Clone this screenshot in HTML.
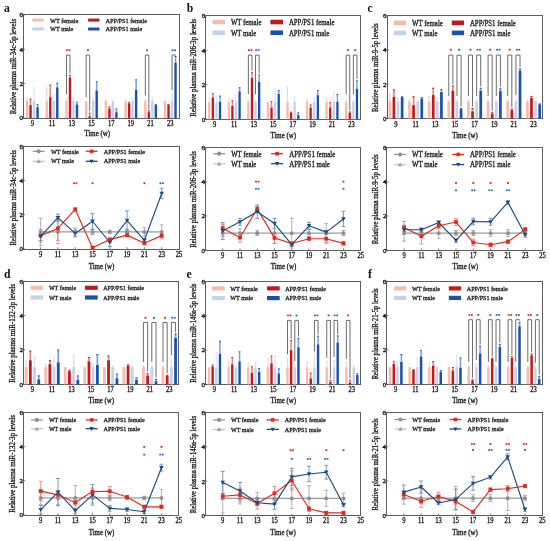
<!DOCTYPE html>
<html><head><meta charset="utf-8"><style>
html,body{margin:0;padding:0;background:#fff;}
body{width:550px;height:541px;overflow:hidden;font-family:"Liberation Serif", serif;}
svg{display:block;will-change:transform;}
</style></head><body>
<svg width="550" height="541" viewBox="0 0 550 541" font-family="'Liberation Serif', serif">
<rect width="550" height="541" fill="#fff"/>
<rect x="23.5" y="14.5" width="156" height="104" fill="none" stroke="#5e5e5e" stroke-width="1"/>
<rect x="32.3" y="18.6" width="11.4" height="3" fill="#f7bcae"/>
<rect x="32.3" y="27.5" width="11.4" height="3" fill="#c4d3ea"/>
<rect x="88.1" y="18.6" width="11.4" height="3" fill="#bf1b1f"/>
<rect x="88.1" y="27.5" width="11.4" height="3" fill="#1b51ae"/>
<text x="0" y="0" font-size="7" text-anchor="start" font-weight="normal" fill="#1c1c1c" stroke="#1c1c1c" stroke-width="0.32" transform="translate(50 22.7) scale(0.8976 1)">WT female</text>
<text x="0" y="0" font-size="7" text-anchor="start" font-weight="normal" fill="#1c1c1c" stroke="#1c1c1c" stroke-width="0.32" transform="translate(50 31) scale(0.8976 1)">WT male</text>
<text x="0" y="0" font-size="7" text-anchor="start" font-weight="normal" fill="#1c1c1c" stroke="#1c1c1c" stroke-width="0.32" transform="translate(105.5 22.7) scale(0.8882 1)">APP/PS1 female</text>
<text x="0" y="0" font-size="7" text-anchor="start" font-weight="normal" fill="#1c1c1c" stroke="#1c1c1c" stroke-width="0.32" transform="translate(105.5 31) scale(0.8882 1)">APP/PS1 male</text>
<line x1="27.05" y1="97.38" x2="27.05" y2="100.82" stroke="#f9d3c8" stroke-width="1.08"/>
<line x1="26.14" y1="97.78" x2="27.96" y2="97.78" stroke="#f9d3c8" stroke-width="0.9"/>
<rect x="25.85" y="100.82" width="2.4" height="17.18" fill="#f7bcae"/>
<line x1="30.55" y1="98.75" x2="30.55" y2="105.11" stroke="#e0857c" stroke-width="1.49"/>
<line x1="29.64" y1="99.15" x2="31.46" y2="99.15" stroke="#bf1b1f" stroke-width="0.9"/>
<rect x="29.35" y="105.11" width="2.4" height="12.89" fill="#bf1b1f"/>
<line x1="34.05" y1="87.41" x2="34.05" y2="100.82" stroke="#d8e2f2" stroke-width="1.08"/>
<line x1="33.14" y1="87.81" x2="34.96" y2="87.81" stroke="#d8e2f2" stroke-width="0.9"/>
<rect x="32.85" y="100.82" width="2.4" height="17.18" fill="#c4d3ea"/>
<line x1="37.55" y1="104.25" x2="37.55" y2="107.17" stroke="#7a9fd6" stroke-width="1.49"/>
<line x1="36.64" y1="104.65" x2="38.46" y2="104.65" stroke="#1b51ae" stroke-width="0.9"/>
<rect x="36.35" y="107.17" width="2.4" height="10.83" fill="#1b51ae"/>
<text x="0" y="0" font-size="7.3" text-anchor="middle" font-weight="normal" fill="#1c1c1c" stroke="#1c1c1c" stroke-width="0.32" transform="translate(32.3 125.5) scale(0.9000 1)">9</text>
<line x1="46.77" y1="87.76" x2="46.77" y2="100.82" stroke="#f9d3c8" stroke-width="1.08"/>
<line x1="45.85" y1="88.16" x2="47.68" y2="88.16" stroke="#f9d3c8" stroke-width="0.9"/>
<rect x="45.57" y="100.82" width="2.4" height="17.18" fill="#f7bcae"/>
<line x1="50.27" y1="84.66" x2="50.27" y2="97.21" stroke="#e0857c" stroke-width="1.49"/>
<line x1="49.35" y1="85.06" x2="51.18" y2="85.06" stroke="#bf1b1f" stroke-width="0.9"/>
<rect x="49.07" y="97.21" width="2.4" height="20.79" fill="#bf1b1f"/>
<line x1="53.77" y1="94.63" x2="53.77" y2="100.82" stroke="#d8e2f2" stroke-width="1.08"/>
<line x1="52.85" y1="95.03" x2="54.68" y2="95.03" stroke="#d8e2f2" stroke-width="0.9"/>
<rect x="52.57" y="100.82" width="2.4" height="17.18" fill="#c4d3ea"/>
<line x1="57.27" y1="82.77" x2="57.27" y2="87.41" stroke="#7a9fd6" stroke-width="1.49"/>
<line x1="56.35" y1="83.17" x2="58.18" y2="83.17" stroke="#1b51ae" stroke-width="0.9"/>
<rect x="56.07" y="87.41" width="2.4" height="30.59" fill="#1b51ae"/>
<text x="0" y="0" font-size="7.3" text-anchor="middle" font-weight="normal" fill="#1c1c1c" stroke="#1c1c1c" stroke-width="0.32" transform="translate(52.02 125.5) scale(0.9000 1)">11</text>
<line x1="66.48" y1="97.9" x2="66.48" y2="100.82" stroke="#f9d3c8" stroke-width="1.08"/>
<line x1="65.57" y1="98.3" x2="67.39" y2="98.3" stroke="#f9d3c8" stroke-width="0.9"/>
<rect x="65.28" y="100.82" width="2.4" height="17.18" fill="#f7bcae"/>
<line x1="69.98" y1="75.04" x2="69.98" y2="77.45" stroke="#e0857c" stroke-width="1.49"/>
<line x1="69.07" y1="75.44" x2="70.89" y2="75.44" stroke="#bf1b1f" stroke-width="0.9"/>
<rect x="68.78" y="77.45" width="2.4" height="40.55" fill="#bf1b1f"/>
<line x1="73.48" y1="97.38" x2="73.48" y2="100.82" stroke="#d8e2f2" stroke-width="1.08"/>
<line x1="72.57" y1="97.78" x2="74.39" y2="97.78" stroke="#d8e2f2" stroke-width="0.9"/>
<rect x="72.28" y="100.82" width="2.4" height="17.18" fill="#c4d3ea"/>
<line x1="76.98" y1="101.85" x2="76.98" y2="104.43" stroke="#7a9fd6" stroke-width="1.49"/>
<line x1="76.07" y1="102.25" x2="77.89" y2="102.25" stroke="#1b51ae" stroke-width="0.9"/>
<rect x="75.78" y="104.43" width="2.4" height="13.57" fill="#1b51ae"/>
<text x="0" y="0" font-size="7.3" text-anchor="middle" font-weight="normal" fill="#1c1c1c" stroke="#1c1c1c" stroke-width="0.32" transform="translate(71.73 125.5) scale(0.9000 1)">13</text>
<rect x="84.99" y="100.82" width="2.4" height="17.18" fill="#f7bcae"/>
<line x1="89.69" y1="112.84" x2="89.69" y2="116.28" stroke="#e0857c" stroke-width="1.49"/>
<line x1="88.78" y1="113.25" x2="90.61" y2="113.25" stroke="#bf1b1f" stroke-width="0.9"/>
<rect x="88.49" y="116.28" width="2.4" height="1.72" fill="#bf1b1f"/>
<line x1="93.19" y1="97.9" x2="93.19" y2="100.82" stroke="#d8e2f2" stroke-width="1.08"/>
<line x1="92.28" y1="98.3" x2="94.11" y2="98.3" stroke="#d8e2f2" stroke-width="0.9"/>
<rect x="91.99" y="100.82" width="2.4" height="17.18" fill="#c4d3ea"/>
<line x1="96.69" y1="81.4" x2="96.69" y2="90.68" stroke="#7a9fd6" stroke-width="1.49"/>
<line x1="95.78" y1="81.8" x2="97.61" y2="81.8" stroke="#1b51ae" stroke-width="0.9"/>
<rect x="95.49" y="90.68" width="2.4" height="27.32" fill="#1b51ae"/>
<text x="0" y="0" font-size="7.3" text-anchor="middle" font-weight="normal" fill="#1c1c1c" stroke="#1c1c1c" stroke-width="0.32" transform="translate(91.44 125.5) scale(0.9000 1)">15</text>
<line x1="105.91" y1="100.3" x2="105.91" y2="100.82" stroke="#f9d3c8" stroke-width="1.08"/>
<line x1="104.99" y1="100.7" x2="106.82" y2="100.7" stroke="#f9d3c8" stroke-width="0.9"/>
<rect x="104.71" y="100.82" width="2.4" height="17.18" fill="#f7bcae"/>
<line x1="109.41" y1="106.49" x2="109.41" y2="108.55" stroke="#e0857c" stroke-width="1.49"/>
<line x1="108.49" y1="106.89" x2="110.32" y2="106.89" stroke="#bf1b1f" stroke-width="0.9"/>
<rect x="108.21" y="108.55" width="2.4" height="9.45" fill="#bf1b1f"/>
<rect x="111.71" y="100.82" width="2.4" height="17.18" fill="#c4d3ea"/>
<line x1="116.41" y1="108.55" x2="116.41" y2="112.16" stroke="#7a9fd6" stroke-width="1.49"/>
<line x1="115.49" y1="108.95" x2="117.32" y2="108.95" stroke="#1b51ae" stroke-width="0.9"/>
<rect x="115.21" y="112.16" width="2.4" height="5.84" fill="#1b51ae"/>
<text x="0" y="0" font-size="7.3" text-anchor="middle" font-weight="normal" fill="#1c1c1c" stroke="#1c1c1c" stroke-width="0.32" transform="translate(111.16 125.5) scale(0.9000 1)">17</text>
<rect x="124.42" y="100.82" width="2.4" height="17.18" fill="#f7bcae"/>
<line x1="129.12" y1="102.19" x2="129.12" y2="103.39" stroke="#e0857c" stroke-width="1.49"/>
<line x1="128.21" y1="102.59" x2="130.03" y2="102.59" stroke="#bf1b1f" stroke-width="0.9"/>
<rect x="127.92" y="103.39" width="2.4" height="14.61" fill="#bf1b1f"/>
<line x1="132.62" y1="97.9" x2="132.62" y2="100.82" stroke="#d8e2f2" stroke-width="1.08"/>
<line x1="131.71" y1="98.3" x2="133.53" y2="98.3" stroke="#d8e2f2" stroke-width="0.9"/>
<rect x="131.42" y="100.82" width="2.4" height="17.18" fill="#c4d3ea"/>
<line x1="136.12" y1="79.51" x2="136.12" y2="89.99" stroke="#7a9fd6" stroke-width="1.49"/>
<line x1="135.21" y1="79.91" x2="137.03" y2="79.91" stroke="#1b51ae" stroke-width="0.9"/>
<rect x="134.92" y="89.99" width="2.4" height="28.01" fill="#1b51ae"/>
<text x="0" y="0" font-size="7.3" text-anchor="middle" font-weight="normal" fill="#1c1c1c" stroke="#1c1c1c" stroke-width="0.32" transform="translate(130.87 125.5) scale(0.9000 1)">19</text>
<line x1="145.33" y1="99.1" x2="145.33" y2="100.82" stroke="#f9d3c8" stroke-width="1.08"/>
<line x1="144.42" y1="99.5" x2="146.25" y2="99.5" stroke="#f9d3c8" stroke-width="0.9"/>
<rect x="144.13" y="100.82" width="2.4" height="17.18" fill="#f7bcae"/>
<line x1="148.83" y1="110.44" x2="148.83" y2="112.16" stroke="#e0857c" stroke-width="1.49"/>
<line x1="147.92" y1="110.84" x2="149.75" y2="110.84" stroke="#bf1b1f" stroke-width="0.9"/>
<rect x="147.63" y="112.16" width="2.4" height="5.84" fill="#bf1b1f"/>
<line x1="152.33" y1="96.86" x2="152.33" y2="100.82" stroke="#d8e2f2" stroke-width="1.08"/>
<line x1="151.42" y1="97.26" x2="153.25" y2="97.26" stroke="#d8e2f2" stroke-width="0.9"/>
<rect x="151.13" y="100.82" width="2.4" height="17.18" fill="#c4d3ea"/>
<line x1="155.83" y1="104.25" x2="155.83" y2="105.11" stroke="#7a9fd6" stroke-width="1.49"/>
<line x1="154.92" y1="104.65" x2="156.75" y2="104.65" stroke="#1b51ae" stroke-width="0.9"/>
<rect x="154.63" y="105.11" width="2.4" height="12.89" fill="#1b51ae"/>
<text x="0" y="0" font-size="7.3" text-anchor="middle" font-weight="normal" fill="#1c1c1c" stroke="#1c1c1c" stroke-width="0.32" transform="translate(150.58 125.5) scale(0.9000 1)">21</text>
<rect x="163.85" y="100.82" width="2.4" height="17.18" fill="#f7bcae"/>
<rect x="167.35" y="104.25" width="2.4" height="13.75" fill="#bf1b1f"/>
<line x1="172.05" y1="93.6" x2="172.05" y2="100.82" stroke="#d8e2f2" stroke-width="1.08"/>
<line x1="171.14" y1="94" x2="172.96" y2="94" stroke="#d8e2f2" stroke-width="0.9"/>
<rect x="170.85" y="100.82" width="2.4" height="17.18" fill="#c4d3ea"/>
<line x1="175.55" y1="56.14" x2="175.55" y2="62.67" stroke="#7a9fd6" stroke-width="1.49"/>
<line x1="174.64" y1="56.54" x2="176.46" y2="56.54" stroke="#1b51ae" stroke-width="0.9"/>
<rect x="174.35" y="62.67" width="2.4" height="55.33" fill="#1b51ae"/>
<text x="0" y="0" font-size="7.3" text-anchor="middle" font-weight="normal" fill="#1c1c1c" stroke="#1c1c1c" stroke-width="0.32" transform="translate(170.3 125.5) scale(0.9000 1)">23</text>
<polyline points="66.48,94.4 66.48,55.1 69.98,55.1 69.98,73.54" fill="none" stroke="#6c6c6c" stroke-width="1.0"/>
<rect x="66.08" y="49.35" width="1.8" height="1.7" fill="#d42a2a"/>
<rect x="68.58" y="49.35" width="1.8" height="1.7" fill="#d42a2a"/>
<polyline points="86.19,97.32 86.19,55.1 89.69,55.1 89.69,111.34" fill="none" stroke="#6c6c6c" stroke-width="1.0"/>
<rect x="86.99" y="49.3" width="1.9" height="1.8" fill="#d42a2a"/>
<polyline points="145.33,95.6 145.33,55.1 148.83,55.1 148.83,108.94" fill="none" stroke="#6c6c6c" stroke-width="1.0"/>
<rect x="146.13" y="49.3" width="1.9" height="1.8" fill="#d42a2a"/>
<polyline points="172.05,90.1 172.05,55.1 175.55,55.1 175.55,54.64" fill="none" stroke="#6c6c6c" stroke-width="1.0"/>
<rect x="171.65" y="49.35" width="1.8" height="1.7" fill="#2a62c0"/>
<rect x="174.15" y="49.35" width="1.8" height="1.7" fill="#2a62c0"/>
<line x1="21.5" y1="118" x2="25.1" y2="118" stroke="#5e5e5e" stroke-width="0.8"/>
<text x="0" y="0" font-size="7" text-anchor="end" font-weight="normal" fill="#1c1c1c" stroke="#1c1c1c" stroke-width="0.32" transform="translate(22.9 120.38) scale(1.0000 1)">0</text>
<line x1="21.5" y1="83.63" x2="25.1" y2="83.63" stroke="#5e5e5e" stroke-width="0.8"/>
<text x="0" y="0" font-size="7" text-anchor="end" font-weight="normal" fill="#1c1c1c" stroke="#1c1c1c" stroke-width="0.32" transform="translate(22.9 86.01) scale(1.0000 1)">2</text>
<line x1="21.5" y1="49.27" x2="25.1" y2="49.27" stroke="#5e5e5e" stroke-width="0.8"/>
<text x="0" y="0" font-size="7" text-anchor="end" font-weight="normal" fill="#1c1c1c" stroke="#1c1c1c" stroke-width="0.32" transform="translate(22.9 51.65) scale(1.0000 1)">4</text>
<line x1="21.5" y1="14.9" x2="25.1" y2="14.9" stroke="#5e5e5e" stroke-width="0.8"/>
<text x="0" y="0" font-size="7" text-anchor="end" font-weight="normal" fill="#1c1c1c" stroke="#1c1c1c" stroke-width="0.32" transform="translate(22.9 17.28) scale(1.0000 1)">6</text>
<text x="0" y="0" font-size="8" text-anchor="middle" font-weight="normal" fill="#1c1c1c" stroke="#1c1c1c" stroke-width="0.32" transform="translate(15.5 66.65) rotate(-90) scale(0.8479 1)">Relative plasma miR-34c-5p levels</text>
<text x="0" y="0" font-size="7.5" text-anchor="middle" font-weight="normal" fill="#1c1c1c" stroke="#1c1c1c" stroke-width="0.32" transform="translate(97.25 136) scale(0.9156 1)">Time (w)</text>
<text x="0" y="0" font-size="13" text-anchor="start" font-weight="bold" fill="#111" transform="translate(4.1 11.7) scale(0.9000 1)">a</text>
<rect x="205.5" y="15.5" width="155" height="104" fill="none" stroke="#5e5e5e" stroke-width="1"/>
<rect x="212.5" y="19.7" width="12.6" height="4.6" fill="#f7bcae"/>
<rect x="212.5" y="30.4" width="12.6" height="4.6" fill="#c4d3ea"/>
<rect x="270.4" y="19.7" width="12.6" height="4.6" fill="#bf1b1f"/>
<rect x="270.4" y="30.4" width="12.6" height="4.6" fill="#1b51ae"/>
<text x="0" y="0" font-size="7.64" text-anchor="start" font-weight="normal" fill="#1c1c1c" stroke="#1c1c1c" stroke-width="0.32" transform="translate(230.9 24.7) scale(0.8920 1)">WT female</text>
<text x="0" y="0" font-size="7.64" text-anchor="start" font-weight="normal" fill="#1c1c1c" stroke="#1c1c1c" stroke-width="0.32" transform="translate(230.9 35.6) scale(0.8920 1)">WT male</text>
<text x="0" y="0" font-size="7.64" text-anchor="start" font-weight="normal" fill="#1c1c1c" stroke="#1c1c1c" stroke-width="0.32" transform="translate(288.9 24.7) scale(0.8938 1)">APP/PS1 female</text>
<text x="0" y="0" font-size="7.64" text-anchor="start" font-weight="normal" fill="#1c1c1c" stroke="#1c1c1c" stroke-width="0.32" transform="translate(288.9 35.6) scale(0.8938 1)">APP/PS1 male</text>
<line x1="209.23" y1="97.47" x2="209.23" y2="101.95" stroke="#f9d3c8" stroke-width="1.03"/>
<line x1="208.36" y1="97.87" x2="210.11" y2="97.87" stroke="#f9d3c8" stroke-width="0.9"/>
<rect x="208.08" y="101.95" width="2.3" height="17.25" fill="#f7bcae"/>
<line x1="212.83" y1="93.33" x2="212.83" y2="97.47" stroke="#e0857c" stroke-width="1.43"/>
<line x1="211.96" y1="93.73" x2="213.71" y2="93.73" stroke="#bf1b1f" stroke-width="0.9"/>
<rect x="211.68" y="97.47" width="2.3" height="21.73" fill="#bf1b1f"/>
<line x1="216.43" y1="95.74" x2="216.43" y2="101.95" stroke="#d8e2f2" stroke-width="1.03"/>
<line x1="215.56" y1="96.14" x2="217.31" y2="96.14" stroke="#d8e2f2" stroke-width="0.9"/>
<rect x="215.28" y="101.95" width="2.3" height="17.25" fill="#c4d3ea"/>
<line x1="220.03" y1="95.74" x2="220.03" y2="101.95" stroke="#7a9fd6" stroke-width="1.43"/>
<line x1="219.16" y1="96.14" x2="220.91" y2="96.14" stroke="#1b51ae" stroke-width="0.9"/>
<rect x="218.88" y="101.95" width="2.3" height="17.25" fill="#1b51ae"/>
<text x="0" y="0" font-size="7.3" text-anchor="middle" font-weight="normal" fill="#1c1c1c" stroke="#1c1c1c" stroke-width="0.32" transform="translate(214.63 126.5) scale(0.9000 1)">9</text>
<line x1="228.79" y1="98.16" x2="228.79" y2="101.95" stroke="#f9d3c8" stroke-width="1.03"/>
<line x1="227.92" y1="98.56" x2="229.67" y2="98.56" stroke="#f9d3c8" stroke-width="0.9"/>
<rect x="227.64" y="101.95" width="2.3" height="17.25" fill="#f7bcae"/>
<line x1="232.39" y1="100.22" x2="232.39" y2="105.92" stroke="#e0857c" stroke-width="1.43"/>
<line x1="231.52" y1="100.62" x2="233.27" y2="100.62" stroke="#bf1b1f" stroke-width="0.9"/>
<rect x="231.24" y="105.92" width="2.3" height="13.28" fill="#bf1b1f"/>
<line x1="235.99" y1="94.53" x2="235.99" y2="101.95" stroke="#d8e2f2" stroke-width="1.03"/>
<line x1="235.12" y1="94.93" x2="236.87" y2="94.93" stroke="#d8e2f2" stroke-width="0.9"/>
<rect x="234.84" y="101.95" width="2.3" height="17.25" fill="#c4d3ea"/>
<line x1="239.59" y1="87.29" x2="239.59" y2="91.43" stroke="#7a9fd6" stroke-width="1.43"/>
<line x1="238.72" y1="87.69" x2="240.47" y2="87.69" stroke="#1b51ae" stroke-width="0.9"/>
<rect x="238.44" y="91.43" width="2.3" height="27.77" fill="#1b51ae"/>
<text x="0" y="0" font-size="7.3" text-anchor="middle" font-weight="normal" fill="#1c1c1c" stroke="#1c1c1c" stroke-width="0.32" transform="translate(234.19 126.5) scale(0.9000 1)">11</text>
<line x1="248.36" y1="100.22" x2="248.36" y2="101.95" stroke="#f9d3c8" stroke-width="1.03"/>
<line x1="247.48" y1="100.62" x2="249.23" y2="100.62" stroke="#f9d3c8" stroke-width="0.9"/>
<rect x="247.21" y="101.95" width="2.3" height="17.25" fill="#f7bcae"/>
<line x1="251.96" y1="72.28" x2="251.96" y2="77.97" stroke="#e0857c" stroke-width="1.43"/>
<line x1="251.08" y1="72.68" x2="252.83" y2="72.68" stroke="#bf1b1f" stroke-width="0.9"/>
<rect x="250.81" y="77.97" width="2.3" height="41.23" fill="#bf1b1f"/>
<line x1="255.56" y1="100.22" x2="255.56" y2="101.95" stroke="#d8e2f2" stroke-width="1.03"/>
<line x1="254.68" y1="100.62" x2="256.43" y2="100.62" stroke="#d8e2f2" stroke-width="0.9"/>
<rect x="254.41" y="101.95" width="2.3" height="17.25" fill="#c4d3ea"/>
<line x1="259.16" y1="74.69" x2="259.16" y2="81.94" stroke="#7a9fd6" stroke-width="1.43"/>
<line x1="258.28" y1="75.09" x2="260.03" y2="75.09" stroke="#1b51ae" stroke-width="0.9"/>
<rect x="258.01" y="81.94" width="2.3" height="37.26" fill="#1b51ae"/>
<text x="0" y="0" font-size="7.3" text-anchor="middle" font-weight="normal" fill="#1c1c1c" stroke="#1c1c1c" stroke-width="0.32" transform="translate(253.76 126.5) scale(0.9000 1)">13</text>
<rect x="266.77" y="101.95" width="2.3" height="17.25" fill="#f7bcae"/>
<line x1="271.52" y1="101.09" x2="271.52" y2="107.47" stroke="#e0857c" stroke-width="1.43"/>
<line x1="270.64" y1="101.49" x2="272.39" y2="101.49" stroke="#bf1b1f" stroke-width="0.9"/>
<rect x="270.37" y="107.47" width="2.3" height="11.73" fill="#bf1b1f"/>
<line x1="275.12" y1="88.15" x2="275.12" y2="101.95" stroke="#d8e2f2" stroke-width="1.03"/>
<line x1="274.24" y1="88.55" x2="275.99" y2="88.55" stroke="#d8e2f2" stroke-width="0.9"/>
<rect x="273.97" y="101.95" width="2.3" height="17.25" fill="#c4d3ea"/>
<line x1="278.72" y1="90.22" x2="278.72" y2="93.84" stroke="#7a9fd6" stroke-width="1.43"/>
<line x1="277.84" y1="90.62" x2="279.59" y2="90.62" stroke="#1b51ae" stroke-width="0.9"/>
<rect x="277.57" y="93.84" width="2.3" height="25.36" fill="#1b51ae"/>
<text x="0" y="0" font-size="7.3" text-anchor="middle" font-weight="normal" fill="#1c1c1c" stroke="#1c1c1c" stroke-width="0.32" transform="translate(273.32 126.5) scale(0.9000 1)">15</text>
<line x1="287.48" y1="86.6" x2="287.48" y2="101.95" stroke="#f9d3c8" stroke-width="1.03"/>
<line x1="286.61" y1="87" x2="288.36" y2="87" stroke="#f9d3c8" stroke-width="0.9"/>
<rect x="286.33" y="101.95" width="2.3" height="17.25" fill="#f7bcae"/>
<line x1="291.08" y1="111.78" x2="291.08" y2="112.65" stroke="#e0857c" stroke-width="1.43"/>
<line x1="290.21" y1="112.18" x2="291.96" y2="112.18" stroke="#bf1b1f" stroke-width="0.9"/>
<rect x="289.93" y="112.65" width="2.3" height="6.55" fill="#bf1b1f"/>
<line x1="294.68" y1="95.91" x2="294.68" y2="101.95" stroke="#d8e2f2" stroke-width="1.03"/>
<line x1="293.81" y1="96.31" x2="295.56" y2="96.31" stroke="#d8e2f2" stroke-width="0.9"/>
<rect x="293.53" y="101.95" width="2.3" height="17.25" fill="#c4d3ea"/>
<line x1="298.28" y1="112.47" x2="298.28" y2="115.06" stroke="#7a9fd6" stroke-width="1.43"/>
<line x1="297.41" y1="112.87" x2="299.16" y2="112.87" stroke="#1b51ae" stroke-width="0.9"/>
<rect x="297.13" y="115.06" width="2.3" height="4.14" fill="#1b51ae"/>
<text x="0" y="0" font-size="7.3" text-anchor="middle" font-weight="normal" fill="#1c1c1c" stroke="#1c1c1c" stroke-width="0.32" transform="translate(292.88 126.5) scale(0.9000 1)">17</text>
<line x1="307.04" y1="98.84" x2="307.04" y2="101.95" stroke="#f9d3c8" stroke-width="1.03"/>
<line x1="306.17" y1="99.25" x2="307.92" y2="99.25" stroke="#f9d3c8" stroke-width="0.9"/>
<rect x="305.89" y="101.95" width="2.3" height="17.25" fill="#f7bcae"/>
<line x1="310.64" y1="104.54" x2="310.64" y2="107.47" stroke="#e0857c" stroke-width="1.43"/>
<line x1="309.77" y1="104.94" x2="311.52" y2="104.94" stroke="#bf1b1f" stroke-width="0.9"/>
<rect x="309.49" y="107.47" width="2.3" height="11.73" fill="#bf1b1f"/>
<line x1="314.24" y1="97.29" x2="314.24" y2="101.95" stroke="#d8e2f2" stroke-width="1.03"/>
<line x1="313.37" y1="97.69" x2="315.12" y2="97.69" stroke="#d8e2f2" stroke-width="0.9"/>
<rect x="313.09" y="101.95" width="2.3" height="17.25" fill="#c4d3ea"/>
<line x1="317.84" y1="90.22" x2="317.84" y2="95.22" stroke="#7a9fd6" stroke-width="1.43"/>
<line x1="316.97" y1="90.62" x2="318.72" y2="90.62" stroke="#1b51ae" stroke-width="0.9"/>
<rect x="316.69" y="95.22" width="2.3" height="23.98" fill="#1b51ae"/>
<text x="0" y="0" font-size="7.3" text-anchor="middle" font-weight="normal" fill="#1c1c1c" stroke="#1c1c1c" stroke-width="0.32" transform="translate(312.44 126.5) scale(0.9000 1)">19</text>
<line x1="326.61" y1="98.16" x2="326.61" y2="101.95" stroke="#f9d3c8" stroke-width="1.03"/>
<line x1="325.73" y1="98.56" x2="327.48" y2="98.56" stroke="#f9d3c8" stroke-width="0.9"/>
<rect x="325.46" y="101.95" width="2.3" height="17.25" fill="#f7bcae"/>
<line x1="330.21" y1="102.3" x2="330.21" y2="107.47" stroke="#e0857c" stroke-width="1.43"/>
<line x1="329.33" y1="102.7" x2="331.08" y2="102.7" stroke="#bf1b1f" stroke-width="0.9"/>
<rect x="329.06" y="107.47" width="2.3" height="11.73" fill="#bf1b1f"/>
<line x1="333.81" y1="91.6" x2="333.81" y2="101.95" stroke="#d8e2f2" stroke-width="1.03"/>
<line x1="332.93" y1="92" x2="334.68" y2="92" stroke="#d8e2f2" stroke-width="0.9"/>
<rect x="332.66" y="101.95" width="2.3" height="17.25" fill="#c4d3ea"/>
<line x1="337.41" y1="94.19" x2="337.41" y2="101.61" stroke="#7a9fd6" stroke-width="1.43"/>
<line x1="336.53" y1="94.59" x2="338.28" y2="94.59" stroke="#1b51ae" stroke-width="0.9"/>
<rect x="336.26" y="101.61" width="2.3" height="17.59" fill="#1b51ae"/>
<text x="0" y="0" font-size="7.3" text-anchor="middle" font-weight="normal" fill="#1c1c1c" stroke="#1c1c1c" stroke-width="0.32" transform="translate(332.01 126.5) scale(0.9000 1)">21</text>
<line x1="346.17" y1="100.22" x2="346.17" y2="101.95" stroke="#f9d3c8" stroke-width="1.03"/>
<line x1="345.29" y1="100.62" x2="347.04" y2="100.62" stroke="#f9d3c8" stroke-width="0.9"/>
<rect x="345.02" y="101.95" width="2.3" height="17.25" fill="#f7bcae"/>
<line x1="349.77" y1="111.44" x2="349.77" y2="112.65" stroke="#e0857c" stroke-width="1.43"/>
<line x1="348.89" y1="111.84" x2="350.64" y2="111.84" stroke="#bf1b1f" stroke-width="0.9"/>
<rect x="348.62" y="112.65" width="2.3" height="6.55" fill="#bf1b1f"/>
<line x1="353.37" y1="100.22" x2="353.37" y2="101.95" stroke="#d8e2f2" stroke-width="1.03"/>
<line x1="352.49" y1="100.62" x2="354.24" y2="100.62" stroke="#d8e2f2" stroke-width="0.9"/>
<rect x="352.22" y="101.95" width="2.3" height="17.25" fill="#c4d3ea"/>
<line x1="356.97" y1="80.39" x2="356.97" y2="88.67" stroke="#7a9fd6" stroke-width="1.43"/>
<line x1="356.09" y1="80.79" x2="357.84" y2="80.79" stroke="#1b51ae" stroke-width="0.9"/>
<rect x="355.82" y="88.67" width="2.3" height="30.53" fill="#1b51ae"/>
<text x="0" y="0" font-size="7.3" text-anchor="middle" font-weight="normal" fill="#1c1c1c" stroke="#1c1c1c" stroke-width="0.32" transform="translate(351.57 126.5) scale(0.9000 1)">23</text>
<polyline points="248.36,94.22 248.36,55.1 251.96,55.1 251.96,70.78" fill="none" stroke="#6c6c6c" stroke-width="1.0"/>
<rect x="248.01" y="49.25" width="1.8" height="1.7" fill="#d42a2a"/>
<rect x="250.51" y="49.25" width="1.8" height="1.7" fill="#d42a2a"/>
<polyline points="255.56,94.22 255.56,55.1 259.16,55.1 259.16,73.19" fill="none" stroke="#6c6c6c" stroke-width="1.0"/>
<rect x="255.21" y="49.25" width="1.8" height="1.7" fill="#2a62c0"/>
<rect x="257.71" y="49.25" width="1.8" height="1.7" fill="#2a62c0"/>
<polyline points="346.17,94.22 346.17,55.1 349.77,55.1 349.77,109.94" fill="none" stroke="#6c6c6c" stroke-width="1.0"/>
<rect x="347.02" y="49.2" width="1.9" height="1.8" fill="#d42a2a"/>
<polyline points="353.37,94.22 353.37,55.1 356.97,55.1 356.97,78.89" fill="none" stroke="#6c6c6c" stroke-width="1.0"/>
<rect x="354.22" y="49.2" width="1.9" height="1.8" fill="#2a62c0"/>
<line x1="203.9" y1="119.2" x2="207.5" y2="119.2" stroke="#5e5e5e" stroke-width="0.8"/>
<text x="0" y="0" font-size="7" text-anchor="end" font-weight="normal" fill="#1c1c1c" stroke="#1c1c1c" stroke-width="0.32" transform="translate(205.3 121.58) scale(1.0000 1)">0</text>
<line x1="203.9" y1="84.7" x2="207.5" y2="84.7" stroke="#5e5e5e" stroke-width="0.8"/>
<text x="0" y="0" font-size="7" text-anchor="end" font-weight="normal" fill="#1c1c1c" stroke="#1c1c1c" stroke-width="0.32" transform="translate(205.3 87.08) scale(1.0000 1)">2</text>
<line x1="203.9" y1="50.2" x2="207.5" y2="50.2" stroke="#5e5e5e" stroke-width="0.8"/>
<text x="0" y="0" font-size="7" text-anchor="end" font-weight="normal" fill="#1c1c1c" stroke="#1c1c1c" stroke-width="0.32" transform="translate(205.3 52.58) scale(1.0000 1)">4</text>
<line x1="203.9" y1="15.7" x2="207.5" y2="15.7" stroke="#5e5e5e" stroke-width="0.8"/>
<text x="0" y="0" font-size="7" text-anchor="end" font-weight="normal" fill="#1c1c1c" stroke="#1c1c1c" stroke-width="0.32" transform="translate(205.3 18.08) scale(1.0000 1)">6</text>
<text x="0" y="0" font-size="8" text-anchor="middle" font-weight="normal" fill="#1c1c1c" stroke="#1c1c1c" stroke-width="0.32" transform="translate(195.5 67.8) rotate(-90) scale(0.8648 1)">Relative plasma miR-206-3p levels</text>
<text x="0" y="0" font-size="7.5" text-anchor="middle" font-weight="normal" fill="#1c1c1c" stroke="#1c1c1c" stroke-width="0.32" transform="translate(283.25 137.8) scale(0.9156 1)">Time (w)</text>
<text x="0" y="0" font-size="13" text-anchor="start" font-weight="bold" fill="#111" transform="translate(186.7 11.7) scale(0.9000 1)">b</text>
<rect x="387.5" y="15.5" width="155" height="103" fill="none" stroke="#5e5e5e" stroke-width="1"/>
<rect x="393.8" y="20.5" width="12.3" height="4.6" fill="#f7bcae"/>
<rect x="393.8" y="30.6" width="12.3" height="4.6" fill="#c4d3ea"/>
<rect x="451.8" y="20.5" width="12.3" height="4.6" fill="#bf1b1f"/>
<rect x="451.8" y="30.6" width="12.3" height="4.6" fill="#1b51ae"/>
<text x="0" y="0" font-size="7.69" text-anchor="start" font-weight="normal" fill="#1c1c1c" stroke="#1c1c1c" stroke-width="0.32" transform="translate(412 25.6) scale(0.8919 1)">WT female</text>
<text x="0" y="0" font-size="7.69" text-anchor="start" font-weight="normal" fill="#1c1c1c" stroke="#1c1c1c" stroke-width="0.32" transform="translate(412 35.6) scale(0.8919 1)">WT male</text>
<text x="0" y="0" font-size="7.69" text-anchor="start" font-weight="normal" fill="#1c1c1c" stroke="#1c1c1c" stroke-width="0.32" transform="translate(469.9 25.6) scale(0.8938 1)">APP/PS1 female</text>
<text x="0" y="0" font-size="7.69" text-anchor="start" font-weight="normal" fill="#1c1c1c" stroke="#1c1c1c" stroke-width="0.32" transform="translate(469.9 35.6) scale(0.8938 1)">APP/PS1 male</text>
<line x1="389.82" y1="93.66" x2="389.82" y2="101.54" stroke="#f9d3c8" stroke-width="1.22"/>
<line x1="388.8" y1="94.06" x2="390.85" y2="94.06" stroke="#f9d3c8" stroke-width="0.9"/>
<rect x="388.47" y="101.54" width="2.7" height="16.96" fill="#f7bcae"/>
<line x1="393.92" y1="89.37" x2="393.92" y2="96.91" stroke="#e0857c" stroke-width="1.67"/>
<line x1="392.9" y1="89.77" x2="394.95" y2="89.77" stroke="#bf1b1f" stroke-width="0.9"/>
<rect x="392.57" y="96.91" width="2.7" height="21.59" fill="#bf1b1f"/>
<line x1="398.02" y1="97.94" x2="398.02" y2="101.37" stroke="#d8e2f2" stroke-width="1.22"/>
<line x1="397" y1="98.34" x2="399.05" y2="98.34" stroke="#d8e2f2" stroke-width="0.9"/>
<rect x="396.67" y="101.37" width="2.7" height="17.13" fill="#c4d3ea"/>
<line x1="402.12" y1="96.4" x2="402.12" y2="97.25" stroke="#7a9fd6" stroke-width="1.67"/>
<line x1="401.1" y1="96.8" x2="403.15" y2="96.8" stroke="#1b51ae" stroke-width="0.9"/>
<rect x="400.77" y="97.25" width="2.7" height="21.25" fill="#1b51ae"/>
<text x="0" y="0" font-size="7.3" text-anchor="middle" font-weight="normal" fill="#1c1c1c" stroke="#1c1c1c" stroke-width="0.32" transform="translate(395.97 126.9) scale(0.9000 1)">9</text>
<line x1="409.47" y1="99.31" x2="409.47" y2="101.37" stroke="#f9d3c8" stroke-width="1.22"/>
<line x1="408.45" y1="99.71" x2="410.5" y2="99.71" stroke="#f9d3c8" stroke-width="0.9"/>
<rect x="408.12" y="101.37" width="2.7" height="17.13" fill="#f7bcae"/>
<line x1="413.57" y1="96.4" x2="413.57" y2="105.14" stroke="#e0857c" stroke-width="1.67"/>
<line x1="412.55" y1="96.8" x2="414.6" y2="96.8" stroke="#bf1b1f" stroke-width="0.9"/>
<rect x="412.22" y="105.14" width="2.7" height="13.36" fill="#bf1b1f"/>
<line x1="417.67" y1="100" x2="417.67" y2="101.37" stroke="#d8e2f2" stroke-width="1.22"/>
<line x1="416.65" y1="100.4" x2="418.7" y2="100.4" stroke="#d8e2f2" stroke-width="0.9"/>
<rect x="416.32" y="101.37" width="2.7" height="17.13" fill="#c4d3ea"/>
<line x1="421.77" y1="97.25" x2="421.77" y2="98.63" stroke="#7a9fd6" stroke-width="1.67"/>
<line x1="420.75" y1="97.65" x2="422.8" y2="97.65" stroke="#1b51ae" stroke-width="0.9"/>
<rect x="420.42" y="98.63" width="2.7" height="19.87" fill="#1b51ae"/>
<text x="0" y="0" font-size="7.3" text-anchor="middle" font-weight="normal" fill="#1c1c1c" stroke="#1c1c1c" stroke-width="0.32" transform="translate(415.62 126.9) scale(0.9000 1)">11</text>
<line x1="429.12" y1="96.4" x2="429.12" y2="101.37" stroke="#f9d3c8" stroke-width="1.22"/>
<line x1="428.1" y1="96.8" x2="430.15" y2="96.8" stroke="#f9d3c8" stroke-width="0.9"/>
<rect x="427.77" y="101.37" width="2.7" height="17.13" fill="#f7bcae"/>
<line x1="433.22" y1="87.83" x2="433.22" y2="95.03" stroke="#e0857c" stroke-width="1.67"/>
<line x1="432.2" y1="88.23" x2="434.25" y2="88.23" stroke="#bf1b1f" stroke-width="0.9"/>
<rect x="431.87" y="95.03" width="2.7" height="23.47" fill="#bf1b1f"/>
<line x1="437.32" y1="97.25" x2="437.32" y2="101.37" stroke="#d8e2f2" stroke-width="1.22"/>
<line x1="436.3" y1="97.65" x2="438.35" y2="97.65" stroke="#d8e2f2" stroke-width="0.9"/>
<rect x="435.97" y="101.37" width="2.7" height="17.13" fill="#c4d3ea"/>
<line x1="441.42" y1="89.37" x2="441.42" y2="92.11" stroke="#7a9fd6" stroke-width="1.67"/>
<line x1="440.4" y1="89.77" x2="442.45" y2="89.77" stroke="#1b51ae" stroke-width="0.9"/>
<rect x="440.07" y="92.11" width="2.7" height="26.39" fill="#1b51ae"/>
<text x="0" y="0" font-size="7.3" text-anchor="middle" font-weight="normal" fill="#1c1c1c" stroke="#1c1c1c" stroke-width="0.32" transform="translate(435.27 126.9) scale(0.9000 1)">13</text>
<line x1="448.77" y1="99.65" x2="448.77" y2="101.37" stroke="#f9d3c8" stroke-width="1.22"/>
<line x1="447.75" y1="100.05" x2="449.8" y2="100.05" stroke="#f9d3c8" stroke-width="0.9"/>
<rect x="447.42" y="101.37" width="2.7" height="17.13" fill="#f7bcae"/>
<line x1="452.87" y1="85.6" x2="452.87" y2="90.74" stroke="#e0857c" stroke-width="1.67"/>
<line x1="451.85" y1="86" x2="453.9" y2="86" stroke="#bf1b1f" stroke-width="0.9"/>
<rect x="451.52" y="90.74" width="2.7" height="27.76" fill="#bf1b1f"/>
<line x1="456.97" y1="99.65" x2="456.97" y2="101.37" stroke="#d8e2f2" stroke-width="1.22"/>
<line x1="455.95" y1="100.05" x2="458" y2="100.05" stroke="#d8e2f2" stroke-width="0.9"/>
<rect x="455.62" y="101.37" width="2.7" height="17.13" fill="#c4d3ea"/>
<line x1="461.07" y1="108.05" x2="461.07" y2="109.08" stroke="#7a9fd6" stroke-width="1.67"/>
<line x1="460.05" y1="108.45" x2="462.1" y2="108.45" stroke="#1b51ae" stroke-width="0.9"/>
<rect x="459.72" y="109.08" width="2.7" height="9.42" fill="#1b51ae"/>
<text x="0" y="0" font-size="7.3" text-anchor="middle" font-weight="normal" fill="#1c1c1c" stroke="#1c1c1c" stroke-width="0.32" transform="translate(454.92 126.9) scale(0.9000 1)">15</text>
<line x1="468.43" y1="99.65" x2="468.43" y2="101.37" stroke="#f9d3c8" stroke-width="1.22"/>
<line x1="467.4" y1="100.05" x2="469.45" y2="100.05" stroke="#f9d3c8" stroke-width="0.9"/>
<rect x="467.08" y="101.37" width="2.7" height="17.13" fill="#f7bcae"/>
<line x1="472.53" y1="108.05" x2="472.53" y2="111.3" stroke="#e0857c" stroke-width="1.67"/>
<line x1="471.5" y1="108.45" x2="473.55" y2="108.45" stroke="#bf1b1f" stroke-width="0.9"/>
<rect x="471.18" y="111.3" width="2.7" height="7.2" fill="#bf1b1f"/>
<line x1="476.63" y1="99.65" x2="476.63" y2="101.37" stroke="#d8e2f2" stroke-width="1.22"/>
<line x1="475.6" y1="100.05" x2="477.65" y2="100.05" stroke="#d8e2f2" stroke-width="0.9"/>
<rect x="475.28" y="101.37" width="2.7" height="17.13" fill="#c4d3ea"/>
<line x1="480.73" y1="87.83" x2="480.73" y2="90.74" stroke="#7a9fd6" stroke-width="1.67"/>
<line x1="479.7" y1="88.23" x2="481.75" y2="88.23" stroke="#1b51ae" stroke-width="0.9"/>
<rect x="479.38" y="90.74" width="2.7" height="27.76" fill="#1b51ae"/>
<text x="0" y="0" font-size="7.3" text-anchor="middle" font-weight="normal" fill="#1c1c1c" stroke="#1c1c1c" stroke-width="0.32" transform="translate(474.58 126.9) scale(0.9000 1)">17</text>
<line x1="488.08" y1="99.65" x2="488.08" y2="101.37" stroke="#f9d3c8" stroke-width="1.22"/>
<line x1="487.05" y1="100.05" x2="489.1" y2="100.05" stroke="#f9d3c8" stroke-width="0.9"/>
<rect x="486.73" y="101.37" width="2.7" height="17.13" fill="#f7bcae"/>
<line x1="492.18" y1="112.33" x2="492.18" y2="113.7" stroke="#e0857c" stroke-width="1.67"/>
<line x1="491.15" y1="112.73" x2="493.2" y2="112.73" stroke="#bf1b1f" stroke-width="0.9"/>
<rect x="490.83" y="113.7" width="2.7" height="4.8" fill="#bf1b1f"/>
<line x1="496.28" y1="99.65" x2="496.28" y2="101.37" stroke="#d8e2f2" stroke-width="1.22"/>
<line x1="495.25" y1="100.05" x2="497.3" y2="100.05" stroke="#d8e2f2" stroke-width="0.9"/>
<rect x="494.93" y="101.37" width="2.7" height="17.13" fill="#c4d3ea"/>
<line x1="500.38" y1="88.35" x2="500.38" y2="91.09" stroke="#7a9fd6" stroke-width="1.67"/>
<line x1="499.35" y1="88.75" x2="501.4" y2="88.75" stroke="#1b51ae" stroke-width="0.9"/>
<rect x="499.03" y="91.09" width="2.7" height="27.41" fill="#1b51ae"/>
<text x="0" y="0" font-size="7.3" text-anchor="middle" font-weight="normal" fill="#1c1c1c" stroke="#1c1c1c" stroke-width="0.32" transform="translate(494.23 126.9) scale(0.9000 1)">19</text>
<line x1="507.73" y1="99.65" x2="507.73" y2="101.37" stroke="#f9d3c8" stroke-width="1.22"/>
<line x1="506.7" y1="100.05" x2="508.75" y2="100.05" stroke="#f9d3c8" stroke-width="0.9"/>
<rect x="506.38" y="101.37" width="2.7" height="17.13" fill="#f7bcae"/>
<line x1="511.83" y1="108.73" x2="511.83" y2="110.1" stroke="#e0857c" stroke-width="1.67"/>
<line x1="510.8" y1="109.13" x2="512.85" y2="109.13" stroke="#bf1b1f" stroke-width="0.9"/>
<rect x="510.48" y="110.1" width="2.7" height="8.4" fill="#bf1b1f"/>
<line x1="515.93" y1="98.8" x2="515.93" y2="101.37" stroke="#d8e2f2" stroke-width="1.22"/>
<line x1="514.9" y1="99.2" x2="516.95" y2="99.2" stroke="#d8e2f2" stroke-width="0.9"/>
<rect x="514.58" y="101.37" width="2.7" height="17.13" fill="#c4d3ea"/>
<line x1="520.03" y1="68.47" x2="520.03" y2="70.53" stroke="#7a9fd6" stroke-width="1.67"/>
<line x1="519" y1="68.87" x2="521.05" y2="68.87" stroke="#1b51ae" stroke-width="0.9"/>
<rect x="518.68" y="70.53" width="2.7" height="47.97" fill="#1b51ae"/>
<text x="0" y="0" font-size="7.3" text-anchor="middle" font-weight="normal" fill="#1c1c1c" stroke="#1c1c1c" stroke-width="0.32" transform="translate(513.88 126.9) scale(0.9000 1)">21</text>
<line x1="527.38" y1="99.65" x2="527.38" y2="101.37" stroke="#f9d3c8" stroke-width="1.22"/>
<line x1="526.35" y1="100.05" x2="528.4" y2="100.05" stroke="#f9d3c8" stroke-width="0.9"/>
<rect x="526.03" y="101.37" width="2.7" height="17.13" fill="#f7bcae"/>
<line x1="531.48" y1="96.06" x2="531.48" y2="97.94" stroke="#e0857c" stroke-width="1.67"/>
<line x1="530.45" y1="96.46" x2="532.5" y2="96.46" stroke="#bf1b1f" stroke-width="0.9"/>
<rect x="530.13" y="97.94" width="2.7" height="20.56" fill="#bf1b1f"/>
<line x1="535.58" y1="100" x2="535.58" y2="101.37" stroke="#d8e2f2" stroke-width="1.22"/>
<line x1="534.55" y1="100.4" x2="536.6" y2="100.4" stroke="#d8e2f2" stroke-width="0.9"/>
<rect x="534.23" y="101.37" width="2.7" height="17.13" fill="#c4d3ea"/>
<line x1="539.68" y1="103.59" x2="539.68" y2="104.45" stroke="#7a9fd6" stroke-width="1.67"/>
<line x1="538.65" y1="103.99" x2="540.7" y2="103.99" stroke="#1b51ae" stroke-width="0.9"/>
<rect x="538.33" y="104.45" width="2.7" height="14.05" fill="#1b51ae"/>
<text x="0" y="0" font-size="7.3" text-anchor="middle" font-weight="normal" fill="#1c1c1c" stroke="#1c1c1c" stroke-width="0.32" transform="translate(533.53 126.9) scale(0.9000 1)">23</text>
<polyline points="448.77,96.15 448.77,55.1 452.87,55.1 452.87,84.1" fill="none" stroke="#6c6c6c" stroke-width="1.0"/>
<rect x="449.87" y="48.8" width="1.9" height="1.8" fill="#d42a2a"/>
<polyline points="456.97,96.15 456.97,55.1 461.07,55.1 461.07,106.55" fill="none" stroke="#6c6c6c" stroke-width="1.0"/>
<rect x="458.07" y="48.8" width="1.9" height="1.8" fill="#2a62c0"/>
<polyline points="468.43,96.15 468.43,55.1 472.53,55.1 472.53,106.55" fill="none" stroke="#6c6c6c" stroke-width="1.0"/>
<rect x="469.53" y="48.8" width="1.9" height="1.8" fill="#d42a2a"/>
<polyline points="476.63,96.15 476.63,55.1 480.73,55.1 480.73,86.33" fill="none" stroke="#6c6c6c" stroke-width="1.0"/>
<rect x="476.53" y="48.85" width="1.8" height="1.7" fill="#2a62c0"/>
<rect x="479.03" y="48.85" width="1.8" height="1.7" fill="#2a62c0"/>
<polyline points="488.08,96.15 488.08,55.1 492.18,55.1 492.18,110.83" fill="none" stroke="#6c6c6c" stroke-width="1.0"/>
<rect x="489.18" y="48.8" width="1.9" height="1.8" fill="#d42a2a"/>
<polyline points="496.28,96.15 496.28,55.1 500.38,55.1 500.38,86.85" fill="none" stroke="#6c6c6c" stroke-width="1.0"/>
<rect x="496.18" y="48.85" width="1.8" height="1.7" fill="#2a62c0"/>
<rect x="498.68" y="48.85" width="1.8" height="1.7" fill="#2a62c0"/>
<polyline points="507.73,96.15 507.73,55.1 511.83,55.1 511.83,107.23" fill="none" stroke="#6c6c6c" stroke-width="1.0"/>
<rect x="508.83" y="48.8" width="1.9" height="1.8" fill="#d42a2a"/>
<polyline points="515.93,95.3 515.93,55.1 520.03,55.1 520.03,66.97" fill="none" stroke="#6c6c6c" stroke-width="1.0"/>
<rect x="515.83" y="48.85" width="1.8" height="1.7" fill="#2a62c0"/>
<rect x="518.33" y="48.85" width="1.8" height="1.7" fill="#2a62c0"/>
<line x1="385.2" y1="118.5" x2="388.8" y2="118.5" stroke="#5e5e5e" stroke-width="0.8"/>
<text x="0" y="0" font-size="7" text-anchor="end" font-weight="normal" fill="#1c1c1c" stroke="#1c1c1c" stroke-width="0.32" transform="translate(386.6 120.88) scale(1.0000 1)">0</text>
<line x1="385.2" y1="84.23" x2="388.8" y2="84.23" stroke="#5e5e5e" stroke-width="0.8"/>
<text x="0" y="0" font-size="7" text-anchor="end" font-weight="normal" fill="#1c1c1c" stroke="#1c1c1c" stroke-width="0.32" transform="translate(386.6 86.61) scale(1.0000 1)">2</text>
<line x1="385.2" y1="49.97" x2="388.8" y2="49.97" stroke="#5e5e5e" stroke-width="0.8"/>
<text x="0" y="0" font-size="7" text-anchor="end" font-weight="normal" fill="#1c1c1c" stroke="#1c1c1c" stroke-width="0.32" transform="translate(386.6 52.35) scale(1.0000 1)">4</text>
<line x1="385.2" y1="15.7" x2="388.8" y2="15.7" stroke="#5e5e5e" stroke-width="0.8"/>
<text x="0" y="0" font-size="7" text-anchor="end" font-weight="normal" fill="#1c1c1c" stroke="#1c1c1c" stroke-width="0.32" transform="translate(386.6 18.08) scale(1.0000 1)">6</text>
<text x="0" y="0" font-size="8" text-anchor="middle" font-weight="normal" fill="#1c1c1c" stroke="#1c1c1c" stroke-width="0.32" transform="translate(378 67.75) rotate(-90) scale(0.8460 1)">Relative plasma miR-9-5p levels</text>
<text x="0" y="0" font-size="7.5" text-anchor="middle" font-weight="normal" fill="#1c1c1c" stroke="#1c1c1c" stroke-width="0.32" transform="translate(465 137.6) scale(0.9156 1)">Time (w)</text>
<text x="0" y="0" font-size="13" text-anchor="start" font-weight="bold" fill="#111" transform="translate(367.5 11.7) scale(0.9000 1)">c</text>
<rect x="23.5" y="281.5" width="155" height="103" fill="none" stroke="#5e5e5e" stroke-width="1"/>
<rect x="30.5" y="285.7" width="12.7" height="4.2" fill="#f7bcae"/>
<rect x="30.5" y="295.4" width="12.7" height="4.2" fill="#c4d3ea"/>
<rect x="85" y="285.7" width="12.7" height="4.2" fill="#bf1b1f"/>
<rect x="85" y="295.4" width="12.7" height="4.2" fill="#1b51ae"/>
<text x="0" y="0" font-size="6.81" text-anchor="start" font-weight="normal" fill="#1c1c1c" stroke="#1c1c1c" stroke-width="0.32" transform="translate(48.9 290.2) scale(0.8891 1)">WT female</text>
<text x="0" y="0" font-size="6.81" text-anchor="start" font-weight="normal" fill="#1c1c1c" stroke="#1c1c1c" stroke-width="0.32" transform="translate(48.9 299.8) scale(0.8891 1)">WT male</text>
<text x="0" y="0" font-size="6.81" text-anchor="start" font-weight="normal" fill="#1c1c1c" stroke="#1c1c1c" stroke-width="0.32" transform="translate(103.2 290.2) scale(0.8967 1)">APP/PS1 female</text>
<text x="0" y="0" font-size="6.81" text-anchor="start" font-weight="normal" fill="#1c1c1c" stroke="#1c1c1c" stroke-width="0.32" transform="translate(103.2 299.8) scale(0.8967 1)">APP/PS1 male</text>
<line x1="26.13" y1="360.61" x2="26.13" y2="367.13" stroke="#f9d3c8" stroke-width="1.26"/>
<line x1="25.06" y1="361.01" x2="27.19" y2="361.01" stroke="#f9d3c8" stroke-width="0.9"/>
<rect x="24.73" y="367.13" width="2.8" height="17.17" fill="#f7bcae"/>
<line x1="30.33" y1="350.65" x2="30.33" y2="360.27" stroke="#e0857c" stroke-width="1.74"/>
<line x1="29.26" y1="351.05" x2="31.39" y2="351.05" stroke="#bf1b1f" stroke-width="0.9"/>
<rect x="28.93" y="360.27" width="2.8" height="24.03" fill="#bf1b1f"/>
<line x1="34.53" y1="356.32" x2="34.53" y2="367.13" stroke="#d8e2f2" stroke-width="1.26"/>
<line x1="33.46" y1="356.72" x2="35.59" y2="356.72" stroke="#d8e2f2" stroke-width="0.9"/>
<rect x="33.13" y="367.13" width="2.8" height="17.17" fill="#c4d3ea"/>
<line x1="38.73" y1="375.55" x2="38.73" y2="379.32" stroke="#7a9fd6" stroke-width="1.74"/>
<line x1="37.66" y1="375.94" x2="39.79" y2="375.94" stroke="#1b51ae" stroke-width="0.9"/>
<rect x="37.33" y="379.32" width="2.8" height="4.98" fill="#1b51ae"/>
<text x="0" y="0" font-size="7.3" text-anchor="middle" font-weight="normal" fill="#1c1c1c" stroke="#1c1c1c" stroke-width="0.32" transform="translate(32.43 391.9) scale(0.9000 1)">9</text>
<line x1="45.68" y1="363.7" x2="45.68" y2="367.13" stroke="#f9d3c8" stroke-width="1.26"/>
<line x1="44.61" y1="364.1" x2="46.74" y2="364.1" stroke="#f9d3c8" stroke-width="0.9"/>
<rect x="44.28" y="367.13" width="2.8" height="17.17" fill="#f7bcae"/>
<line x1="49.88" y1="360.27" x2="49.88" y2="364.22" stroke="#e0857c" stroke-width="1.74"/>
<line x1="48.81" y1="360.67" x2="50.94" y2="360.67" stroke="#bf1b1f" stroke-width="0.9"/>
<rect x="48.48" y="364.22" width="2.8" height="20.08" fill="#bf1b1f"/>
<line x1="54.08" y1="356.32" x2="54.08" y2="367.13" stroke="#d8e2f2" stroke-width="1.26"/>
<line x1="53.01" y1="356.72" x2="55.14" y2="356.72" stroke="#d8e2f2" stroke-width="0.9"/>
<rect x="52.68" y="367.13" width="2.8" height="17.17" fill="#c4d3ea"/>
<line x1="58.28" y1="349.62" x2="58.28" y2="362.33" stroke="#7a9fd6" stroke-width="1.74"/>
<line x1="57.21" y1="350.02" x2="59.34" y2="350.02" stroke="#1b51ae" stroke-width="0.9"/>
<rect x="56.88" y="362.33" width="2.8" height="21.97" fill="#1b51ae"/>
<text x="0" y="0" font-size="7.3" text-anchor="middle" font-weight="normal" fill="#1c1c1c" stroke="#1c1c1c" stroke-width="0.32" transform="translate(51.98 391.9) scale(0.9000 1)">11</text>
<rect x="63.83" y="367.13" width="2.8" height="17.17" fill="#f7bcae"/>
<line x1="69.43" y1="369.88" x2="69.43" y2="371.25" stroke="#e0857c" stroke-width="1.74"/>
<line x1="68.36" y1="370.28" x2="70.49" y2="370.28" stroke="#bf1b1f" stroke-width="0.9"/>
<rect x="68.03" y="371.25" width="2.8" height="13.05" fill="#bf1b1f"/>
<line x1="73.63" y1="354.6" x2="73.63" y2="367.13" stroke="#d8e2f2" stroke-width="1.26"/>
<line x1="72.56" y1="355" x2="74.69" y2="355" stroke="#d8e2f2" stroke-width="0.9"/>
<rect x="72.23" y="367.13" width="2.8" height="17.17" fill="#c4d3ea"/>
<line x1="77.83" y1="375.55" x2="77.83" y2="380.01" stroke="#7a9fd6" stroke-width="1.74"/>
<line x1="76.76" y1="375.94" x2="78.89" y2="375.94" stroke="#1b51ae" stroke-width="0.9"/>
<rect x="76.43" y="380.01" width="2.8" height="4.29" fill="#1b51ae"/>
<text x="0" y="0" font-size="7.3" text-anchor="middle" font-weight="normal" fill="#1c1c1c" stroke="#1c1c1c" stroke-width="0.32" transform="translate(71.53 391.9) scale(0.9000 1)">13</text>
<rect x="83.38" y="367.13" width="2.8" height="17.17" fill="#f7bcae"/>
<line x1="88.98" y1="357" x2="88.98" y2="361.3" stroke="#e0857c" stroke-width="1.74"/>
<line x1="87.91" y1="357.4" x2="90.04" y2="357.4" stroke="#bf1b1f" stroke-width="0.9"/>
<rect x="87.58" y="361.3" width="2.8" height="23" fill="#bf1b1f"/>
<line x1="93.18" y1="362.67" x2="93.18" y2="367.13" stroke="#d8e2f2" stroke-width="1.26"/>
<line x1="92.11" y1="363.07" x2="94.24" y2="363.07" stroke="#d8e2f2" stroke-width="0.9"/>
<rect x="91.78" y="367.13" width="2.8" height="17.17" fill="#c4d3ea"/>
<line x1="97.38" y1="354.26" x2="97.38" y2="365.07" stroke="#7a9fd6" stroke-width="1.74"/>
<line x1="96.31" y1="354.66" x2="98.44" y2="354.66" stroke="#1b51ae" stroke-width="0.9"/>
<rect x="95.98" y="365.07" width="2.8" height="19.23" fill="#1b51ae"/>
<text x="0" y="0" font-size="7.3" text-anchor="middle" font-weight="normal" fill="#1c1c1c" stroke="#1c1c1c" stroke-width="0.32" transform="translate(91.08 391.9) scale(0.9000 1)">15</text>
<rect x="102.92" y="367.13" width="2.8" height="17.17" fill="#f7bcae"/>
<line x1="108.52" y1="355.63" x2="108.52" y2="360.27" stroke="#e0857c" stroke-width="1.74"/>
<line x1="107.46" y1="356.03" x2="109.59" y2="356.03" stroke="#bf1b1f" stroke-width="0.9"/>
<rect x="107.12" y="360.27" width="2.8" height="24.03" fill="#bf1b1f"/>
<line x1="112.72" y1="365.59" x2="112.72" y2="367.13" stroke="#d8e2f2" stroke-width="1.26"/>
<line x1="111.66" y1="365.99" x2="113.79" y2="365.99" stroke="#d8e2f2" stroke-width="0.9"/>
<rect x="111.32" y="367.13" width="2.8" height="17.17" fill="#c4d3ea"/>
<line x1="116.92" y1="373.66" x2="116.92" y2="378.29" stroke="#7a9fd6" stroke-width="1.74"/>
<line x1="115.86" y1="374.06" x2="117.99" y2="374.06" stroke="#1b51ae" stroke-width="0.9"/>
<rect x="115.52" y="378.29" width="2.8" height="6.01" fill="#1b51ae"/>
<text x="0" y="0" font-size="7.3" text-anchor="middle" font-weight="normal" fill="#1c1c1c" stroke="#1c1c1c" stroke-width="0.32" transform="translate(110.62 391.9) scale(0.9000 1)">17</text>
<rect x="122.47" y="367.13" width="2.8" height="17.17" fill="#f7bcae"/>
<line x1="128.07" y1="364.56" x2="128.07" y2="365.93" stroke="#e0857c" stroke-width="1.74"/>
<line x1="127.01" y1="364.96" x2="129.14" y2="364.96" stroke="#bf1b1f" stroke-width="0.9"/>
<rect x="126.67" y="365.93" width="2.8" height="18.37" fill="#bf1b1f"/>
<line x1="132.27" y1="366.28" x2="132.27" y2="367.13" stroke="#d8e2f2" stroke-width="1.26"/>
<line x1="131.21" y1="366.68" x2="133.34" y2="366.68" stroke="#d8e2f2" stroke-width="0.9"/>
<rect x="130.87" y="367.13" width="2.8" height="17.17" fill="#c4d3ea"/>
<line x1="136.47" y1="377.43" x2="136.47" y2="379.84" stroke="#7a9fd6" stroke-width="1.74"/>
<line x1="135.41" y1="377.83" x2="137.54" y2="377.83" stroke="#1b51ae" stroke-width="0.9"/>
<rect x="135.07" y="379.84" width="2.8" height="4.46" fill="#1b51ae"/>
<text x="0" y="0" font-size="7.3" text-anchor="middle" font-weight="normal" fill="#1c1c1c" stroke="#1c1c1c" stroke-width="0.32" transform="translate(130.17 391.9) scale(0.9000 1)">19</text>
<line x1="143.42" y1="365.42" x2="143.42" y2="367.13" stroke="#f9d3c8" stroke-width="1.26"/>
<line x1="142.36" y1="365.82" x2="144.49" y2="365.82" stroke="#f9d3c8" stroke-width="0.9"/>
<rect x="142.02" y="367.13" width="2.8" height="17.17" fill="#f7bcae"/>
<line x1="147.62" y1="373.31" x2="147.62" y2="375.55" stroke="#e0857c" stroke-width="1.74"/>
<line x1="146.56" y1="373.71" x2="148.69" y2="373.71" stroke="#bf1b1f" stroke-width="0.9"/>
<rect x="146.22" y="375.55" width="2.8" height="8.75" fill="#bf1b1f"/>
<line x1="151.82" y1="365.42" x2="151.82" y2="367.13" stroke="#d8e2f2" stroke-width="1.26"/>
<line x1="150.76" y1="365.82" x2="152.89" y2="365.82" stroke="#d8e2f2" stroke-width="0.9"/>
<rect x="150.42" y="367.13" width="2.8" height="17.17" fill="#c4d3ea"/>
<line x1="156.02" y1="378.98" x2="156.02" y2="381.21" stroke="#7a9fd6" stroke-width="1.74"/>
<line x1="154.96" y1="379.38" x2="157.09" y2="379.38" stroke="#1b51ae" stroke-width="0.9"/>
<rect x="154.62" y="381.21" width="2.8" height="3.09" fill="#1b51ae"/>
<text x="0" y="0" font-size="7.3" text-anchor="middle" font-weight="normal" fill="#1c1c1c" stroke="#1c1c1c" stroke-width="0.32" transform="translate(149.72 391.9) scale(0.9000 1)">21</text>
<line x1="162.97" y1="365.42" x2="162.97" y2="367.13" stroke="#f9d3c8" stroke-width="1.26"/>
<line x1="161.91" y1="365.82" x2="164.04" y2="365.82" stroke="#f9d3c8" stroke-width="0.9"/>
<rect x="161.57" y="367.13" width="2.8" height="17.17" fill="#f7bcae"/>
<line x1="167.17" y1="374.86" x2="167.17" y2="375.55" stroke="#e0857c" stroke-width="1.74"/>
<line x1="166.11" y1="375.26" x2="168.24" y2="375.26" stroke="#bf1b1f" stroke-width="0.9"/>
<rect x="165.77" y="375.55" width="2.8" height="8.75" fill="#bf1b1f"/>
<line x1="171.37" y1="358.55" x2="171.37" y2="367.13" stroke="#d8e2f2" stroke-width="1.26"/>
<line x1="170.31" y1="358.95" x2="172.44" y2="358.95" stroke="#d8e2f2" stroke-width="0.9"/>
<rect x="169.97" y="367.13" width="2.8" height="17.17" fill="#c4d3ea"/>
<line x1="175.57" y1="333.66" x2="175.57" y2="337.95" stroke="#7a9fd6" stroke-width="1.74"/>
<line x1="174.51" y1="334.06" x2="176.64" y2="334.06" stroke="#1b51ae" stroke-width="0.9"/>
<rect x="174.17" y="337.95" width="2.8" height="46.35" fill="#1b51ae"/>
<text x="0" y="0" font-size="7.3" text-anchor="middle" font-weight="normal" fill="#1c1c1c" stroke="#1c1c1c" stroke-width="0.32" transform="translate(169.27 391.9) scale(0.9000 1)">23</text>
<polyline points="143.42,361.92 143.42,322.5 147.62,322.5 147.62,371.81" fill="none" stroke="#6c6c6c" stroke-width="1.0"/>
<rect x="144.57" y="316.9" width="1.9" height="1.8" fill="#d42a2a"/>
<polyline points="151.82,361.92 151.82,322.5 156.02,322.5 156.02,377.48" fill="none" stroke="#6c6c6c" stroke-width="1.0"/>
<rect x="152.97" y="316.9" width="1.9" height="1.8" fill="#2a62c0"/>
<polyline points="162.97,361.92 162.97,322.5 167.17,322.5 167.17,373.36" fill="none" stroke="#6c6c6c" stroke-width="1.0"/>
<rect x="164.12" y="316.9" width="1.9" height="1.8" fill="#d42a2a"/>
<polyline points="171.37,355.05 171.37,322.5 175.57,322.5 175.57,332.16" fill="none" stroke="#6c6c6c" stroke-width="1.0"/>
<rect x="171.32" y="316.95" width="1.8" height="1.7" fill="#2a62c0"/>
<rect x="173.82" y="316.95" width="1.8" height="1.7" fill="#2a62c0"/>
<line x1="21.7" y1="384.3" x2="25.3" y2="384.3" stroke="#5e5e5e" stroke-width="0.8"/>
<text x="0" y="0" font-size="7" text-anchor="end" font-weight="normal" fill="#1c1c1c" stroke="#1c1c1c" stroke-width="0.32" transform="translate(23.1 386.68) scale(1.0000 1)">0</text>
<line x1="21.7" y1="349.97" x2="25.3" y2="349.97" stroke="#5e5e5e" stroke-width="0.8"/>
<text x="0" y="0" font-size="7" text-anchor="end" font-weight="normal" fill="#1c1c1c" stroke="#1c1c1c" stroke-width="0.32" transform="translate(23.1 352.35) scale(1.0000 1)">2</text>
<line x1="21.7" y1="315.63" x2="25.3" y2="315.63" stroke="#5e5e5e" stroke-width="0.8"/>
<text x="0" y="0" font-size="7" text-anchor="end" font-weight="normal" fill="#1c1c1c" stroke="#1c1c1c" stroke-width="0.32" transform="translate(23.1 318.01) scale(1.0000 1)">4</text>
<line x1="21.7" y1="281.3" x2="25.3" y2="281.3" stroke="#5e5e5e" stroke-width="0.8"/>
<text x="0" y="0" font-size="7" text-anchor="end" font-weight="normal" fill="#1c1c1c" stroke="#1c1c1c" stroke-width="0.32" transform="translate(23.1 283.68) scale(1.0000 1)">6</text>
<text x="0" y="0" font-size="8" text-anchor="middle" font-weight="normal" fill="#1c1c1c" stroke="#1c1c1c" stroke-width="0.32" transform="translate(15.1 333.35) rotate(-90) scale(0.8746 1)">Relative plasma miR-132-3p levels</text>
<text x="0" y="0" font-size="7.5" text-anchor="middle" font-weight="normal" fill="#1c1c1c" stroke="#1c1c1c" stroke-width="0.32" transform="translate(101.3 403.3) scale(0.9156 1)">Time (w)</text>
<text x="0" y="0" font-size="13" text-anchor="start" font-weight="bold" fill="#111" transform="translate(4.1 277.8) scale(0.9000 1)">d</text>
<rect x="205.5" y="281.5" width="155" height="103" fill="none" stroke="#5e5e5e" stroke-width="1"/>
<rect x="212.1" y="286.3" width="12.7" height="4.2" fill="#f7bcae"/>
<rect x="212.1" y="296" width="12.7" height="4.2" fill="#c4d3ea"/>
<rect x="267" y="286.3" width="12.7" height="4.2" fill="#bf1b1f"/>
<rect x="267" y="296" width="12.7" height="4.2" fill="#1b51ae"/>
<text x="0" y="0" font-size="6.86" text-anchor="start" font-weight="normal" fill="#1c1c1c" stroke="#1c1c1c" stroke-width="0.32" transform="translate(230.2 290.7) scale(0.8956 1)">WT female</text>
<text x="0" y="0" font-size="6.86" text-anchor="start" font-weight="normal" fill="#1c1c1c" stroke="#1c1c1c" stroke-width="0.32" transform="translate(230.2 300.2) scale(0.8956 1)">WT male</text>
<text x="0" y="0" font-size="6.86" text-anchor="start" font-weight="normal" fill="#1c1c1c" stroke="#1c1c1c" stroke-width="0.32" transform="translate(285.2 290.7) scale(0.8902 1)">APP/PS1 female</text>
<text x="0" y="0" font-size="6.86" text-anchor="start" font-weight="normal" fill="#1c1c1c" stroke="#1c1c1c" stroke-width="0.32" transform="translate(285.2 300.2) scale(0.8902 1)">APP/PS1 male</text>
<rect x="207.79" y="367.25" width="2.4" height="17.15" fill="#f7bcae"/>
<line x1="212.64" y1="364.68" x2="212.64" y2="366.39" stroke="#e0857c" stroke-width="1.49"/>
<line x1="211.72" y1="365.08" x2="213.55" y2="365.08" stroke="#bf1b1f" stroke-width="0.9"/>
<rect x="211.44" y="366.39" width="2.4" height="18.01" fill="#bf1b1f"/>
<line x1="216.29" y1="352.16" x2="216.29" y2="367.25" stroke="#d8e2f2" stroke-width="1.08"/>
<line x1="215.37" y1="352.56" x2="217.2" y2="352.56" stroke="#d8e2f2" stroke-width="0.9"/>
<rect x="215.09" y="367.25" width="2.4" height="17.15" fill="#c4d3ea"/>
<line x1="219.94" y1="340.84" x2="219.94" y2="353.7" stroke="#7a9fd6" stroke-width="1.49"/>
<line x1="219.02" y1="341.24" x2="220.85" y2="341.24" stroke="#1b51ae" stroke-width="0.9"/>
<rect x="218.74" y="353.7" width="2.4" height="30.7" fill="#1b51ae"/>
<text x="0" y="0" font-size="7.3" text-anchor="middle" font-weight="normal" fill="#1c1c1c" stroke="#1c1c1c" stroke-width="0.32" transform="translate(214.46 391.9) scale(0.9000 1)">9</text>
<line x1="228.61" y1="360.73" x2="228.61" y2="367.25" stroke="#f9d3c8" stroke-width="1.08"/>
<line x1="227.7" y1="361.13" x2="229.52" y2="361.13" stroke="#f9d3c8" stroke-width="0.9"/>
<rect x="227.41" y="367.25" width="2.4" height="17.15" fill="#f7bcae"/>
<line x1="232.26" y1="357.13" x2="232.26" y2="364.33" stroke="#e0857c" stroke-width="1.49"/>
<line x1="231.35" y1="357.53" x2="233.17" y2="357.53" stroke="#bf1b1f" stroke-width="0.9"/>
<rect x="231.06" y="364.33" width="2.4" height="20.07" fill="#bf1b1f"/>
<line x1="235.91" y1="365.71" x2="235.91" y2="367.25" stroke="#d8e2f2" stroke-width="1.08"/>
<line x1="235" y1="366.11" x2="236.82" y2="366.11" stroke="#d8e2f2" stroke-width="0.9"/>
<rect x="234.71" y="367.25" width="2.4" height="17.15" fill="#c4d3ea"/>
<line x1="239.56" y1="351.47" x2="239.56" y2="361.42" stroke="#7a9fd6" stroke-width="1.49"/>
<line x1="238.65" y1="351.87" x2="240.47" y2="351.87" stroke="#1b51ae" stroke-width="0.9"/>
<rect x="238.36" y="361.42" width="2.4" height="22.98" fill="#1b51ae"/>
<text x="0" y="0" font-size="7.3" text-anchor="middle" font-weight="normal" fill="#1c1c1c" stroke="#1c1c1c" stroke-width="0.32" transform="translate(234.09 391.9) scale(0.9000 1)">11</text>
<line x1="248.24" y1="362.79" x2="248.24" y2="367.25" stroke="#f9d3c8" stroke-width="1.08"/>
<line x1="247.32" y1="363.19" x2="249.15" y2="363.19" stroke="#f9d3c8" stroke-width="0.9"/>
<rect x="247.04" y="367.25" width="2.4" height="17.15" fill="#f7bcae"/>
<line x1="251.89" y1="366.39" x2="251.89" y2="372.74" stroke="#e0857c" stroke-width="1.49"/>
<line x1="250.97" y1="366.79" x2="252.8" y2="366.79" stroke="#bf1b1f" stroke-width="0.9"/>
<rect x="250.69" y="372.74" width="2.4" height="11.66" fill="#bf1b1f"/>
<line x1="255.54" y1="361.42" x2="255.54" y2="367.25" stroke="#d8e2f2" stroke-width="1.08"/>
<line x1="254.62" y1="361.82" x2="256.45" y2="361.82" stroke="#d8e2f2" stroke-width="0.9"/>
<rect x="254.34" y="367.25" width="2.4" height="17.15" fill="#c4d3ea"/>
<line x1="259.19" y1="368.11" x2="259.19" y2="372.05" stroke="#7a9fd6" stroke-width="1.49"/>
<line x1="258.27" y1="368.51" x2="260.1" y2="368.51" stroke="#1b51ae" stroke-width="0.9"/>
<rect x="257.99" y="372.05" width="2.4" height="12.35" fill="#1b51ae"/>
<text x="0" y="0" font-size="7.3" text-anchor="middle" font-weight="normal" fill="#1c1c1c" stroke="#1c1c1c" stroke-width="0.32" transform="translate(253.71 391.9) scale(0.9000 1)">13</text>
<line x1="267.86" y1="358.67" x2="267.86" y2="367.25" stroke="#f9d3c8" stroke-width="1.08"/>
<line x1="266.95" y1="359.07" x2="268.77" y2="359.07" stroke="#f9d3c8" stroke-width="0.9"/>
<rect x="266.66" y="367.25" width="2.4" height="17.15" fill="#f7bcae"/>
<line x1="271.51" y1="355.76" x2="271.51" y2="363.31" stroke="#e0857c" stroke-width="1.49"/>
<line x1="270.6" y1="356.16" x2="272.42" y2="356.16" stroke="#bf1b1f" stroke-width="0.9"/>
<rect x="270.31" y="363.31" width="2.4" height="21.09" fill="#bf1b1f"/>
<line x1="275.16" y1="355.07" x2="275.16" y2="367.25" stroke="#d8e2f2" stroke-width="1.08"/>
<line x1="274.25" y1="355.47" x2="276.07" y2="355.47" stroke="#d8e2f2" stroke-width="0.9"/>
<rect x="273.96" y="367.25" width="2.4" height="17.15" fill="#c4d3ea"/>
<line x1="278.81" y1="368.45" x2="278.81" y2="373.42" stroke="#7a9fd6" stroke-width="1.49"/>
<line x1="277.9" y1="368.85" x2="279.72" y2="368.85" stroke="#1b51ae" stroke-width="0.9"/>
<rect x="277.61" y="373.42" width="2.4" height="10.98" fill="#1b51ae"/>
<text x="0" y="0" font-size="7.3" text-anchor="middle" font-weight="normal" fill="#1c1c1c" stroke="#1c1c1c" stroke-width="0.32" transform="translate(273.34 391.9) scale(0.9000 1)">15</text>
<line x1="287.49" y1="357.82" x2="287.49" y2="367.25" stroke="#f9d3c8" stroke-width="1.08"/>
<line x1="286.58" y1="358.22" x2="288.4" y2="358.22" stroke="#f9d3c8" stroke-width="0.9"/>
<rect x="286.29" y="367.25" width="2.4" height="17.15" fill="#f7bcae"/>
<line x1="291.14" y1="340.15" x2="291.14" y2="350.1" stroke="#e0857c" stroke-width="1.49"/>
<line x1="290.23" y1="340.55" x2="292.05" y2="340.55" stroke="#bf1b1f" stroke-width="0.9"/>
<rect x="289.94" y="350.1" width="2.4" height="34.3" fill="#bf1b1f"/>
<line x1="294.79" y1="365.02" x2="294.79" y2="367.25" stroke="#d8e2f2" stroke-width="1.08"/>
<line x1="293.88" y1="365.42" x2="295.7" y2="365.42" stroke="#d8e2f2" stroke-width="0.9"/>
<rect x="293.59" y="367.25" width="2.4" height="17.15" fill="#c4d3ea"/>
<line x1="298.44" y1="338.09" x2="298.44" y2="347.18" stroke="#7a9fd6" stroke-width="1.49"/>
<line x1="297.53" y1="338.49" x2="299.35" y2="338.49" stroke="#1b51ae" stroke-width="0.9"/>
<rect x="297.24" y="347.18" width="2.4" height="37.22" fill="#1b51ae"/>
<text x="0" y="0" font-size="7.3" text-anchor="middle" font-weight="normal" fill="#1c1c1c" stroke="#1c1c1c" stroke-width="0.32" transform="translate(292.96 391.9) scale(0.9000 1)">17</text>
<line x1="307.11" y1="361.42" x2="307.11" y2="367.25" stroke="#f9d3c8" stroke-width="1.08"/>
<line x1="306.2" y1="361.82" x2="308.03" y2="361.82" stroke="#f9d3c8" stroke-width="0.9"/>
<rect x="305.91" y="367.25" width="2.4" height="17.15" fill="#f7bcae"/>
<line x1="310.76" y1="372.74" x2="310.76" y2="378.4" stroke="#e0857c" stroke-width="1.49"/>
<line x1="309.85" y1="373.14" x2="311.68" y2="373.14" stroke="#bf1b1f" stroke-width="0.9"/>
<rect x="309.56" y="378.4" width="2.4" height="6" fill="#bf1b1f"/>
<line x1="314.41" y1="355.07" x2="314.41" y2="367.25" stroke="#d8e2f2" stroke-width="1.08"/>
<line x1="313.5" y1="355.47" x2="315.33" y2="355.47" stroke="#d8e2f2" stroke-width="0.9"/>
<rect x="313.21" y="367.25" width="2.4" height="17.15" fill="#c4d3ea"/>
<line x1="318.06" y1="335.87" x2="318.06" y2="344.44" stroke="#7a9fd6" stroke-width="1.49"/>
<line x1="317.15" y1="336.27" x2="318.98" y2="336.27" stroke="#1b51ae" stroke-width="0.9"/>
<rect x="316.86" y="344.44" width="2.4" height="39.96" fill="#1b51ae"/>
<text x="0" y="0" font-size="7.3" text-anchor="middle" font-weight="normal" fill="#1c1c1c" stroke="#1c1c1c" stroke-width="0.32" transform="translate(312.59 391.9) scale(0.9000 1)">19</text>
<line x1="326.74" y1="361.42" x2="326.74" y2="367.25" stroke="#f9d3c8" stroke-width="1.08"/>
<line x1="325.83" y1="361.82" x2="327.65" y2="361.82" stroke="#f9d3c8" stroke-width="0.9"/>
<rect x="325.54" y="367.25" width="2.4" height="17.15" fill="#f7bcae"/>
<line x1="330.39" y1="379.94" x2="330.39" y2="382" stroke="#e0857c" stroke-width="1.49"/>
<line x1="329.48" y1="380.34" x2="331.3" y2="380.34" stroke="#bf1b1f" stroke-width="0.9"/>
<rect x="329.19" y="382" width="2.4" height="2.4" fill="#bf1b1f"/>
<line x1="334.04" y1="360.39" x2="334.04" y2="367.25" stroke="#d8e2f2" stroke-width="1.08"/>
<line x1="333.13" y1="360.79" x2="334.95" y2="360.79" stroke="#d8e2f2" stroke-width="0.9"/>
<rect x="332.84" y="367.25" width="2.4" height="17.15" fill="#c4d3ea"/>
<line x1="337.69" y1="335.52" x2="337.69" y2="342.55" stroke="#7a9fd6" stroke-width="1.49"/>
<line x1="336.78" y1="335.92" x2="338.6" y2="335.92" stroke="#1b51ae" stroke-width="0.9"/>
<rect x="336.49" y="342.55" width="2.4" height="41.85" fill="#1b51ae"/>
<text x="0" y="0" font-size="7.3" text-anchor="middle" font-weight="normal" fill="#1c1c1c" stroke="#1c1c1c" stroke-width="0.32" transform="translate(332.21 391.9) scale(0.9000 1)">21</text>
<line x1="346.36" y1="362.1" x2="346.36" y2="367.25" stroke="#f9d3c8" stroke-width="1.08"/>
<line x1="345.45" y1="362.5" x2="347.28" y2="362.5" stroke="#f9d3c8" stroke-width="0.9"/>
<rect x="345.16" y="367.25" width="2.4" height="17.15" fill="#f7bcae"/>
<line x1="350.01" y1="379.94" x2="350.01" y2="382.34" stroke="#e0857c" stroke-width="1.49"/>
<line x1="349.1" y1="380.34" x2="350.93" y2="380.34" stroke="#bf1b1f" stroke-width="0.9"/>
<rect x="348.81" y="382.34" width="2.4" height="2.06" fill="#bf1b1f"/>
<line x1="353.66" y1="365.02" x2="353.66" y2="367.25" stroke="#d8e2f2" stroke-width="1.08"/>
<line x1="352.75" y1="365.42" x2="354.58" y2="365.42" stroke="#d8e2f2" stroke-width="0.9"/>
<rect x="352.46" y="367.25" width="2.4" height="17.15" fill="#c4d3ea"/>
<line x1="357.31" y1="373.42" x2="357.31" y2="374.97" stroke="#7a9fd6" stroke-width="1.49"/>
<line x1="356.4" y1="373.82" x2="358.23" y2="373.82" stroke="#1b51ae" stroke-width="0.9"/>
<rect x="356.11" y="374.97" width="2.4" height="9.43" fill="#1b51ae"/>
<text x="0" y="0" font-size="7.3" text-anchor="middle" font-weight="normal" fill="#1c1c1c" stroke="#1c1c1c" stroke-width="0.32" transform="translate(351.84 391.9) scale(0.9000 1)">23</text>
<polyline points="287.49,354.32 287.49,320.4 291.14,320.4 291.14,338.65" fill="none" stroke="#6c6c6c" stroke-width="1.0"/>
<rect x="287.16" y="314.55" width="1.8" height="1.7" fill="#d42a2a"/>
<rect x="289.66" y="314.55" width="1.8" height="1.7" fill="#d42a2a"/>
<polyline points="294.79,361.52 294.79,320.4 298.44,320.4 298.44,336.59" fill="none" stroke="#6c6c6c" stroke-width="1.0"/>
<rect x="295.66" y="314.5" width="1.9" height="1.8" fill="#2a62c0"/>
<polyline points="314.41,351.57 314.41,320.4 318.06,320.4 318.06,334.37" fill="none" stroke="#6c6c6c" stroke-width="1.0"/>
<rect x="314.09" y="314.55" width="1.8" height="1.7" fill="#2a62c0"/>
<rect x="316.59" y="314.55" width="1.8" height="1.7" fill="#2a62c0"/>
<polyline points="326.74,357.92 326.74,320.4 330.39,320.4 330.39,378.44" fill="none" stroke="#6c6c6c" stroke-width="1.0"/>
<rect x="327.61" y="314.5" width="1.9" height="1.8" fill="#d42a2a"/>
<polyline points="334.04,356.89 334.04,320.4 337.69,320.4 337.69,334.02" fill="none" stroke="#6c6c6c" stroke-width="1.0"/>
<rect x="333.71" y="314.55" width="1.8" height="1.7" fill="#2a62c0"/>
<rect x="336.21" y="314.55" width="1.8" height="1.7" fill="#2a62c0"/>
<polyline points="346.36,358.6 346.36,320.4 350.01,320.4 350.01,378.44" fill="none" stroke="#6c6c6c" stroke-width="1.0"/>
<rect x="347.24" y="314.5" width="1.9" height="1.8" fill="#d42a2a"/>
<line x1="203.7" y1="384.4" x2="207.3" y2="384.4" stroke="#5e5e5e" stroke-width="0.8"/>
<text x="0" y="0" font-size="7" text-anchor="end" font-weight="normal" fill="#1c1c1c" stroke="#1c1c1c" stroke-width="0.32" transform="translate(205.1 386.78) scale(1.0000 1)">0</text>
<line x1="203.7" y1="350.1" x2="207.3" y2="350.1" stroke="#5e5e5e" stroke-width="0.8"/>
<text x="0" y="0" font-size="7" text-anchor="end" font-weight="normal" fill="#1c1c1c" stroke="#1c1c1c" stroke-width="0.32" transform="translate(205.1 352.48) scale(1.0000 1)">2</text>
<line x1="203.7" y1="315.8" x2="207.3" y2="315.8" stroke="#5e5e5e" stroke-width="0.8"/>
<text x="0" y="0" font-size="7" text-anchor="end" font-weight="normal" fill="#1c1c1c" stroke="#1c1c1c" stroke-width="0.32" transform="translate(205.1 318.18) scale(1.0000 1)">4</text>
<line x1="203.7" y1="281.5" x2="207.3" y2="281.5" stroke="#5e5e5e" stroke-width="0.8"/>
<text x="0" y="0" font-size="7" text-anchor="end" font-weight="normal" fill="#1c1c1c" stroke="#1c1c1c" stroke-width="0.32" transform="translate(205.1 283.88) scale(1.0000 1)">6</text>
<text x="0" y="0" font-size="8" text-anchor="middle" font-weight="normal" fill="#1c1c1c" stroke="#1c1c1c" stroke-width="0.32" transform="translate(196 333.1) rotate(-90) scale(0.8522 1)">Relative plasma miR-146a-5p levels</text>
<text x="0" y="0" font-size="7.5" text-anchor="middle" font-weight="normal" fill="#1c1c1c" stroke="#1c1c1c" stroke-width="0.32" transform="translate(283.3 403.3) scale(0.9156 1)">Time (w)</text>
<text x="0" y="0" font-size="13" text-anchor="start" font-weight="bold" fill="#111" transform="translate(186.5 278) scale(0.9000 1)">e</text>
<rect x="386.5" y="281.5" width="156" height="103" fill="none" stroke="#5e5e5e" stroke-width="1"/>
<rect x="394.1" y="286.3" width="12.3" height="4.2" fill="#f7bcae"/>
<rect x="394.1" y="295.8" width="12.3" height="4.2" fill="#c4d3ea"/>
<rect x="448.8" y="286.3" width="12.3" height="4.2" fill="#bf1b1f"/>
<rect x="448.8" y="295.8" width="12.3" height="4.2" fill="#1b51ae"/>
<text x="0" y="0" font-size="6.89" text-anchor="start" font-weight="normal" fill="#1c1c1c" stroke="#1c1c1c" stroke-width="0.32" transform="translate(412 290.7) scale(0.8988 1)">WT female</text>
<text x="0" y="0" font-size="6.89" text-anchor="start" font-weight="normal" fill="#1c1c1c" stroke="#1c1c1c" stroke-width="0.32" transform="translate(412 300.2) scale(0.8988 1)">WT male</text>
<text x="0" y="0" font-size="6.89" text-anchor="start" font-weight="normal" fill="#1c1c1c" stroke="#1c1c1c" stroke-width="0.32" transform="translate(466.8 290.7) scale(0.8870 1)">APP/PS1 female</text>
<text x="0" y="0" font-size="6.89" text-anchor="start" font-weight="normal" fill="#1c1c1c" stroke="#1c1c1c" stroke-width="0.32" transform="translate(466.8 300.2) scale(0.8870 1)">APP/PS1 male</text>
<rect x="388.74" y="367.12" width="2.5" height="17.18" fill="#f7bcae"/>
<line x1="393.79" y1="361.27" x2="393.79" y2="363.85" stroke="#e0857c" stroke-width="1.55"/>
<line x1="392.84" y1="361.67" x2="394.74" y2="361.67" stroke="#bf1b1f" stroke-width="0.9"/>
<rect x="392.54" y="363.85" width="2.5" height="20.45" fill="#bf1b1f"/>
<line x1="397.59" y1="361.79" x2="397.59" y2="367.12" stroke="#d8e2f2" stroke-width="1.12"/>
<line x1="396.64" y1="362.19" x2="398.54" y2="362.19" stroke="#d8e2f2" stroke-width="0.9"/>
<rect x="396.34" y="367.12" width="2.5" height="17.18" fill="#c4d3ea"/>
<line x1="401.39" y1="354.23" x2="401.39" y2="361.96" stroke="#7a9fd6" stroke-width="1.55"/>
<line x1="400.44" y1="354.63" x2="402.34" y2="354.63" stroke="#1b51ae" stroke-width="0.9"/>
<rect x="400.14" y="361.96" width="2.5" height="22.34" fill="#1b51ae"/>
<text x="0" y="0" font-size="7.3" text-anchor="middle" font-weight="normal" fill="#1c1c1c" stroke="#1c1c1c" stroke-width="0.32" transform="translate(395.69 391.9) scale(0.9000 1)">9</text>
<rect x="408.43" y="367.12" width="2.5" height="17.18" fill="#f7bcae"/>
<line x1="413.48" y1="369.18" x2="413.48" y2="369.87" stroke="#e0857c" stroke-width="1.55"/>
<line x1="412.53" y1="369.58" x2="414.43" y2="369.58" stroke="#bf1b1f" stroke-width="0.9"/>
<rect x="412.23" y="369.87" width="2.5" height="14.43" fill="#bf1b1f"/>
<line x1="417.28" y1="357.67" x2="417.28" y2="367.12" stroke="#d8e2f2" stroke-width="1.12"/>
<line x1="416.33" y1="358.07" x2="418.23" y2="358.07" stroke="#d8e2f2" stroke-width="0.9"/>
<rect x="416.03" y="367.12" width="2.5" height="17.18" fill="#c4d3ea"/>
<line x1="421.08" y1="349.93" x2="421.08" y2="356.63" stroke="#7a9fd6" stroke-width="1.55"/>
<line x1="420.13" y1="350.33" x2="422.03" y2="350.33" stroke="#1b51ae" stroke-width="0.9"/>
<rect x="419.83" y="356.63" width="2.5" height="27.67" fill="#1b51ae"/>
<text x="0" y="0" font-size="7.3" text-anchor="middle" font-weight="normal" fill="#1c1c1c" stroke="#1c1c1c" stroke-width="0.32" transform="translate(415.38 391.9) scale(0.9000 1)">11</text>
<line x1="429.37" y1="361.96" x2="429.37" y2="367.12" stroke="#f9d3c8" stroke-width="1.12"/>
<line x1="428.42" y1="362.36" x2="430.32" y2="362.36" stroke="#f9d3c8" stroke-width="0.9"/>
<rect x="428.12" y="367.12" width="2.5" height="17.18" fill="#f7bcae"/>
<line x1="433.17" y1="361.27" x2="433.17" y2="365.57" stroke="#e0857c" stroke-width="1.55"/>
<line x1="432.22" y1="361.67" x2="434.12" y2="361.67" stroke="#bf1b1f" stroke-width="0.9"/>
<rect x="431.92" y="365.57" width="2.5" height="18.73" fill="#bf1b1f"/>
<line x1="436.97" y1="366.26" x2="436.97" y2="367.12" stroke="#d8e2f2" stroke-width="1.12"/>
<line x1="436.02" y1="366.66" x2="437.92" y2="366.66" stroke="#d8e2f2" stroke-width="0.9"/>
<rect x="435.72" y="367.12" width="2.5" height="17.18" fill="#c4d3ea"/>
<line x1="440.77" y1="370.21" x2="440.77" y2="371.93" stroke="#7a9fd6" stroke-width="1.55"/>
<line x1="439.82" y1="370.61" x2="441.72" y2="370.61" stroke="#1b51ae" stroke-width="0.9"/>
<rect x="439.52" y="371.93" width="2.5" height="12.37" fill="#1b51ae"/>
<text x="0" y="0" font-size="7.3" text-anchor="middle" font-weight="normal" fill="#1c1c1c" stroke="#1c1c1c" stroke-width="0.32" transform="translate(435.07 391.9) scale(0.9000 1)">13</text>
<rect x="447.81" y="367.12" width="2.5" height="17.18" fill="#f7bcae"/>
<line x1="452.86" y1="367.12" x2="452.86" y2="370.55" stroke="#e0857c" stroke-width="1.55"/>
<line x1="451.91" y1="367.52" x2="453.81" y2="367.52" stroke="#bf1b1f" stroke-width="0.9"/>
<rect x="451.61" y="370.55" width="2.5" height="13.75" fill="#bf1b1f"/>
<line x1="456.66" y1="355.26" x2="456.66" y2="367.12" stroke="#d8e2f2" stroke-width="1.12"/>
<line x1="455.71" y1="355.66" x2="457.61" y2="355.66" stroke="#d8e2f2" stroke-width="0.9"/>
<rect x="455.41" y="367.12" width="2.5" height="17.18" fill="#c4d3ea"/>
<line x1="460.46" y1="357.67" x2="460.46" y2="367.63" stroke="#7a9fd6" stroke-width="1.55"/>
<line x1="459.51" y1="358.07" x2="461.41" y2="358.07" stroke="#1b51ae" stroke-width="0.9"/>
<rect x="459.21" y="367.63" width="2.5" height="16.67" fill="#1b51ae"/>
<text x="0" y="0" font-size="7.3" text-anchor="middle" font-weight="normal" fill="#1c1c1c" stroke="#1c1c1c" stroke-width="0.32" transform="translate(454.76 391.9) scale(0.9000 1)">15</text>
<line x1="468.74" y1="365.4" x2="468.74" y2="367.12" stroke="#f9d3c8" stroke-width="1.12"/>
<line x1="467.79" y1="365.8" x2="469.69" y2="365.8" stroke="#f9d3c8" stroke-width="0.9"/>
<rect x="467.49" y="367.12" width="2.5" height="17.18" fill="#f7bcae"/>
<line x1="472.54" y1="379.32" x2="472.54" y2="380.52" stroke="#e0857c" stroke-width="1.55"/>
<line x1="471.59" y1="379.72" x2="473.49" y2="379.72" stroke="#bf1b1f" stroke-width="0.9"/>
<rect x="471.29" y="380.52" width="2.5" height="3.78" fill="#bf1b1f"/>
<line x1="476.34" y1="363.68" x2="476.34" y2="367.12" stroke="#d8e2f2" stroke-width="1.12"/>
<line x1="475.39" y1="364.08" x2="477.29" y2="364.08" stroke="#d8e2f2" stroke-width="0.9"/>
<rect x="475.09" y="367.12" width="2.5" height="17.18" fill="#c4d3ea"/>
<line x1="480.14" y1="345.64" x2="480.14" y2="353.54" stroke="#7a9fd6" stroke-width="1.55"/>
<line x1="479.19" y1="346.04" x2="481.09" y2="346.04" stroke="#1b51ae" stroke-width="0.9"/>
<rect x="478.89" y="353.54" width="2.5" height="30.76" fill="#1b51ae"/>
<text x="0" y="0" font-size="7.3" text-anchor="middle" font-weight="normal" fill="#1c1c1c" stroke="#1c1c1c" stroke-width="0.32" transform="translate(474.44 391.9) scale(0.9000 1)">17</text>
<line x1="488.43" y1="365.4" x2="488.43" y2="367.12" stroke="#f9d3c8" stroke-width="1.12"/>
<line x1="487.48" y1="365.8" x2="489.38" y2="365.8" stroke="#f9d3c8" stroke-width="0.9"/>
<rect x="487.18" y="367.12" width="2.5" height="17.18" fill="#f7bcae"/>
<line x1="492.23" y1="357.67" x2="492.23" y2="358.87" stroke="#e0857c" stroke-width="1.55"/>
<line x1="491.28" y1="358.07" x2="493.18" y2="358.07" stroke="#bf1b1f" stroke-width="0.9"/>
<rect x="490.98" y="358.87" width="2.5" height="25.43" fill="#bf1b1f"/>
<line x1="496.03" y1="365.4" x2="496.03" y2="367.12" stroke="#d8e2f2" stroke-width="1.12"/>
<line x1="495.08" y1="365.8" x2="496.98" y2="365.8" stroke="#d8e2f2" stroke-width="0.9"/>
<rect x="494.78" y="367.12" width="2.5" height="17.18" fill="#c4d3ea"/>
<line x1="499.83" y1="344.26" x2="499.83" y2="347.01" stroke="#7a9fd6" stroke-width="1.55"/>
<line x1="498.88" y1="344.66" x2="500.78" y2="344.66" stroke="#1b51ae" stroke-width="0.9"/>
<rect x="498.58" y="347.01" width="2.5" height="37.29" fill="#1b51ae"/>
<text x="0" y="0" font-size="7.3" text-anchor="middle" font-weight="normal" fill="#1c1c1c" stroke="#1c1c1c" stroke-width="0.32" transform="translate(494.13 391.9) scale(0.9000 1)">19</text>
<line x1="508.12" y1="365.4" x2="508.12" y2="367.12" stroke="#f9d3c8" stroke-width="1.12"/>
<line x1="507.17" y1="365.8" x2="509.07" y2="365.8" stroke="#f9d3c8" stroke-width="0.9"/>
<rect x="506.87" y="367.12" width="2.5" height="17.18" fill="#f7bcae"/>
<line x1="511.92" y1="356.12" x2="511.92" y2="358.01" stroke="#e0857c" stroke-width="1.55"/>
<line x1="510.97" y1="356.52" x2="512.87" y2="356.52" stroke="#bf1b1f" stroke-width="0.9"/>
<rect x="510.67" y="358.01" width="2.5" height="26.29" fill="#bf1b1f"/>
<line x1="515.72" y1="365.4" x2="515.72" y2="367.12" stroke="#d8e2f2" stroke-width="1.12"/>
<line x1="514.77" y1="365.8" x2="516.67" y2="365.8" stroke="#d8e2f2" stroke-width="0.9"/>
<rect x="514.47" y="367.12" width="2.5" height="17.18" fill="#c4d3ea"/>
<line x1="519.52" y1="322.27" x2="519.52" y2="326.22" stroke="#7a9fd6" stroke-width="1.55"/>
<line x1="518.57" y1="322.67" x2="520.47" y2="322.67" stroke="#1b51ae" stroke-width="0.9"/>
<rect x="518.27" y="326.22" width="2.5" height="58.08" fill="#1b51ae"/>
<text x="0" y="0" font-size="7.3" text-anchor="middle" font-weight="normal" fill="#1c1c1c" stroke="#1c1c1c" stroke-width="0.32" transform="translate(513.82 391.9) scale(0.9000 1)">21</text>
<line x1="527.81" y1="365.4" x2="527.81" y2="367.12" stroke="#f9d3c8" stroke-width="1.12"/>
<line x1="526.86" y1="365.8" x2="528.76" y2="365.8" stroke="#f9d3c8" stroke-width="0.9"/>
<rect x="526.56" y="367.12" width="2.5" height="17.18" fill="#f7bcae"/>
<line x1="531.61" y1="353.54" x2="531.61" y2="355.26" stroke="#e0857c" stroke-width="1.55"/>
<line x1="530.66" y1="353.94" x2="532.56" y2="353.94" stroke="#bf1b1f" stroke-width="0.9"/>
<rect x="530.36" y="355.26" width="2.5" height="29.04" fill="#bf1b1f"/>
<line x1="535.41" y1="366.26" x2="535.41" y2="367.12" stroke="#d8e2f2" stroke-width="1.12"/>
<line x1="534.46" y1="366.66" x2="536.36" y2="366.66" stroke="#d8e2f2" stroke-width="0.9"/>
<rect x="534.16" y="367.12" width="2.5" height="17.18" fill="#c4d3ea"/>
<line x1="539.21" y1="376.22" x2="539.21" y2="378.97" stroke="#7a9fd6" stroke-width="1.55"/>
<line x1="538.26" y1="376.62" x2="540.16" y2="376.62" stroke="#1b51ae" stroke-width="0.9"/>
<rect x="537.96" y="378.97" width="2.5" height="5.33" fill="#1b51ae"/>
<text x="0" y="0" font-size="7.3" text-anchor="middle" font-weight="normal" fill="#1c1c1c" stroke="#1c1c1c" stroke-width="0.32" transform="translate(533.51 391.9) scale(0.9000 1)">23</text>
<polyline points="468.74,361.9 468.74,319.7 472.54,319.7 472.54,377.82" fill="none" stroke="#6c6c6c" stroke-width="1.0"/>
<rect x="468.49" y="314.15" width="1.8" height="1.7" fill="#d42a2a"/>
<rect x="470.99" y="314.15" width="1.8" height="1.7" fill="#d42a2a"/>
<polyline points="476.34,360.18 476.34,319.7 480.14,319.7 480.14,344.14" fill="none" stroke="#6c6c6c" stroke-width="1.0"/>
<rect x="477.29" y="314.1" width="1.9" height="1.8" fill="#2a62c0"/>
<polyline points="488.43,361.9 488.43,319.7 492.23,319.7 492.23,356.17" fill="none" stroke="#6c6c6c" stroke-width="1.0"/>
<rect x="489.38" y="314.1" width="1.9" height="1.8" fill="#d42a2a"/>
<polyline points="496.03,361.9 496.03,319.7 499.83,319.7 499.83,342.76" fill="none" stroke="#6c6c6c" stroke-width="1.0"/>
<rect x="495.78" y="314.15" width="1.8" height="1.7" fill="#2a62c0"/>
<rect x="498.28" y="314.15" width="1.8" height="1.7" fill="#2a62c0"/>
<polyline points="508.12,361.9 508.12,319.7 511.92,319.7 511.92,354.62" fill="none" stroke="#6c6c6c" stroke-width="1.0"/>
<rect x="507.87" y="314.15" width="1.8" height="1.7" fill="#d42a2a"/>
<rect x="510.37" y="314.15" width="1.8" height="1.7" fill="#d42a2a"/>
<polyline points="515.72,361.9 515.72,319.7 519.52,319.7 519.52,320.77" fill="none" stroke="#6c6c6c" stroke-width="1.0"/>
<rect x="515.47" y="314.15" width="1.8" height="1.7" fill="#2a62c0"/>
<rect x="517.97" y="314.15" width="1.8" height="1.7" fill="#2a62c0"/>
<polyline points="527.81,361.9 527.81,319.7 531.61,319.7 531.61,352.04" fill="none" stroke="#6c6c6c" stroke-width="1.0"/>
<rect x="527.56" y="314.15" width="1.8" height="1.7" fill="#d42a2a"/>
<rect x="530.06" y="314.15" width="1.8" height="1.7" fill="#d42a2a"/>
<polyline points="535.41,362.76 535.41,319.7 539.21,319.7 539.21,374.72" fill="none" stroke="#6c6c6c" stroke-width="1.0"/>
<rect x="536.36" y="314.1" width="1.9" height="1.8" fill="#2a62c0"/>
<line x1="384.9" y1="384.3" x2="388.5" y2="384.3" stroke="#5e5e5e" stroke-width="0.8"/>
<text x="0" y="0" font-size="7" text-anchor="end" font-weight="normal" fill="#1c1c1c" stroke="#1c1c1c" stroke-width="0.32" transform="translate(386.3 386.68) scale(1.0000 1)">0</text>
<line x1="384.9" y1="349.93" x2="388.5" y2="349.93" stroke="#5e5e5e" stroke-width="0.8"/>
<text x="0" y="0" font-size="7" text-anchor="end" font-weight="normal" fill="#1c1c1c" stroke="#1c1c1c" stroke-width="0.32" transform="translate(386.3 352.31) scale(1.0000 1)">2</text>
<line x1="384.9" y1="315.57" x2="388.5" y2="315.57" stroke="#5e5e5e" stroke-width="0.8"/>
<text x="0" y="0" font-size="7" text-anchor="end" font-weight="normal" fill="#1c1c1c" stroke="#1c1c1c" stroke-width="0.32" transform="translate(386.3 317.95) scale(1.0000 1)">4</text>
<line x1="384.9" y1="281.2" x2="388.5" y2="281.2" stroke="#5e5e5e" stroke-width="0.8"/>
<text x="0" y="0" font-size="7" text-anchor="end" font-weight="normal" fill="#1c1c1c" stroke="#1c1c1c" stroke-width="0.32" transform="translate(386.3 283.58) scale(1.0000 1)">6</text>
<text x="0" y="0" font-size="8" text-anchor="middle" font-weight="normal" fill="#1c1c1c" stroke="#1c1c1c" stroke-width="0.32" transform="translate(378 333.85) rotate(-90) scale(0.8351 1)">Relative plasma miR-21-5p levels</text>
<text x="0" y="0" font-size="7.5" text-anchor="middle" font-weight="normal" fill="#1c1c1c" stroke="#1c1c1c" stroke-width="0.32" transform="translate(464.9 403.3) scale(0.9156 1)">Time (w)</text>
<text x="0" y="0" font-size="13" text-anchor="start" font-weight="bold" fill="#111" transform="translate(368 278) scale(0.9000 1)">f</text>
<line x1="40.6" y1="249" x2="40.6" y2="247.2" stroke="#5e5e5e" stroke-width="0.8"/>
<text x="0" y="0" font-size="7.3" text-anchor="middle" font-weight="normal" fill="#1c1c1c" stroke="#1c1c1c" stroke-width="0.32" transform="translate(40.6 257.3) scale(0.9000 1)">9</text>
<line x1="57.9" y1="249" x2="57.9" y2="247.2" stroke="#5e5e5e" stroke-width="0.8"/>
<text x="0" y="0" font-size="7.3" text-anchor="middle" font-weight="normal" fill="#1c1c1c" stroke="#1c1c1c" stroke-width="0.32" transform="translate(57.9 257.3) scale(0.9000 1)">11</text>
<line x1="75.2" y1="249" x2="75.2" y2="247.2" stroke="#5e5e5e" stroke-width="0.8"/>
<text x="0" y="0" font-size="7.3" text-anchor="middle" font-weight="normal" fill="#1c1c1c" stroke="#1c1c1c" stroke-width="0.32" transform="translate(75.2 257.3) scale(0.9000 1)">13</text>
<line x1="92.5" y1="249" x2="92.5" y2="247.2" stroke="#5e5e5e" stroke-width="0.8"/>
<text x="0" y="0" font-size="7.3" text-anchor="middle" font-weight="normal" fill="#1c1c1c" stroke="#1c1c1c" stroke-width="0.32" transform="translate(92.5 257.3) scale(0.9000 1)">15</text>
<line x1="109.8" y1="249" x2="109.8" y2="247.2" stroke="#5e5e5e" stroke-width="0.8"/>
<text x="0" y="0" font-size="7.3" text-anchor="middle" font-weight="normal" fill="#1c1c1c" stroke="#1c1c1c" stroke-width="0.32" transform="translate(109.8 257.3) scale(0.9000 1)">17</text>
<line x1="127.1" y1="249" x2="127.1" y2="247.2" stroke="#5e5e5e" stroke-width="0.8"/>
<text x="0" y="0" font-size="7.3" text-anchor="middle" font-weight="normal" fill="#1c1c1c" stroke="#1c1c1c" stroke-width="0.32" transform="translate(127.1 257.3) scale(0.9000 1)">19</text>
<line x1="144.4" y1="249" x2="144.4" y2="247.2" stroke="#5e5e5e" stroke-width="0.8"/>
<text x="0" y="0" font-size="7.3" text-anchor="middle" font-weight="normal" fill="#1c1c1c" stroke="#1c1c1c" stroke-width="0.32" transform="translate(144.4 257.3) scale(0.9000 1)">21</text>
<line x1="161.7" y1="249" x2="161.7" y2="247.2" stroke="#5e5e5e" stroke-width="0.8"/>
<text x="0" y="0" font-size="7.3" text-anchor="middle" font-weight="normal" fill="#1c1c1c" stroke="#1c1c1c" stroke-width="0.32" transform="translate(161.7 257.3) scale(0.9000 1)">23</text>
<text x="0" y="0" font-size="7.3" text-anchor="middle" font-weight="normal" fill="#1c1c1c" stroke="#1c1c1c" stroke-width="0.32" transform="translate(179 257.3) scale(0.9000 1)">25</text>
<line x1="32.8" y1="151.3" x2="44.6" y2="151.3" stroke="#8e8e8e" stroke-width="1.2"/>
<circle cx="38.7" cy="151.3" r="2.09" fill="#8e8e8e"/>
<line x1="32.8" y1="161.3" x2="44.6" y2="161.3" stroke="#c4c4c4" stroke-width="1.2"/>
<polygon points="38.7,158.99 36.39,162.98 41.01,162.98" fill="#a2a2a2"/>
<line x1="85.7" y1="151.3" x2="97.5" y2="151.3" stroke="#de2b22" stroke-width="1.3"/>
<rect x="89.8" y="149.5" width="3.61" height="3.61" fill="#de2b22"/>
<line x1="85.7" y1="161.3" x2="97.5" y2="161.3" stroke="#1b4d82" stroke-width="1.3"/>
<polygon points="89.42,159.69 93.79,159.69 91.6,163.49" fill="#1b4d82"/>
<text x="0" y="0" font-size="6.93" text-anchor="start" font-weight="normal" fill="#1c1c1c" stroke="#1c1c1c" stroke-width="0.32" transform="translate(51 154.1) scale(0.8934 1)">WT female</text>
<text x="0" y="0" font-size="6.93" text-anchor="start" font-weight="normal" fill="#1c1c1c" stroke="#1c1c1c" stroke-width="0.32" transform="translate(51 163.4) scale(0.8934 1)">WT male</text>
<text x="0" y="0" font-size="6.93" text-anchor="start" font-weight="normal" fill="#1c1c1c" stroke="#1c1c1c" stroke-width="0.32" transform="translate(103.7 154.1) scale(0.8924 1)">APP/PS1 female</text>
<text x="0" y="0" font-size="6.93" text-anchor="start" font-weight="normal" fill="#1c1c1c" stroke="#1c1c1c" stroke-width="0.32" transform="translate(103.7 163.4) scale(0.8924 1)">APP/PS1 male</text>
<line x1="40.6" y1="218.16" x2="40.6" y2="245.57" stroke="#a0a0a0" stroke-width="0.8"/>
<line x1="38.6" y1="218.16" x2="42.6" y2="218.16" stroke="#a0a0a0" stroke-width="0.8"/>
<line x1="38.6" y1="245.57" x2="42.6" y2="245.57" stroke="#a0a0a0" stroke-width="0.8"/>
<line x1="57.9" y1="220.22" x2="57.9" y2="243.52" stroke="#a0a0a0" stroke-width="0.8"/>
<line x1="55.9" y1="220.22" x2="59.9" y2="220.22" stroke="#a0a0a0" stroke-width="0.8"/>
<line x1="55.9" y1="243.52" x2="59.9" y2="243.52" stroke="#a0a0a0" stroke-width="0.8"/>
<line x1="75.2" y1="227.93" x2="75.2" y2="235.81" stroke="#a0a0a0" stroke-width="0.8"/>
<line x1="73.2" y1="227.93" x2="77.2" y2="227.93" stroke="#a0a0a0" stroke-width="0.8"/>
<line x1="73.2" y1="235.81" x2="77.2" y2="235.81" stroke="#a0a0a0" stroke-width="0.8"/>
<line x1="92.5" y1="229.3" x2="92.5" y2="234.44" stroke="#a0a0a0" stroke-width="0.8"/>
<line x1="90.5" y1="229.3" x2="94.5" y2="229.3" stroke="#a0a0a0" stroke-width="0.8"/>
<line x1="90.5" y1="234.44" x2="94.5" y2="234.44" stroke="#a0a0a0" stroke-width="0.8"/>
<line x1="109.8" y1="230.15" x2="109.8" y2="233.58" stroke="#a0a0a0" stroke-width="0.8"/>
<line x1="107.8" y1="230.15" x2="111.8" y2="230.15" stroke="#a0a0a0" stroke-width="0.8"/>
<line x1="107.8" y1="233.58" x2="111.8" y2="233.58" stroke="#a0a0a0" stroke-width="0.8"/>
<line x1="127.1" y1="229.3" x2="127.1" y2="234.44" stroke="#a0a0a0" stroke-width="0.8"/>
<line x1="125.1" y1="229.3" x2="129.1" y2="229.3" stroke="#a0a0a0" stroke-width="0.8"/>
<line x1="125.1" y1="234.44" x2="129.1" y2="234.44" stroke="#a0a0a0" stroke-width="0.8"/>
<line x1="144.4" y1="227.58" x2="144.4" y2="236.15" stroke="#a0a0a0" stroke-width="0.8"/>
<line x1="142.4" y1="227.58" x2="146.4" y2="227.58" stroke="#a0a0a0" stroke-width="0.8"/>
<line x1="142.4" y1="236.15" x2="146.4" y2="236.15" stroke="#a0a0a0" stroke-width="0.8"/>
<line x1="161.7" y1="224.84" x2="161.7" y2="238.89" stroke="#a0a0a0" stroke-width="0.8"/>
<line x1="159.7" y1="224.84" x2="163.7" y2="224.84" stroke="#a0a0a0" stroke-width="0.8"/>
<line x1="159.7" y1="238.89" x2="163.7" y2="238.89" stroke="#a0a0a0" stroke-width="0.8"/>
<line x1="40.6" y1="229.3" x2="40.6" y2="241.98" stroke="#e8766c" stroke-width="0.8"/>
<line x1="38.6" y1="229.3" x2="42.6" y2="229.3" stroke="#e8766c" stroke-width="0.8"/>
<line x1="38.6" y1="241.98" x2="42.6" y2="241.98" stroke="#e8766c" stroke-width="0.8"/>
<line x1="40.6" y1="232.21" x2="40.6" y2="240.43" stroke="#5f82ad" stroke-width="0.8"/>
<line x1="38.6" y1="232.21" x2="42.6" y2="232.21" stroke="#5f82ad" stroke-width="0.8"/>
<line x1="38.6" y1="240.43" x2="42.6" y2="240.43" stroke="#5f82ad" stroke-width="0.8"/>
<line x1="57.9" y1="216.45" x2="57.9" y2="240.43" stroke="#e8766c" stroke-width="0.8"/>
<line x1="55.9" y1="216.45" x2="59.9" y2="216.45" stroke="#e8766c" stroke-width="0.8"/>
<line x1="55.9" y1="240.43" x2="59.9" y2="240.43" stroke="#e8766c" stroke-width="0.8"/>
<line x1="57.9" y1="214.22" x2="57.9" y2="221.07" stroke="#5f82ad" stroke-width="0.8"/>
<line x1="55.9" y1="214.22" x2="59.9" y2="214.22" stroke="#5f82ad" stroke-width="0.8"/>
<line x1="55.9" y1="221.07" x2="59.9" y2="221.07" stroke="#5f82ad" stroke-width="0.8"/>
<line x1="75.2" y1="207.71" x2="75.2" y2="211.14" stroke="#e8766c" stroke-width="0.8"/>
<line x1="73.2" y1="207.71" x2="77.2" y2="207.71" stroke="#e8766c" stroke-width="0.8"/>
<line x1="73.2" y1="211.14" x2="77.2" y2="211.14" stroke="#e8766c" stroke-width="0.8"/>
<line x1="75.2" y1="229.98" x2="75.2" y2="236.84" stroke="#5f82ad" stroke-width="0.8"/>
<line x1="73.2" y1="229.98" x2="77.2" y2="229.98" stroke="#5f82ad" stroke-width="0.8"/>
<line x1="73.2" y1="236.84" x2="77.2" y2="236.84" stroke="#5f82ad" stroke-width="0.8"/>
<line x1="92.5" y1="246.09" x2="92.5" y2="249" stroke="#e8766c" stroke-width="0.8"/>
<line x1="90.5" y1="246.09" x2="94.5" y2="246.09" stroke="#e8766c" stroke-width="0.8"/>
<line x1="92.5" y1="213.36" x2="92.5" y2="229.13" stroke="#5f82ad" stroke-width="0.8"/>
<line x1="90.5" y1="213.36" x2="94.5" y2="213.36" stroke="#5f82ad" stroke-width="0.8"/>
<line x1="90.5" y1="229.13" x2="94.5" y2="229.13" stroke="#5f82ad" stroke-width="0.8"/>
<line x1="109.8" y1="237.86" x2="109.8" y2="241.29" stroke="#e8766c" stroke-width="0.8"/>
<line x1="107.8" y1="237.86" x2="111.8" y2="237.86" stroke="#e8766c" stroke-width="0.8"/>
<line x1="107.8" y1="241.29" x2="111.8" y2="241.29" stroke="#e8766c" stroke-width="0.8"/>
<line x1="109.8" y1="238.38" x2="109.8" y2="246.6" stroke="#5f82ad" stroke-width="0.8"/>
<line x1="107.8" y1="238.38" x2="111.8" y2="238.38" stroke="#5f82ad" stroke-width="0.8"/>
<line x1="107.8" y1="246.6" x2="111.8" y2="246.6" stroke="#5f82ad" stroke-width="0.8"/>
<line x1="127.1" y1="233.41" x2="127.1" y2="236.84" stroke="#e8766c" stroke-width="0.8"/>
<line x1="125.1" y1="233.41" x2="129.1" y2="233.41" stroke="#e8766c" stroke-width="0.8"/>
<line x1="125.1" y1="236.84" x2="129.1" y2="236.84" stroke="#e8766c" stroke-width="0.8"/>
<line x1="127.1" y1="210.79" x2="127.1" y2="230.32" stroke="#5f82ad" stroke-width="0.8"/>
<line x1="125.1" y1="210.79" x2="129.1" y2="210.79" stroke="#5f82ad" stroke-width="0.8"/>
<line x1="125.1" y1="230.32" x2="129.1" y2="230.32" stroke="#5f82ad" stroke-width="0.8"/>
<line x1="144.4" y1="241.46" x2="144.4" y2="244.89" stroke="#e8766c" stroke-width="0.8"/>
<line x1="142.4" y1="241.46" x2="146.4" y2="241.46" stroke="#e8766c" stroke-width="0.8"/>
<line x1="142.4" y1="244.89" x2="146.4" y2="244.89" stroke="#e8766c" stroke-width="0.8"/>
<line x1="144.4" y1="238.55" x2="144.4" y2="241.98" stroke="#5f82ad" stroke-width="0.8"/>
<line x1="142.4" y1="238.55" x2="146.4" y2="238.55" stroke="#5f82ad" stroke-width="0.8"/>
<line x1="142.4" y1="241.98" x2="146.4" y2="241.98" stroke="#5f82ad" stroke-width="0.8"/>
<line x1="161.7" y1="233.92" x2="161.7" y2="237.35" stroke="#e8766c" stroke-width="0.8"/>
<line x1="159.7" y1="233.92" x2="163.7" y2="233.92" stroke="#e8766c" stroke-width="0.8"/>
<line x1="159.7" y1="237.35" x2="163.7" y2="237.35" stroke="#e8766c" stroke-width="0.8"/>
<line x1="161.7" y1="188.35" x2="161.7" y2="198.63" stroke="#5f82ad" stroke-width="0.8"/>
<line x1="159.7" y1="188.35" x2="163.7" y2="188.35" stroke="#5f82ad" stroke-width="0.8"/>
<line x1="159.7" y1="198.63" x2="163.7" y2="198.63" stroke="#5f82ad" stroke-width="0.8"/>
<line x1="40.6" y1="231.87" x2="161.7" y2="231.87" stroke="#9a9a9a" stroke-width="1.2"/>
<polygon points="40.6,229.67 38.4,233.47 42.8,233.47" fill="#b4b4b4"/>
<circle cx="40.6" cy="231.87" r="1.9" fill="#8e8e8e"/>
<polygon points="57.9,229.67 55.7,233.47 60.1,233.47" fill="#b4b4b4"/>
<circle cx="57.9" cy="231.87" r="1.9" fill="#8e8e8e"/>
<polygon points="75.2,229.67 73,233.47 77.4,233.47" fill="#b4b4b4"/>
<circle cx="75.2" cy="231.87" r="1.9" fill="#8e8e8e"/>
<polygon points="92.5,229.67 90.3,233.47 94.7,233.47" fill="#b4b4b4"/>
<circle cx="92.5" cy="231.87" r="1.9" fill="#8e8e8e"/>
<polygon points="109.8,229.67 107.6,233.47 112,233.47" fill="#b4b4b4"/>
<circle cx="109.8" cy="231.87" r="1.9" fill="#8e8e8e"/>
<polygon points="127.1,229.67 124.9,233.47 129.3,233.47" fill="#b4b4b4"/>
<circle cx="127.1" cy="231.87" r="1.9" fill="#8e8e8e"/>
<polygon points="144.4,229.67 142.2,233.47 146.6,233.47" fill="#b4b4b4"/>
<circle cx="144.4" cy="231.87" r="1.9" fill="#8e8e8e"/>
<polygon points="161.7,229.67 159.5,233.47 163.9,233.47" fill="#b4b4b4"/>
<circle cx="161.7" cy="231.87" r="1.9" fill="#8e8e8e"/>
<polyline points="40.6,235.64 57.9,228.44 75.2,209.42 92.5,247.8 109.8,239.58 127.1,235.12 144.4,243.17 161.7,235.64" fill="none" stroke="#de2b22" stroke-width="1.15" stroke-linejoin="round"/>
<polyline points="40.6,236.32 57.9,217.65 75.2,233.41 92.5,221.24 109.8,242.49 127.1,220.56 144.4,240.26 161.7,193.49" fill="none" stroke="#1b4d82" stroke-width="1.15" stroke-linejoin="round"/>
<rect x="38.7" y="233.74" width="3.8" height="3.8" fill="#de2b22"/>
<rect x="56" y="226.54" width="3.8" height="3.8" fill="#de2b22"/>
<rect x="73.3" y="207.52" width="3.8" height="3.8" fill="#de2b22"/>
<rect x="90.6" y="245.9" width="3.8" height="3.8" fill="#de2b22"/>
<rect x="107.9" y="237.68" width="3.8" height="3.8" fill="#de2b22"/>
<rect x="125.2" y="233.22" width="3.8" height="3.8" fill="#de2b22"/>
<rect x="142.5" y="241.27" width="3.8" height="3.8" fill="#de2b22"/>
<rect x="159.8" y="233.74" width="3.8" height="3.8" fill="#de2b22"/>
<polygon points="38.3,234.62 42.9,234.62 40.6,238.62" fill="#1b4d82"/>
<polygon points="55.6,215.95 60.2,215.95 57.9,219.95" fill="#1b4d82"/>
<polygon points="72.9,231.71 77.5,231.71 75.2,235.71" fill="#1b4d82"/>
<polygon points="90.2,219.54 94.8,219.54 92.5,223.54" fill="#1b4d82"/>
<polygon points="107.5,240.79 112.1,240.79 109.8,244.79" fill="#1b4d82"/>
<polygon points="124.8,218.86 129.4,218.86 127.1,222.86" fill="#1b4d82"/>
<polygon points="142.1,238.56 146.7,238.56 144.4,242.56" fill="#1b4d82"/>
<polygon points="159.4,191.79 164,191.79 161.7,195.79" fill="#1b4d82"/>
<rect x="73.05" y="182.35" width="1.8" height="1.7" fill="#d42a2a"/>
<rect x="75.55" y="182.35" width="1.8" height="1.7" fill="#d42a2a"/>
<rect x="91.55" y="182.3" width="1.9" height="1.8" fill="#d42a2a"/>
<rect x="143.45" y="182.3" width="1.9" height="1.8" fill="#d42a2a"/>
<rect x="159.55" y="182.35" width="1.8" height="1.7" fill="#2a62c0"/>
<rect x="162.05" y="182.35" width="1.8" height="1.7" fill="#2a62c0"/>
<rect x="23.5" y="146.5" width="156" height="103" fill="none" stroke="#5e5e5e" stroke-width="1"/>
<line x1="21.5" y1="249" x2="25.1" y2="249" stroke="#5e5e5e" stroke-width="0.8"/>
<text x="0" y="0" font-size="7" text-anchor="end" font-weight="normal" fill="#1c1c1c" stroke="#1c1c1c" stroke-width="0.32" transform="translate(22.9 251.38) scale(1.0000 1)">0</text>
<line x1="21.5" y1="214.73" x2="25.1" y2="214.73" stroke="#5e5e5e" stroke-width="0.8"/>
<text x="0" y="0" font-size="7" text-anchor="end" font-weight="normal" fill="#1c1c1c" stroke="#1c1c1c" stroke-width="0.32" transform="translate(22.9 217.11) scale(1.0000 1)">2</text>
<line x1="21.5" y1="180.47" x2="25.1" y2="180.47" stroke="#5e5e5e" stroke-width="0.8"/>
<text x="0" y="0" font-size="7" text-anchor="end" font-weight="normal" fill="#1c1c1c" stroke="#1c1c1c" stroke-width="0.32" transform="translate(22.9 182.85) scale(1.0000 1)">4</text>
<line x1="21.5" y1="146.2" x2="25.1" y2="146.2" stroke="#5e5e5e" stroke-width="0.8"/>
<text x="0" y="0" font-size="7" text-anchor="end" font-weight="normal" fill="#1c1c1c" stroke="#1c1c1c" stroke-width="0.32" transform="translate(22.9 148.58) scale(1.0000 1)">6</text>
<text x="0" y="0" font-size="8" text-anchor="middle" font-weight="normal" fill="#1c1c1c" stroke="#1c1c1c" stroke-width="0.32" transform="translate(15.5 197.8) rotate(-90) scale(0.8488 1)">Relative plasma miR-34c-5p levels</text>
<text x="0" y="0" font-size="7.5" text-anchor="middle" font-weight="normal" fill="#1c1c1c" stroke="#1c1c1c" stroke-width="0.32" transform="translate(101.5 268.6) scale(0.9156 1)">Time (w)</text>
<line x1="222.74" y1="250.2" x2="222.74" y2="248.4" stroke="#5e5e5e" stroke-width="0.8"/>
<text x="0" y="0" font-size="7.3" text-anchor="middle" font-weight="normal" fill="#1c1c1c" stroke="#1c1c1c" stroke-width="0.32" transform="translate(222.74 258.3) scale(0.9000 1)">9</text>
<line x1="239.99" y1="250.2" x2="239.99" y2="248.4" stroke="#5e5e5e" stroke-width="0.8"/>
<text x="0" y="0" font-size="7.3" text-anchor="middle" font-weight="normal" fill="#1c1c1c" stroke="#1c1c1c" stroke-width="0.32" transform="translate(239.99 258.3) scale(0.9000 1)">11</text>
<line x1="257.23" y1="250.2" x2="257.23" y2="248.4" stroke="#5e5e5e" stroke-width="0.8"/>
<text x="0" y="0" font-size="7.3" text-anchor="middle" font-weight="normal" fill="#1c1c1c" stroke="#1c1c1c" stroke-width="0.32" transform="translate(257.23 258.3) scale(0.9000 1)">13</text>
<line x1="274.48" y1="250.2" x2="274.48" y2="248.4" stroke="#5e5e5e" stroke-width="0.8"/>
<text x="0" y="0" font-size="7.3" text-anchor="middle" font-weight="normal" fill="#1c1c1c" stroke="#1c1c1c" stroke-width="0.32" transform="translate(274.48 258.3) scale(0.9000 1)">15</text>
<line x1="291.72" y1="250.2" x2="291.72" y2="248.4" stroke="#5e5e5e" stroke-width="0.8"/>
<text x="0" y="0" font-size="7.3" text-anchor="middle" font-weight="normal" fill="#1c1c1c" stroke="#1c1c1c" stroke-width="0.32" transform="translate(291.72 258.3) scale(0.9000 1)">17</text>
<line x1="308.97" y1="250.2" x2="308.97" y2="248.4" stroke="#5e5e5e" stroke-width="0.8"/>
<text x="0" y="0" font-size="7.3" text-anchor="middle" font-weight="normal" fill="#1c1c1c" stroke="#1c1c1c" stroke-width="0.32" transform="translate(308.97 258.3) scale(0.9000 1)">19</text>
<line x1="326.21" y1="250.2" x2="326.21" y2="248.4" stroke="#5e5e5e" stroke-width="0.8"/>
<text x="0" y="0" font-size="7.3" text-anchor="middle" font-weight="normal" fill="#1c1c1c" stroke="#1c1c1c" stroke-width="0.32" transform="translate(326.21 258.3) scale(0.9000 1)">21</text>
<line x1="343.46" y1="250.2" x2="343.46" y2="248.4" stroke="#5e5e5e" stroke-width="0.8"/>
<text x="0" y="0" font-size="7.3" text-anchor="middle" font-weight="normal" fill="#1c1c1c" stroke="#1c1c1c" stroke-width="0.32" transform="translate(343.46 258.3) scale(0.9000 1)">23</text>
<text x="0" y="0" font-size="7.3" text-anchor="middle" font-weight="normal" fill="#1c1c1c" stroke="#1c1c1c" stroke-width="0.32" transform="translate(360.7 258.3) scale(0.9000 1)">25</text>
<line x1="213.2" y1="153.7" x2="225.2" y2="153.7" stroke="#8e8e8e" stroke-width="1.2"/>
<circle cx="219.2" cy="153.7" r="2.09" fill="#8e8e8e"/>
<line x1="213.2" y1="163.7" x2="225.2" y2="163.7" stroke="#c4c4c4" stroke-width="1.2"/>
<polygon points="219.2,161.39 216.89,165.38 221.51,165.38" fill="#a2a2a2"/>
<line x1="271.1" y1="153.7" x2="283.1" y2="153.7" stroke="#de2b22" stroke-width="1.3"/>
<rect x="275.3" y="151.89" width="3.61" height="3.61" fill="#de2b22"/>
<line x1="271.1" y1="163.7" x2="283.1" y2="163.7" stroke="#1b4d82" stroke-width="1.3"/>
<polygon points="274.92,162.08 279.29,162.08 277.1,165.88" fill="#1b4d82"/>
<text x="0" y="0" font-size="7.62" text-anchor="start" font-weight="normal" fill="#1c1c1c" stroke="#1c1c1c" stroke-width="0.32" transform="translate(231.2 156.6) scale(0.8847 1)">WT female</text>
<text x="0" y="0" font-size="7.62" text-anchor="start" font-weight="normal" fill="#1c1c1c" stroke="#1c1c1c" stroke-width="0.32" transform="translate(231.2 166.7) scale(0.8847 1)">WT male</text>
<text x="0" y="0" font-size="7.62" text-anchor="start" font-weight="normal" fill="#1c1c1c" stroke="#1c1c1c" stroke-width="0.32" transform="translate(289.3 156.6) scale(0.9011 1)">APP/PS1 female</text>
<text x="0" y="0" font-size="7.62" text-anchor="start" font-weight="normal" fill="#1c1c1c" stroke="#1c1c1c" stroke-width="0.32" transform="translate(289.3 166.7) scale(0.9011 1)">APP/PS1 male</text>
<line x1="222.74" y1="229.7" x2="222.74" y2="236.53" stroke="#a0a0a0" stroke-width="0.8"/>
<line x1="220.74" y1="229.7" x2="224.74" y2="229.7" stroke="#a0a0a0" stroke-width="0.8"/>
<line x1="220.74" y1="236.53" x2="224.74" y2="236.53" stroke="#a0a0a0" stroke-width="0.8"/>
<line x1="239.99" y1="228.85" x2="239.99" y2="237.39" stroke="#a0a0a0" stroke-width="0.8"/>
<line x1="237.99" y1="228.85" x2="241.99" y2="228.85" stroke="#a0a0a0" stroke-width="0.8"/>
<line x1="237.99" y1="237.39" x2="241.99" y2="237.39" stroke="#a0a0a0" stroke-width="0.8"/>
<line x1="257.23" y1="230.55" x2="257.23" y2="235.68" stroke="#a0a0a0" stroke-width="0.8"/>
<line x1="255.23" y1="230.55" x2="259.23" y2="230.55" stroke="#a0a0a0" stroke-width="0.8"/>
<line x1="255.23" y1="235.68" x2="259.23" y2="235.68" stroke="#a0a0a0" stroke-width="0.8"/>
<line x1="274.48" y1="222.87" x2="274.48" y2="243.37" stroke="#a0a0a0" stroke-width="0.8"/>
<line x1="272.48" y1="222.87" x2="276.48" y2="222.87" stroke="#a0a0a0" stroke-width="0.8"/>
<line x1="272.48" y1="243.37" x2="276.48" y2="243.37" stroke="#a0a0a0" stroke-width="0.8"/>
<line x1="291.72" y1="218.25" x2="291.72" y2="247.98" stroke="#a0a0a0" stroke-width="0.8"/>
<line x1="289.72" y1="218.25" x2="293.72" y2="218.25" stroke="#a0a0a0" stroke-width="0.8"/>
<line x1="289.72" y1="247.98" x2="293.72" y2="247.98" stroke="#a0a0a0" stroke-width="0.8"/>
<line x1="308.97" y1="229.7" x2="308.97" y2="236.53" stroke="#a0a0a0" stroke-width="0.8"/>
<line x1="306.97" y1="229.7" x2="310.97" y2="229.7" stroke="#a0a0a0" stroke-width="0.8"/>
<line x1="306.97" y1="236.53" x2="310.97" y2="236.53" stroke="#a0a0a0" stroke-width="0.8"/>
<line x1="326.21" y1="223.38" x2="326.21" y2="242.85" stroke="#a0a0a0" stroke-width="0.8"/>
<line x1="324.21" y1="223.38" x2="328.21" y2="223.38" stroke="#a0a0a0" stroke-width="0.8"/>
<line x1="324.21" y1="242.85" x2="328.21" y2="242.85" stroke="#a0a0a0" stroke-width="0.8"/>
<line x1="343.46" y1="230.55" x2="343.46" y2="235.68" stroke="#a0a0a0" stroke-width="0.8"/>
<line x1="341.46" y1="230.55" x2="345.46" y2="230.55" stroke="#a0a0a0" stroke-width="0.8"/>
<line x1="341.46" y1="235.68" x2="345.46" y2="235.68" stroke="#a0a0a0" stroke-width="0.8"/>
<line x1="222.74" y1="224.23" x2="222.74" y2="232.09" stroke="#e8766c" stroke-width="0.8"/>
<line x1="220.74" y1="224.23" x2="224.74" y2="224.23" stroke="#e8766c" stroke-width="0.8"/>
<line x1="220.74" y1="232.09" x2="224.74" y2="232.09" stroke="#e8766c" stroke-width="0.8"/>
<line x1="222.74" y1="222.53" x2="222.74" y2="239.61" stroke="#5f82ad" stroke-width="0.8"/>
<line x1="220.74" y1="222.53" x2="224.74" y2="222.53" stroke="#5f82ad" stroke-width="0.8"/>
<line x1="220.74" y1="239.61" x2="224.74" y2="239.61" stroke="#5f82ad" stroke-width="0.8"/>
<line x1="239.99" y1="232.95" x2="239.99" y2="242.17" stroke="#e8766c" stroke-width="0.8"/>
<line x1="237.99" y1="232.95" x2="241.99" y2="232.95" stroke="#e8766c" stroke-width="0.8"/>
<line x1="237.99" y1="242.17" x2="241.99" y2="242.17" stroke="#e8766c" stroke-width="0.8"/>
<line x1="239.99" y1="218.43" x2="239.99" y2="225.26" stroke="#5f82ad" stroke-width="0.8"/>
<line x1="237.99" y1="218.43" x2="241.99" y2="218.43" stroke="#5f82ad" stroke-width="0.8"/>
<line x1="237.99" y1="225.26" x2="241.99" y2="225.26" stroke="#5f82ad" stroke-width="0.8"/>
<line x1="257.23" y1="206.3" x2="257.23" y2="211.42" stroke="#e8766c" stroke-width="0.8"/>
<line x1="255.23" y1="206.3" x2="259.23" y2="206.3" stroke="#e8766c" stroke-width="0.8"/>
<line x1="255.23" y1="211.42" x2="259.23" y2="211.42" stroke="#e8766c" stroke-width="0.8"/>
<line x1="257.23" y1="204.93" x2="257.23" y2="218.6" stroke="#5f82ad" stroke-width="0.8"/>
<line x1="255.23" y1="204.93" x2="259.23" y2="204.93" stroke="#5f82ad" stroke-width="0.8"/>
<line x1="255.23" y1="218.6" x2="259.23" y2="218.6" stroke="#5f82ad" stroke-width="0.8"/>
<line x1="274.48" y1="232.43" x2="274.48" y2="243.37" stroke="#e8766c" stroke-width="0.8"/>
<line x1="272.48" y1="232.43" x2="276.48" y2="232.43" stroke="#e8766c" stroke-width="0.8"/>
<line x1="272.48" y1="243.37" x2="276.48" y2="243.37" stroke="#e8766c" stroke-width="0.8"/>
<line x1="274.48" y1="218.42" x2="274.48" y2="228.67" stroke="#5f82ad" stroke-width="0.8"/>
<line x1="272.48" y1="218.42" x2="276.48" y2="218.42" stroke="#5f82ad" stroke-width="0.8"/>
<line x1="272.48" y1="228.67" x2="276.48" y2="228.67" stroke="#5f82ad" stroke-width="0.8"/>
<line x1="291.72" y1="241.83" x2="291.72" y2="245.25" stroke="#e8766c" stroke-width="0.8"/>
<line x1="289.72" y1="241.83" x2="293.72" y2="241.83" stroke="#e8766c" stroke-width="0.8"/>
<line x1="289.72" y1="245.25" x2="293.72" y2="245.25" stroke="#e8766c" stroke-width="0.8"/>
<line x1="291.72" y1="243.02" x2="291.72" y2="246.44" stroke="#5f82ad" stroke-width="0.8"/>
<line x1="289.72" y1="243.02" x2="293.72" y2="243.02" stroke="#5f82ad" stroke-width="0.8"/>
<line x1="289.72" y1="246.44" x2="293.72" y2="246.44" stroke="#5f82ad" stroke-width="0.8"/>
<line x1="308.97" y1="237.05" x2="308.97" y2="240.46" stroke="#e8766c" stroke-width="0.8"/>
<line x1="306.97" y1="237.05" x2="310.97" y2="237.05" stroke="#e8766c" stroke-width="0.8"/>
<line x1="306.97" y1="240.46" x2="310.97" y2="240.46" stroke="#e8766c" stroke-width="0.8"/>
<line x1="308.97" y1="222.35" x2="308.97" y2="229.19" stroke="#5f82ad" stroke-width="0.8"/>
<line x1="306.97" y1="222.35" x2="310.97" y2="222.35" stroke="#5f82ad" stroke-width="0.8"/>
<line x1="306.97" y1="229.19" x2="310.97" y2="229.19" stroke="#5f82ad" stroke-width="0.8"/>
<line x1="326.21" y1="234.48" x2="326.21" y2="243.03" stroke="#e8766c" stroke-width="0.8"/>
<line x1="324.21" y1="234.48" x2="328.21" y2="234.48" stroke="#e8766c" stroke-width="0.8"/>
<line x1="324.21" y1="243.03" x2="328.21" y2="243.03" stroke="#e8766c" stroke-width="0.8"/>
<line x1="326.21" y1="230.38" x2="326.21" y2="233.8" stroke="#5f82ad" stroke-width="0.8"/>
<line x1="324.21" y1="230.38" x2="328.21" y2="230.38" stroke="#5f82ad" stroke-width="0.8"/>
<line x1="324.21" y1="233.8" x2="328.21" y2="233.8" stroke="#5f82ad" stroke-width="0.8"/>
<line x1="343.46" y1="241.66" x2="343.46" y2="245.07" stroke="#e8766c" stroke-width="0.8"/>
<line x1="341.46" y1="241.66" x2="345.46" y2="241.66" stroke="#e8766c" stroke-width="0.8"/>
<line x1="341.46" y1="245.07" x2="345.46" y2="245.07" stroke="#e8766c" stroke-width="0.8"/>
<line x1="343.46" y1="211.25" x2="343.46" y2="226.62" stroke="#5f82ad" stroke-width="0.8"/>
<line x1="341.46" y1="211.25" x2="345.46" y2="211.25" stroke="#5f82ad" stroke-width="0.8"/>
<line x1="341.46" y1="226.62" x2="345.46" y2="226.62" stroke="#5f82ad" stroke-width="0.8"/>
<line x1="222.74" y1="233.12" x2="343.46" y2="233.12" stroke="#9a9a9a" stroke-width="1.2"/>
<polygon points="222.74,230.92 220.54,234.72 224.94,234.72" fill="#b4b4b4"/>
<circle cx="222.74" cy="233.12" r="1.9" fill="#8e8e8e"/>
<polygon points="239.99,230.92 237.79,234.72 242.19,234.72" fill="#b4b4b4"/>
<circle cx="239.99" cy="233.12" r="1.9" fill="#8e8e8e"/>
<polygon points="257.23,230.92 255.03,234.72 259.43,234.72" fill="#b4b4b4"/>
<circle cx="257.23" cy="233.12" r="1.9" fill="#8e8e8e"/>
<polygon points="274.48,230.92 272.28,234.72 276.68,234.72" fill="#b4b4b4"/>
<circle cx="274.48" cy="233.12" r="1.9" fill="#8e8e8e"/>
<polygon points="291.72,230.92 289.52,234.72 293.92,234.72" fill="#b4b4b4"/>
<circle cx="291.72" cy="233.12" r="1.9" fill="#8e8e8e"/>
<polygon points="308.97,230.92 306.77,234.72 311.17,234.72" fill="#b4b4b4"/>
<circle cx="308.97" cy="233.12" r="1.9" fill="#8e8e8e"/>
<polygon points="326.21,230.92 324.01,234.72 328.41,234.72" fill="#b4b4b4"/>
<circle cx="326.21" cy="233.12" r="1.9" fill="#8e8e8e"/>
<polygon points="343.46,230.92 341.26,234.72 345.66,234.72" fill="#b4b4b4"/>
<circle cx="343.46" cy="233.12" r="1.9" fill="#8e8e8e"/>
<polyline points="222.74,228.16 239.99,237.56 257.23,208.86 274.48,237.9 291.72,243.54 308.97,238.75 326.21,238.75 343.46,243.37" fill="none" stroke="#de2b22" stroke-width="1.15" stroke-linejoin="round"/>
<polyline points="222.74,231.07 239.99,221.84 257.23,211.76 274.48,223.55 291.72,244.73 308.97,225.77 326.21,232.09 343.46,218.94" fill="none" stroke="#1b4d82" stroke-width="1.15" stroke-linejoin="round"/>
<rect x="220.84" y="226.26" width="3.8" height="3.8" fill="#de2b22"/>
<rect x="238.09" y="235.66" width="3.8" height="3.8" fill="#de2b22"/>
<rect x="255.33" y="206.96" width="3.8" height="3.8" fill="#de2b22"/>
<rect x="272.58" y="236" width="3.8" height="3.8" fill="#de2b22"/>
<rect x="289.82" y="241.64" width="3.8" height="3.8" fill="#de2b22"/>
<rect x="307.07" y="236.85" width="3.8" height="3.8" fill="#de2b22"/>
<rect x="324.31" y="236.85" width="3.8" height="3.8" fill="#de2b22"/>
<rect x="341.56" y="241.47" width="3.8" height="3.8" fill="#de2b22"/>
<polygon points="220.44,229.37 225.04,229.37 222.74,233.37" fill="#1b4d82"/>
<polygon points="237.69,220.14 242.29,220.14 239.99,224.14" fill="#1b4d82"/>
<polygon points="254.93,210.06 259.53,210.06 257.23,214.06" fill="#1b4d82"/>
<polygon points="272.18,221.85 276.78,221.85 274.48,225.85" fill="#1b4d82"/>
<polygon points="289.42,243.03 294.02,243.03 291.72,247.03" fill="#1b4d82"/>
<polygon points="306.67,224.07 311.27,224.07 308.97,228.07" fill="#1b4d82"/>
<polygon points="323.91,230.39 328.51,230.39 326.21,234.39" fill="#1b4d82"/>
<polygon points="341.16,217.24 345.76,217.24 343.46,221.24" fill="#1b4d82"/>
<rect x="255.08" y="180.75" width="1.8" height="1.7" fill="#d42a2a"/>
<rect x="257.58" y="180.75" width="1.8" height="1.7" fill="#d42a2a"/>
<rect x="342.51" y="180.7" width="1.9" height="1.8" fill="#d42a2a"/>
<rect x="255.08" y="187.95" width="1.8" height="1.7" fill="#2a62c0"/>
<rect x="257.58" y="187.95" width="1.8" height="1.7" fill="#2a62c0"/>
<rect x="342.51" y="187.9" width="1.9" height="1.8" fill="#2a62c0"/>
<rect x="205.5" y="147.5" width="155" height="103" fill="none" stroke="#5e5e5e" stroke-width="1"/>
<line x1="203.7" y1="250.2" x2="207.3" y2="250.2" stroke="#5e5e5e" stroke-width="0.8"/>
<text x="0" y="0" font-size="7" text-anchor="end" font-weight="normal" fill="#1c1c1c" stroke="#1c1c1c" stroke-width="0.32" transform="translate(205.1 252.58) scale(1.0000 1)">0</text>
<line x1="203.7" y1="216.03" x2="207.3" y2="216.03" stroke="#5e5e5e" stroke-width="0.8"/>
<text x="0" y="0" font-size="7" text-anchor="end" font-weight="normal" fill="#1c1c1c" stroke="#1c1c1c" stroke-width="0.32" transform="translate(205.1 218.41) scale(1.0000 1)">2</text>
<line x1="203.7" y1="181.87" x2="207.3" y2="181.87" stroke="#5e5e5e" stroke-width="0.8"/>
<text x="0" y="0" font-size="7" text-anchor="end" font-weight="normal" fill="#1c1c1c" stroke="#1c1c1c" stroke-width="0.32" transform="translate(205.1 184.25) scale(1.0000 1)">4</text>
<line x1="203.7" y1="147.7" x2="207.3" y2="147.7" stroke="#5e5e5e" stroke-width="0.8"/>
<text x="0" y="0" font-size="7" text-anchor="end" font-weight="normal" fill="#1c1c1c" stroke="#1c1c1c" stroke-width="0.32" transform="translate(205.1 150.08) scale(1.0000 1)">6</text>
<text x="0" y="0" font-size="8" text-anchor="middle" font-weight="normal" fill="#1c1c1c" stroke="#1c1c1c" stroke-width="0.32" transform="translate(196 199.45) rotate(-90) scale(0.8551 1)">Relative plasma miR-206-3p levels</text>
<text x="0" y="0" font-size="7.5" text-anchor="middle" font-weight="normal" fill="#1c1c1c" stroke="#1c1c1c" stroke-width="0.32" transform="translate(283.5 268.8) scale(0.9156 1)">Time (w)</text>
<line x1="404.1" y1="250.2" x2="404.1" y2="248.4" stroke="#5e5e5e" stroke-width="0.8"/>
<text x="0" y="0" font-size="7.3" text-anchor="middle" font-weight="normal" fill="#1c1c1c" stroke="#1c1c1c" stroke-width="0.32" transform="translate(404.1 258.3) scale(0.9000 1)">9</text>
<line x1="421.4" y1="250.2" x2="421.4" y2="248.4" stroke="#5e5e5e" stroke-width="0.8"/>
<text x="0" y="0" font-size="7.3" text-anchor="middle" font-weight="normal" fill="#1c1c1c" stroke="#1c1c1c" stroke-width="0.32" transform="translate(421.4 258.3) scale(0.9000 1)">11</text>
<line x1="438.7" y1="250.2" x2="438.7" y2="248.4" stroke="#5e5e5e" stroke-width="0.8"/>
<text x="0" y="0" font-size="7.3" text-anchor="middle" font-weight="normal" fill="#1c1c1c" stroke="#1c1c1c" stroke-width="0.32" transform="translate(438.7 258.3) scale(0.9000 1)">13</text>
<line x1="456" y1="250.2" x2="456" y2="248.4" stroke="#5e5e5e" stroke-width="0.8"/>
<text x="0" y="0" font-size="7.3" text-anchor="middle" font-weight="normal" fill="#1c1c1c" stroke="#1c1c1c" stroke-width="0.32" transform="translate(456 258.3) scale(0.9000 1)">15</text>
<line x1="473.3" y1="250.2" x2="473.3" y2="248.4" stroke="#5e5e5e" stroke-width="0.8"/>
<text x="0" y="0" font-size="7.3" text-anchor="middle" font-weight="normal" fill="#1c1c1c" stroke="#1c1c1c" stroke-width="0.32" transform="translate(473.3 258.3) scale(0.9000 1)">17</text>
<line x1="490.6" y1="250.2" x2="490.6" y2="248.4" stroke="#5e5e5e" stroke-width="0.8"/>
<text x="0" y="0" font-size="7.3" text-anchor="middle" font-weight="normal" fill="#1c1c1c" stroke="#1c1c1c" stroke-width="0.32" transform="translate(490.6 258.3) scale(0.9000 1)">19</text>
<line x1="507.9" y1="250.2" x2="507.9" y2="248.4" stroke="#5e5e5e" stroke-width="0.8"/>
<text x="0" y="0" font-size="7.3" text-anchor="middle" font-weight="normal" fill="#1c1c1c" stroke="#1c1c1c" stroke-width="0.32" transform="translate(507.9 258.3) scale(0.9000 1)">21</text>
<line x1="525.2" y1="250.2" x2="525.2" y2="248.4" stroke="#5e5e5e" stroke-width="0.8"/>
<text x="0" y="0" font-size="7.3" text-anchor="middle" font-weight="normal" fill="#1c1c1c" stroke="#1c1c1c" stroke-width="0.32" transform="translate(525.2 258.3) scale(0.9000 1)">23</text>
<text x="0" y="0" font-size="7.3" text-anchor="middle" font-weight="normal" fill="#1c1c1c" stroke="#1c1c1c" stroke-width="0.32" transform="translate(542.5 258.3) scale(0.9000 1)">25</text>
<line x1="394.1" y1="154.5" x2="406.1" y2="154.5" stroke="#8e8e8e" stroke-width="1.2"/>
<circle cx="400.1" cy="154.5" r="2.09" fill="#8e8e8e"/>
<line x1="394.1" y1="164.6" x2="406.1" y2="164.6" stroke="#c4c4c4" stroke-width="1.2"/>
<polygon points="400.1,162.29 397.79,166.28 402.41,166.28" fill="#a2a2a2"/>
<line x1="452.2" y1="154.5" x2="464.2" y2="154.5" stroke="#de2b22" stroke-width="1.3"/>
<rect x="456.39" y="152.69" width="3.61" height="3.61" fill="#de2b22"/>
<line x1="452.2" y1="164.6" x2="464.2" y2="164.6" stroke="#1b4d82" stroke-width="1.3"/>
<polygon points="456.01,162.98 460.38,162.98 458.2,166.78" fill="#1b4d82"/>
<text x="0" y="0" font-size="7.69" text-anchor="start" font-weight="normal" fill="#1c1c1c" stroke="#1c1c1c" stroke-width="0.32" transform="translate(412 156.9) scale(0.8919 1)">WT female</text>
<text x="0" y="0" font-size="7.69" text-anchor="start" font-weight="normal" fill="#1c1c1c" stroke="#1c1c1c" stroke-width="0.32" transform="translate(412 167.1) scale(0.8919 1)">WT male</text>
<text x="0" y="0" font-size="7.69" text-anchor="start" font-weight="normal" fill="#1c1c1c" stroke="#1c1c1c" stroke-width="0.32" transform="translate(469.9 156.9) scale(0.8938 1)">APP/PS1 female</text>
<text x="0" y="0" font-size="7.69" text-anchor="start" font-weight="normal" fill="#1c1c1c" stroke="#1c1c1c" stroke-width="0.32" transform="translate(469.9 167.1) scale(0.8938 1)">APP/PS1 male</text>
<line x1="404.1" y1="225.09" x2="404.1" y2="241.15" stroke="#a0a0a0" stroke-width="0.8"/>
<line x1="402.1" y1="225.09" x2="406.1" y2="225.09" stroke="#a0a0a0" stroke-width="0.8"/>
<line x1="402.1" y1="241.15" x2="406.1" y2="241.15" stroke="#a0a0a0" stroke-width="0.8"/>
<line x1="421.4" y1="230.55" x2="421.4" y2="235.68" stroke="#a0a0a0" stroke-width="0.8"/>
<line x1="419.4" y1="230.55" x2="423.4" y2="230.55" stroke="#a0a0a0" stroke-width="0.8"/>
<line x1="419.4" y1="235.68" x2="423.4" y2="235.68" stroke="#a0a0a0" stroke-width="0.8"/>
<line x1="438.7" y1="227.99" x2="438.7" y2="238.24" stroke="#a0a0a0" stroke-width="0.8"/>
<line x1="436.7" y1="227.99" x2="440.7" y2="227.99" stroke="#a0a0a0" stroke-width="0.8"/>
<line x1="436.7" y1="238.24" x2="440.7" y2="238.24" stroke="#a0a0a0" stroke-width="0.8"/>
<line x1="456" y1="230.55" x2="456" y2="235.68" stroke="#a0a0a0" stroke-width="0.8"/>
<line x1="454" y1="230.55" x2="458" y2="230.55" stroke="#a0a0a0" stroke-width="0.8"/>
<line x1="454" y1="235.68" x2="458" y2="235.68" stroke="#a0a0a0" stroke-width="0.8"/>
<line x1="473.3" y1="230.55" x2="473.3" y2="235.68" stroke="#a0a0a0" stroke-width="0.8"/>
<line x1="471.3" y1="230.55" x2="475.3" y2="230.55" stroke="#a0a0a0" stroke-width="0.8"/>
<line x1="471.3" y1="235.68" x2="475.3" y2="235.68" stroke="#a0a0a0" stroke-width="0.8"/>
<line x1="490.6" y1="229.7" x2="490.6" y2="236.53" stroke="#a0a0a0" stroke-width="0.8"/>
<line x1="488.6" y1="229.7" x2="492.6" y2="229.7" stroke="#a0a0a0" stroke-width="0.8"/>
<line x1="488.6" y1="236.53" x2="492.6" y2="236.53" stroke="#a0a0a0" stroke-width="0.8"/>
<line x1="507.9" y1="229.7" x2="507.9" y2="236.53" stroke="#a0a0a0" stroke-width="0.8"/>
<line x1="505.9" y1="229.7" x2="509.9" y2="229.7" stroke="#a0a0a0" stroke-width="0.8"/>
<line x1="505.9" y1="236.53" x2="509.9" y2="236.53" stroke="#a0a0a0" stroke-width="0.8"/>
<line x1="525.2" y1="230.55" x2="525.2" y2="235.68" stroke="#a0a0a0" stroke-width="0.8"/>
<line x1="523.2" y1="230.55" x2="527.2" y2="230.55" stroke="#a0a0a0" stroke-width="0.8"/>
<line x1="523.2" y1="235.68" x2="527.2" y2="235.68" stroke="#a0a0a0" stroke-width="0.8"/>
<line x1="404.1" y1="221.33" x2="404.1" y2="233.63" stroke="#e8766c" stroke-width="0.8"/>
<line x1="402.1" y1="221.33" x2="406.1" y2="221.33" stroke="#e8766c" stroke-width="0.8"/>
<line x1="402.1" y1="233.63" x2="406.1" y2="233.63" stroke="#e8766c" stroke-width="0.8"/>
<line x1="404.1" y1="227.99" x2="404.1" y2="231.41" stroke="#5f82ad" stroke-width="0.8"/>
<line x1="402.1" y1="227.99" x2="406.1" y2="227.99" stroke="#5f82ad" stroke-width="0.8"/>
<line x1="402.1" y1="231.41" x2="406.1" y2="231.41" stroke="#5f82ad" stroke-width="0.8"/>
<line x1="421.4" y1="228.33" x2="421.4" y2="244.05" stroke="#e8766c" stroke-width="0.8"/>
<line x1="419.4" y1="228.33" x2="423.4" y2="228.33" stroke="#e8766c" stroke-width="0.8"/>
<line x1="419.4" y1="244.05" x2="423.4" y2="244.05" stroke="#e8766c" stroke-width="0.8"/>
<line x1="421.4" y1="227.99" x2="421.4" y2="231.41" stroke="#5f82ad" stroke-width="0.8"/>
<line x1="419.4" y1="227.99" x2="423.4" y2="227.99" stroke="#5f82ad" stroke-width="0.8"/>
<line x1="419.4" y1="231.41" x2="423.4" y2="231.41" stroke="#5f82ad" stroke-width="0.8"/>
<line x1="438.7" y1="223.21" x2="438.7" y2="228.33" stroke="#e8766c" stroke-width="0.8"/>
<line x1="436.7" y1="223.21" x2="440.7" y2="223.21" stroke="#e8766c" stroke-width="0.8"/>
<line x1="436.7" y1="228.33" x2="440.7" y2="228.33" stroke="#e8766c" stroke-width="0.8"/>
<line x1="438.7" y1="220.82" x2="438.7" y2="224.23" stroke="#5f82ad" stroke-width="0.8"/>
<line x1="436.7" y1="220.82" x2="440.7" y2="220.82" stroke="#5f82ad" stroke-width="0.8"/>
<line x1="436.7" y1="224.23" x2="440.7" y2="224.23" stroke="#5f82ad" stroke-width="0.8"/>
<line x1="456" y1="218.6" x2="456" y2="225.43" stroke="#e8766c" stroke-width="0.8"/>
<line x1="454" y1="218.6" x2="458" y2="218.6" stroke="#e8766c" stroke-width="0.8"/>
<line x1="454" y1="225.43" x2="458" y2="225.43" stroke="#e8766c" stroke-width="0.8"/>
<line x1="456" y1="238.75" x2="456" y2="242.17" stroke="#5f82ad" stroke-width="0.8"/>
<line x1="454" y1="238.75" x2="458" y2="238.75" stroke="#5f82ad" stroke-width="0.8"/>
<line x1="454" y1="242.17" x2="458" y2="242.17" stroke="#5f82ad" stroke-width="0.8"/>
<line x1="473.3" y1="239.1" x2="473.3" y2="245.93" stroke="#e8766c" stroke-width="0.8"/>
<line x1="471.3" y1="239.1" x2="475.3" y2="239.1" stroke="#e8766c" stroke-width="0.8"/>
<line x1="471.3" y1="245.93" x2="475.3" y2="245.93" stroke="#e8766c" stroke-width="0.8"/>
<line x1="473.3" y1="218.08" x2="473.3" y2="224.92" stroke="#5f82ad" stroke-width="0.8"/>
<line x1="471.3" y1="218.08" x2="475.3" y2="218.08" stroke="#5f82ad" stroke-width="0.8"/>
<line x1="471.3" y1="224.92" x2="475.3" y2="224.92" stroke="#5f82ad" stroke-width="0.8"/>
<line x1="490.6" y1="243.02" x2="490.6" y2="246.44" stroke="#e8766c" stroke-width="0.8"/>
<line x1="488.6" y1="243.02" x2="492.6" y2="243.02" stroke="#e8766c" stroke-width="0.8"/>
<line x1="488.6" y1="246.44" x2="492.6" y2="246.44" stroke="#e8766c" stroke-width="0.8"/>
<line x1="490.6" y1="218.43" x2="490.6" y2="225.26" stroke="#5f82ad" stroke-width="0.8"/>
<line x1="488.6" y1="218.43" x2="492.6" y2="218.43" stroke="#5f82ad" stroke-width="0.8"/>
<line x1="488.6" y1="225.26" x2="492.6" y2="225.26" stroke="#5f82ad" stroke-width="0.8"/>
<line x1="507.9" y1="239.95" x2="507.9" y2="243.37" stroke="#e8766c" stroke-width="0.8"/>
<line x1="505.9" y1="239.95" x2="509.9" y2="239.95" stroke="#e8766c" stroke-width="0.8"/>
<line x1="505.9" y1="243.37" x2="509.9" y2="243.37" stroke="#e8766c" stroke-width="0.8"/>
<line x1="507.9" y1="200.66" x2="507.9" y2="204.08" stroke="#5f82ad" stroke-width="0.8"/>
<line x1="505.9" y1="200.66" x2="509.9" y2="200.66" stroke="#5f82ad" stroke-width="0.8"/>
<line x1="505.9" y1="204.08" x2="509.9" y2="204.08" stroke="#5f82ad" stroke-width="0.8"/>
<line x1="525.2" y1="227.65" x2="525.2" y2="231.07" stroke="#e8766c" stroke-width="0.8"/>
<line x1="523.2" y1="227.65" x2="527.2" y2="227.65" stroke="#e8766c" stroke-width="0.8"/>
<line x1="523.2" y1="231.07" x2="527.2" y2="231.07" stroke="#e8766c" stroke-width="0.8"/>
<line x1="525.2" y1="232.09" x2="525.2" y2="237.22" stroke="#5f82ad" stroke-width="0.8"/>
<line x1="523.2" y1="232.09" x2="527.2" y2="232.09" stroke="#5f82ad" stroke-width="0.8"/>
<line x1="523.2" y1="237.22" x2="527.2" y2="237.22" stroke="#5f82ad" stroke-width="0.8"/>
<line x1="404.1" y1="233.12" x2="525.2" y2="233.12" stroke="#9a9a9a" stroke-width="1.2"/>
<polygon points="404.1,230.92 401.9,234.72 406.3,234.72" fill="#b4b4b4"/>
<circle cx="404.1" cy="233.12" r="1.9" fill="#8e8e8e"/>
<polygon points="421.4,230.92 419.2,234.72 423.6,234.72" fill="#b4b4b4"/>
<circle cx="421.4" cy="233.12" r="1.9" fill="#8e8e8e"/>
<polygon points="438.7,230.92 436.5,234.72 440.9,234.72" fill="#b4b4b4"/>
<circle cx="438.7" cy="233.12" r="1.9" fill="#8e8e8e"/>
<polygon points="456,230.92 453.8,234.72 458.2,234.72" fill="#b4b4b4"/>
<circle cx="456" cy="233.12" r="1.9" fill="#8e8e8e"/>
<polygon points="473.3,230.92 471.1,234.72 475.5,234.72" fill="#b4b4b4"/>
<circle cx="473.3" cy="233.12" r="1.9" fill="#8e8e8e"/>
<polygon points="490.6,230.92 488.4,234.72 492.8,234.72" fill="#b4b4b4"/>
<circle cx="490.6" cy="233.12" r="1.9" fill="#8e8e8e"/>
<polygon points="507.9,230.92 505.7,234.72 510.1,234.72" fill="#b4b4b4"/>
<circle cx="507.9" cy="233.12" r="1.9" fill="#8e8e8e"/>
<polygon points="525.2,230.92 523,234.72 527.4,234.72" fill="#b4b4b4"/>
<circle cx="525.2" cy="233.12" r="1.9" fill="#8e8e8e"/>
<polyline points="404.1,227.48 421.4,236.19 438.7,225.77 456,222.01 473.3,242.51 490.6,244.73 507.9,241.66 525.2,229.36" fill="none" stroke="#de2b22" stroke-width="1.15" stroke-linejoin="round"/>
<polyline points="404.1,229.7 421.4,229.7 438.7,222.52 456,240.46 473.3,221.5 490.6,221.84 507.9,202.37 525.2,234.65" fill="none" stroke="#1b4d82" stroke-width="1.15" stroke-linejoin="round"/>
<rect x="402.2" y="225.58" width="3.8" height="3.8" fill="#de2b22"/>
<rect x="419.5" y="234.29" width="3.8" height="3.8" fill="#de2b22"/>
<rect x="436.8" y="223.87" width="3.8" height="3.8" fill="#de2b22"/>
<rect x="454.1" y="220.11" width="3.8" height="3.8" fill="#de2b22"/>
<rect x="471.4" y="240.61" width="3.8" height="3.8" fill="#de2b22"/>
<rect x="488.7" y="242.83" width="3.8" height="3.8" fill="#de2b22"/>
<rect x="506" y="239.76" width="3.8" height="3.8" fill="#de2b22"/>
<rect x="523.3" y="227.46" width="3.8" height="3.8" fill="#de2b22"/>
<polygon points="401.8,228 406.4,228 404.1,232" fill="#1b4d82"/>
<polygon points="419.1,228 423.7,228 421.4,232" fill="#1b4d82"/>
<polygon points="436.4,220.82 441,220.82 438.7,224.82" fill="#1b4d82"/>
<polygon points="453.7,238.76 458.3,238.76 456,242.76" fill="#1b4d82"/>
<polygon points="471,219.8 475.6,219.8 473.3,223.8" fill="#1b4d82"/>
<polygon points="488.3,220.14 492.9,220.14 490.6,224.14" fill="#1b4d82"/>
<polygon points="505.6,200.67 510.2,200.67 507.9,204.67" fill="#1b4d82"/>
<polygon points="522.9,232.95 527.5,232.95 525.2,236.95" fill="#1b4d82"/>
<rect x="455.05" y="182.1" width="1.9" height="1.8" fill="#d42a2a"/>
<rect x="472.35" y="182.1" width="1.9" height="1.8" fill="#d42a2a"/>
<rect x="489.65" y="182.1" width="1.9" height="1.8" fill="#d42a2a"/>
<rect x="506.95" y="182.1" width="1.9" height="1.8" fill="#d42a2a"/>
<rect x="455.05" y="189.4" width="1.9" height="1.8" fill="#2a62c0"/>
<rect x="471.15" y="189.45" width="1.8" height="1.7" fill="#2a62c0"/>
<rect x="473.65" y="189.45" width="1.8" height="1.7" fill="#2a62c0"/>
<rect x="488.45" y="189.45" width="1.8" height="1.7" fill="#2a62c0"/>
<rect x="490.95" y="189.45" width="1.8" height="1.7" fill="#2a62c0"/>
<rect x="505.75" y="189.45" width="1.8" height="1.7" fill="#2a62c0"/>
<rect x="508.25" y="189.45" width="1.8" height="1.7" fill="#2a62c0"/>
<rect x="386.5" y="147.5" width="156" height="103" fill="none" stroke="#5e5e5e" stroke-width="1"/>
<line x1="385" y1="250.2" x2="388.6" y2="250.2" stroke="#5e5e5e" stroke-width="0.8"/>
<text x="0" y="0" font-size="7" text-anchor="end" font-weight="normal" fill="#1c1c1c" stroke="#1c1c1c" stroke-width="0.32" transform="translate(386.4 252.58) scale(1.0000 1)">0</text>
<line x1="385" y1="216.03" x2="388.6" y2="216.03" stroke="#5e5e5e" stroke-width="0.8"/>
<text x="0" y="0" font-size="7" text-anchor="end" font-weight="normal" fill="#1c1c1c" stroke="#1c1c1c" stroke-width="0.32" transform="translate(386.4 218.41) scale(1.0000 1)">2</text>
<line x1="385" y1="181.87" x2="388.6" y2="181.87" stroke="#5e5e5e" stroke-width="0.8"/>
<text x="0" y="0" font-size="7" text-anchor="end" font-weight="normal" fill="#1c1c1c" stroke="#1c1c1c" stroke-width="0.32" transform="translate(386.4 184.25) scale(1.0000 1)">4</text>
<line x1="385" y1="147.7" x2="388.6" y2="147.7" stroke="#5e5e5e" stroke-width="0.8"/>
<text x="0" y="0" font-size="7" text-anchor="end" font-weight="normal" fill="#1c1c1c" stroke="#1c1c1c" stroke-width="0.32" transform="translate(386.4 150.08) scale(1.0000 1)">6</text>
<text x="0" y="0" font-size="8" text-anchor="middle" font-weight="normal" fill="#1c1c1c" stroke="#1c1c1c" stroke-width="0.32" transform="translate(378 199.4) rotate(-90) scale(0.8565 1)">Relative plasma miR-9-5p levels</text>
<text x="0" y="0" font-size="7.5" text-anchor="middle" font-weight="normal" fill="#1c1c1c" stroke="#1c1c1c" stroke-width="0.32" transform="translate(465.2 268.8) scale(0.9156 1)">Time (w)</text>
<line x1="40.74" y1="515" x2="40.74" y2="513.2" stroke="#5e5e5e" stroke-width="0.8"/>
<text x="0" y="0" font-size="7.3" text-anchor="middle" font-weight="normal" fill="#1c1c1c" stroke="#1c1c1c" stroke-width="0.32" transform="translate(40.74 523.3) scale(0.9000 1)">9</text>
<line x1="57.99" y1="515" x2="57.99" y2="513.2" stroke="#5e5e5e" stroke-width="0.8"/>
<text x="0" y="0" font-size="7.3" text-anchor="middle" font-weight="normal" fill="#1c1c1c" stroke="#1c1c1c" stroke-width="0.32" transform="translate(57.99 523.3) scale(0.9000 1)">11</text>
<line x1="75.23" y1="515" x2="75.23" y2="513.2" stroke="#5e5e5e" stroke-width="0.8"/>
<text x="0" y="0" font-size="7.3" text-anchor="middle" font-weight="normal" fill="#1c1c1c" stroke="#1c1c1c" stroke-width="0.32" transform="translate(75.23 523.3) scale(0.9000 1)">13</text>
<line x1="92.48" y1="515" x2="92.48" y2="513.2" stroke="#5e5e5e" stroke-width="0.8"/>
<text x="0" y="0" font-size="7.3" text-anchor="middle" font-weight="normal" fill="#1c1c1c" stroke="#1c1c1c" stroke-width="0.32" transform="translate(92.48 523.3) scale(0.9000 1)">15</text>
<line x1="109.72" y1="515" x2="109.72" y2="513.2" stroke="#5e5e5e" stroke-width="0.8"/>
<text x="0" y="0" font-size="7.3" text-anchor="middle" font-weight="normal" fill="#1c1c1c" stroke="#1c1c1c" stroke-width="0.32" transform="translate(109.72 523.3) scale(0.9000 1)">17</text>
<line x1="126.97" y1="515" x2="126.97" y2="513.2" stroke="#5e5e5e" stroke-width="0.8"/>
<text x="0" y="0" font-size="7.3" text-anchor="middle" font-weight="normal" fill="#1c1c1c" stroke="#1c1c1c" stroke-width="0.32" transform="translate(126.97 523.3) scale(0.9000 1)">19</text>
<line x1="144.21" y1="515" x2="144.21" y2="513.2" stroke="#5e5e5e" stroke-width="0.8"/>
<text x="0" y="0" font-size="7.3" text-anchor="middle" font-weight="normal" fill="#1c1c1c" stroke="#1c1c1c" stroke-width="0.32" transform="translate(144.21 523.3) scale(0.9000 1)">21</text>
<line x1="161.46" y1="515" x2="161.46" y2="513.2" stroke="#5e5e5e" stroke-width="0.8"/>
<text x="0" y="0" font-size="7.3" text-anchor="middle" font-weight="normal" fill="#1c1c1c" stroke="#1c1c1c" stroke-width="0.32" transform="translate(161.46 523.3) scale(0.9000 1)">23</text>
<text x="0" y="0" font-size="7.3" text-anchor="middle" font-weight="normal" fill="#1c1c1c" stroke="#1c1c1c" stroke-width="0.32" transform="translate(178.7 523.3) scale(0.9000 1)">25</text>
<line x1="30.9" y1="419.9" x2="42.8" y2="419.9" stroke="#8e8e8e" stroke-width="1.2"/>
<circle cx="36.85" cy="419.9" r="2.09" fill="#8e8e8e"/>
<line x1="30.9" y1="428.7" x2="42.8" y2="428.7" stroke="#c4c4c4" stroke-width="1.2"/>
<polygon points="36.85,426.39 34.54,430.38 39.16,430.38" fill="#a2a2a2"/>
<line x1="85.7" y1="419.9" x2="97.6" y2="419.9" stroke="#de2b22" stroke-width="1.3"/>
<rect x="89.84" y="418.09" width="3.61" height="3.61" fill="#de2b22"/>
<line x1="85.7" y1="428.7" x2="97.6" y2="428.7" stroke="#1b4d82" stroke-width="1.3"/>
<polygon points="89.47,427.08 93.84,427.08 91.65,430.88" fill="#1b4d82"/>
<text x="0" y="0" font-size="6.84" text-anchor="start" font-weight="normal" fill="#1c1c1c" stroke="#1c1c1c" stroke-width="0.32" transform="translate(48.9 421.9) scale(0.8858 1)">WT female</text>
<text x="0" y="0" font-size="6.84" text-anchor="start" font-weight="normal" fill="#1c1c1c" stroke="#1c1c1c" stroke-width="0.32" transform="translate(48.9 431.2) scale(0.8858 1)">WT male</text>
<text x="0" y="0" font-size="6.84" text-anchor="start" font-weight="normal" fill="#1c1c1c" stroke="#1c1c1c" stroke-width="0.32" transform="translate(103.5 421.9) scale(0.8999 1)">APP/PS1 female</text>
<text x="0" y="0" font-size="6.84" text-anchor="start" font-weight="normal" fill="#1c1c1c" stroke="#1c1c1c" stroke-width="0.32" transform="translate(103.5 431.2) scale(0.8999 1)">APP/PS1 male</text>
<line x1="40.74" y1="491.08" x2="40.74" y2="504.75" stroke="#a0a0a0" stroke-width="0.8"/>
<line x1="38.74" y1="491.08" x2="42.74" y2="491.08" stroke="#a0a0a0" stroke-width="0.8"/>
<line x1="38.74" y1="504.75" x2="42.74" y2="504.75" stroke="#a0a0a0" stroke-width="0.8"/>
<line x1="57.99" y1="491.08" x2="57.99" y2="504.75" stroke="#a0a0a0" stroke-width="0.8"/>
<line x1="55.99" y1="491.08" x2="59.99" y2="491.08" stroke="#a0a0a0" stroke-width="0.8"/>
<line x1="55.99" y1="504.75" x2="59.99" y2="504.75" stroke="#a0a0a0" stroke-width="0.8"/>
<line x1="75.23" y1="485.45" x2="75.23" y2="510.39" stroke="#a0a0a0" stroke-width="0.8"/>
<line x1="73.23" y1="485.45" x2="77.23" y2="485.45" stroke="#a0a0a0" stroke-width="0.8"/>
<line x1="73.23" y1="510.39" x2="77.23" y2="510.39" stroke="#a0a0a0" stroke-width="0.8"/>
<line x1="92.48" y1="492.79" x2="92.48" y2="503.04" stroke="#a0a0a0" stroke-width="0.8"/>
<line x1="90.48" y1="492.79" x2="94.48" y2="492.79" stroke="#a0a0a0" stroke-width="0.8"/>
<line x1="90.48" y1="503.04" x2="94.48" y2="503.04" stroke="#a0a0a0" stroke-width="0.8"/>
<line x1="109.72" y1="495.35" x2="109.72" y2="500.48" stroke="#a0a0a0" stroke-width="0.8"/>
<line x1="107.72" y1="495.35" x2="111.72" y2="495.35" stroke="#a0a0a0" stroke-width="0.8"/>
<line x1="107.72" y1="500.48" x2="111.72" y2="500.48" stroke="#a0a0a0" stroke-width="0.8"/>
<line x1="126.97" y1="496.21" x2="126.97" y2="499.62" stroke="#a0a0a0" stroke-width="0.8"/>
<line x1="124.97" y1="496.21" x2="128.97" y2="496.21" stroke="#a0a0a0" stroke-width="0.8"/>
<line x1="124.97" y1="499.62" x2="128.97" y2="499.62" stroke="#a0a0a0" stroke-width="0.8"/>
<line x1="144.21" y1="496.21" x2="144.21" y2="499.62" stroke="#a0a0a0" stroke-width="0.8"/>
<line x1="142.21" y1="496.21" x2="146.21" y2="496.21" stroke="#a0a0a0" stroke-width="0.8"/>
<line x1="142.21" y1="499.62" x2="146.21" y2="499.62" stroke="#a0a0a0" stroke-width="0.8"/>
<line x1="161.46" y1="489.38" x2="161.46" y2="506.46" stroke="#a0a0a0" stroke-width="0.8"/>
<line x1="159.46" y1="489.38" x2="163.46" y2="489.38" stroke="#a0a0a0" stroke-width="0.8"/>
<line x1="159.46" y1="506.46" x2="163.46" y2="506.46" stroke="#a0a0a0" stroke-width="0.8"/>
<line x1="40.74" y1="481.35" x2="40.74" y2="500.82" stroke="#e8766c" stroke-width="0.8"/>
<line x1="38.74" y1="481.35" x2="42.74" y2="481.35" stroke="#e8766c" stroke-width="0.8"/>
<line x1="38.74" y1="500.82" x2="42.74" y2="500.82" stroke="#e8766c" stroke-width="0.8"/>
<line x1="40.74" y1="505.43" x2="40.74" y2="513.98" stroke="#5f82ad" stroke-width="0.8"/>
<line x1="38.74" y1="505.43" x2="42.74" y2="505.43" stroke="#5f82ad" stroke-width="0.8"/>
<line x1="38.74" y1="513.98" x2="42.74" y2="513.98" stroke="#5f82ad" stroke-width="0.8"/>
<line x1="57.99" y1="491.43" x2="57.99" y2="498.26" stroke="#e8766c" stroke-width="0.8"/>
<line x1="55.99" y1="491.43" x2="59.99" y2="491.43" stroke="#e8766c" stroke-width="0.8"/>
<line x1="55.99" y1="498.26" x2="59.99" y2="498.26" stroke="#e8766c" stroke-width="0.8"/>
<line x1="57.99" y1="478.44" x2="57.99" y2="505.78" stroke="#5f82ad" stroke-width="0.8"/>
<line x1="55.99" y1="478.44" x2="59.99" y2="478.44" stroke="#5f82ad" stroke-width="0.8"/>
<line x1="55.99" y1="505.78" x2="59.99" y2="505.78" stroke="#5f82ad" stroke-width="0.8"/>
<line x1="75.23" y1="499.97" x2="75.23" y2="505.09" stroke="#e8766c" stroke-width="0.8"/>
<line x1="73.23" y1="499.97" x2="77.23" y2="499.97" stroke="#e8766c" stroke-width="0.8"/>
<line x1="73.23" y1="505.09" x2="77.23" y2="505.09" stroke="#e8766c" stroke-width="0.8"/>
<line x1="75.23" y1="508.17" x2="75.23" y2="513.29" stroke="#5f82ad" stroke-width="0.8"/>
<line x1="73.23" y1="508.17" x2="77.23" y2="508.17" stroke="#5f82ad" stroke-width="0.8"/>
<line x1="73.23" y1="513.29" x2="77.23" y2="513.29" stroke="#5f82ad" stroke-width="0.8"/>
<line x1="92.48" y1="488.18" x2="92.48" y2="495.01" stroke="#e8766c" stroke-width="0.8"/>
<line x1="90.48" y1="488.18" x2="94.48" y2="488.18" stroke="#e8766c" stroke-width="0.8"/>
<line x1="90.48" y1="495.01" x2="94.48" y2="495.01" stroke="#e8766c" stroke-width="0.8"/>
<line x1="92.48" y1="484.59" x2="92.48" y2="505.09" stroke="#5f82ad" stroke-width="0.8"/>
<line x1="90.48" y1="484.59" x2="94.48" y2="484.59" stroke="#5f82ad" stroke-width="0.8"/>
<line x1="90.48" y1="505.09" x2="94.48" y2="505.09" stroke="#5f82ad" stroke-width="0.8"/>
<line x1="109.72" y1="486.47" x2="109.72" y2="496.04" stroke="#e8766c" stroke-width="0.8"/>
<line x1="107.72" y1="486.47" x2="111.72" y2="486.47" stroke="#e8766c" stroke-width="0.8"/>
<line x1="107.72" y1="496.04" x2="111.72" y2="496.04" stroke="#e8766c" stroke-width="0.8"/>
<line x1="109.72" y1="505.43" x2="109.72" y2="511.24" stroke="#5f82ad" stroke-width="0.8"/>
<line x1="107.72" y1="505.43" x2="111.72" y2="505.43" stroke="#5f82ad" stroke-width="0.8"/>
<line x1="107.72" y1="511.24" x2="111.72" y2="511.24" stroke="#5f82ad" stroke-width="0.8"/>
<line x1="126.97" y1="495.35" x2="126.97" y2="498.77" stroke="#e8766c" stroke-width="0.8"/>
<line x1="124.97" y1="495.35" x2="128.97" y2="495.35" stroke="#e8766c" stroke-width="0.8"/>
<line x1="124.97" y1="498.77" x2="128.97" y2="498.77" stroke="#e8766c" stroke-width="0.8"/>
<line x1="126.97" y1="507.83" x2="126.97" y2="511.24" stroke="#5f82ad" stroke-width="0.8"/>
<line x1="124.97" y1="507.83" x2="128.97" y2="507.83" stroke="#5f82ad" stroke-width="0.8"/>
<line x1="124.97" y1="511.24" x2="128.97" y2="511.24" stroke="#5f82ad" stroke-width="0.8"/>
<line x1="144.21" y1="505.09" x2="144.21" y2="508.51" stroke="#e8766c" stroke-width="0.8"/>
<line x1="142.21" y1="505.09" x2="146.21" y2="505.09" stroke="#e8766c" stroke-width="0.8"/>
<line x1="142.21" y1="508.51" x2="146.21" y2="508.51" stroke="#e8766c" stroke-width="0.8"/>
<line x1="144.21" y1="510.05" x2="144.21" y2="513.46" stroke="#5f82ad" stroke-width="0.8"/>
<line x1="142.21" y1="510.05" x2="146.21" y2="510.05" stroke="#5f82ad" stroke-width="0.8"/>
<line x1="142.21" y1="513.46" x2="146.21" y2="513.46" stroke="#5f82ad" stroke-width="0.8"/>
<line x1="161.46" y1="505.09" x2="161.46" y2="508.51" stroke="#e8766c" stroke-width="0.8"/>
<line x1="159.46" y1="505.09" x2="163.46" y2="505.09" stroke="#e8766c" stroke-width="0.8"/>
<line x1="159.46" y1="508.51" x2="163.46" y2="508.51" stroke="#e8766c" stroke-width="0.8"/>
<line x1="161.46" y1="464.26" x2="161.46" y2="471.1" stroke="#5f82ad" stroke-width="0.8"/>
<line x1="159.46" y1="464.26" x2="163.46" y2="464.26" stroke="#5f82ad" stroke-width="0.8"/>
<line x1="159.46" y1="471.1" x2="163.46" y2="471.1" stroke="#5f82ad" stroke-width="0.8"/>
<line x1="40.74" y1="497.92" x2="161.46" y2="497.92" stroke="#9a9a9a" stroke-width="1.2"/>
<polygon points="40.74,495.72 38.54,499.52 42.94,499.52" fill="#b4b4b4"/>
<circle cx="40.74" cy="497.92" r="1.9" fill="#8e8e8e"/>
<polygon points="57.99,495.72 55.79,499.52 60.19,499.52" fill="#b4b4b4"/>
<circle cx="57.99" cy="497.92" r="1.9" fill="#8e8e8e"/>
<polygon points="75.23,495.72 73.03,499.52 77.43,499.52" fill="#b4b4b4"/>
<circle cx="75.23" cy="497.92" r="1.9" fill="#8e8e8e"/>
<polygon points="92.48,495.72 90.28,499.52 94.68,499.52" fill="#b4b4b4"/>
<circle cx="92.48" cy="497.92" r="1.9" fill="#8e8e8e"/>
<polygon points="109.72,495.72 107.52,499.52 111.92,499.52" fill="#b4b4b4"/>
<circle cx="109.72" cy="497.92" r="1.9" fill="#8e8e8e"/>
<polygon points="126.97,495.72 124.77,499.52 129.17,499.52" fill="#b4b4b4"/>
<circle cx="126.97" cy="497.92" r="1.9" fill="#8e8e8e"/>
<polygon points="144.21,495.72 142.01,499.52 146.41,499.52" fill="#b4b4b4"/>
<circle cx="144.21" cy="497.92" r="1.9" fill="#8e8e8e"/>
<polygon points="161.46,495.72 159.26,499.52 163.66,499.52" fill="#b4b4b4"/>
<circle cx="161.46" cy="497.92" r="1.9" fill="#8e8e8e"/>
<polyline points="40.74,491.08 57.99,494.84 75.23,502.53 92.48,491.6 109.72,491.25 126.97,497.06 144.21,506.8 161.46,506.8" fill="none" stroke="#de2b22" stroke-width="1.15" stroke-linejoin="round"/>
<polyline points="40.74,509.7 57.99,492.11 75.23,510.73 92.48,494.84 109.72,508.34 126.97,509.53 144.21,511.75 161.46,467.68" fill="none" stroke="#1b4d82" stroke-width="1.15" stroke-linejoin="round"/>
<rect x="38.84" y="489.18" width="3.8" height="3.8" fill="#de2b22"/>
<rect x="56.09" y="492.94" width="3.8" height="3.8" fill="#de2b22"/>
<rect x="73.33" y="500.63" width="3.8" height="3.8" fill="#de2b22"/>
<rect x="90.58" y="489.7" width="3.8" height="3.8" fill="#de2b22"/>
<rect x="107.82" y="489.35" width="3.8" height="3.8" fill="#de2b22"/>
<rect x="125.07" y="495.16" width="3.8" height="3.8" fill="#de2b22"/>
<rect x="142.31" y="504.9" width="3.8" height="3.8" fill="#de2b22"/>
<rect x="159.56" y="504.9" width="3.8" height="3.8" fill="#de2b22"/>
<polygon points="38.44,508 43.04,508 40.74,512" fill="#1b4d82"/>
<polygon points="55.69,490.41 60.29,490.41 57.99,494.41" fill="#1b4d82"/>
<polygon points="72.93,509.03 77.53,509.03 75.23,513.03" fill="#1b4d82"/>
<polygon points="90.18,493.14 94.78,493.14 92.48,497.14" fill="#1b4d82"/>
<polygon points="107.42,506.64 112.02,506.64 109.72,510.64" fill="#1b4d82"/>
<polygon points="124.67,507.83 129.27,507.83 126.97,511.83" fill="#1b4d82"/>
<polygon points="141.91,510.05 146.51,510.05 144.21,514.05" fill="#1b4d82"/>
<polygon points="159.16,465.98 163.76,465.98 161.46,469.98" fill="#1b4d82"/>
<rect x="143.26" y="446" width="1.9" height="1.8" fill="#d42a2a"/>
<rect x="160.51" y="446" width="1.9" height="1.8" fill="#d42a2a"/>
<rect x="143.26" y="453.7" width="1.9" height="1.8" fill="#2a62c0"/>
<rect x="159.31" y="453.75" width="1.8" height="1.7" fill="#2a62c0"/>
<rect x="161.81" y="453.75" width="1.8" height="1.7" fill="#2a62c0"/>
<rect x="23.5" y="412.5" width="155" height="103" fill="none" stroke="#5e5e5e" stroke-width="1"/>
<line x1="21.7" y1="515" x2="25.3" y2="515" stroke="#5e5e5e" stroke-width="0.8"/>
<text x="0" y="0" font-size="7" text-anchor="end" font-weight="normal" fill="#1c1c1c" stroke="#1c1c1c" stroke-width="0.32" transform="translate(23.1 517.38) scale(1.0000 1)">0</text>
<line x1="21.7" y1="480.83" x2="25.3" y2="480.83" stroke="#5e5e5e" stroke-width="0.8"/>
<text x="0" y="0" font-size="7" text-anchor="end" font-weight="normal" fill="#1c1c1c" stroke="#1c1c1c" stroke-width="0.32" transform="translate(23.1 483.21) scale(1.0000 1)">2</text>
<line x1="21.7" y1="446.67" x2="25.3" y2="446.67" stroke="#5e5e5e" stroke-width="0.8"/>
<text x="0" y="0" font-size="7" text-anchor="end" font-weight="normal" fill="#1c1c1c" stroke="#1c1c1c" stroke-width="0.32" transform="translate(23.1 449.05) scale(1.0000 1)">4</text>
<line x1="21.7" y1="412.5" x2="25.3" y2="412.5" stroke="#5e5e5e" stroke-width="0.8"/>
<text x="0" y="0" font-size="7" text-anchor="end" font-weight="normal" fill="#1c1c1c" stroke="#1c1c1c" stroke-width="0.32" transform="translate(23.1 414.88) scale(1.0000 1)">6</text>
<text x="0" y="0" font-size="8" text-anchor="middle" font-weight="normal" fill="#1c1c1c" stroke="#1c1c1c" stroke-width="0.32" transform="translate(15.1 463.9) rotate(-90) scale(0.8648 1)">Relative plasma miR-132-3p levels</text>
<text x="0" y="0" font-size="7.5" text-anchor="middle" font-weight="normal" fill="#1c1c1c" stroke="#1c1c1c" stroke-width="0.32" transform="translate(101.5 534.8) scale(0.9156 1)">Time (w)</text>
<line x1="222.76" y1="515.5" x2="222.76" y2="513.7" stroke="#5e5e5e" stroke-width="0.8"/>
<text x="0" y="0" font-size="7.3" text-anchor="middle" font-weight="normal" fill="#1c1c1c" stroke="#1c1c1c" stroke-width="0.32" transform="translate(222.76 523.3) scale(0.9000 1)">9</text>
<line x1="240.01" y1="515.5" x2="240.01" y2="513.7" stroke="#5e5e5e" stroke-width="0.8"/>
<text x="0" y="0" font-size="7.3" text-anchor="middle" font-weight="normal" fill="#1c1c1c" stroke="#1c1c1c" stroke-width="0.32" transform="translate(240.01 523.3) scale(0.9000 1)">11</text>
<line x1="257.27" y1="515.5" x2="257.27" y2="513.7" stroke="#5e5e5e" stroke-width="0.8"/>
<text x="0" y="0" font-size="7.3" text-anchor="middle" font-weight="normal" fill="#1c1c1c" stroke="#1c1c1c" stroke-width="0.32" transform="translate(257.27 523.3) scale(0.9000 1)">13</text>
<line x1="274.52" y1="515.5" x2="274.52" y2="513.7" stroke="#5e5e5e" stroke-width="0.8"/>
<text x="0" y="0" font-size="7.3" text-anchor="middle" font-weight="normal" fill="#1c1c1c" stroke="#1c1c1c" stroke-width="0.32" transform="translate(274.52 523.3) scale(0.9000 1)">15</text>
<line x1="291.78" y1="515.5" x2="291.78" y2="513.7" stroke="#5e5e5e" stroke-width="0.8"/>
<text x="0" y="0" font-size="7.3" text-anchor="middle" font-weight="normal" fill="#1c1c1c" stroke="#1c1c1c" stroke-width="0.32" transform="translate(291.78 523.3) scale(0.9000 1)">17</text>
<line x1="309.03" y1="515.5" x2="309.03" y2="513.7" stroke="#5e5e5e" stroke-width="0.8"/>
<text x="0" y="0" font-size="7.3" text-anchor="middle" font-weight="normal" fill="#1c1c1c" stroke="#1c1c1c" stroke-width="0.32" transform="translate(309.03 523.3) scale(0.9000 1)">19</text>
<line x1="326.29" y1="515.5" x2="326.29" y2="513.7" stroke="#5e5e5e" stroke-width="0.8"/>
<text x="0" y="0" font-size="7.3" text-anchor="middle" font-weight="normal" fill="#1c1c1c" stroke="#1c1c1c" stroke-width="0.32" transform="translate(326.29 523.3) scale(0.9000 1)">21</text>
<line x1="343.54" y1="515.5" x2="343.54" y2="513.7" stroke="#5e5e5e" stroke-width="0.8"/>
<text x="0" y="0" font-size="7.3" text-anchor="middle" font-weight="normal" fill="#1c1c1c" stroke="#1c1c1c" stroke-width="0.32" transform="translate(343.54 523.3) scale(0.9000 1)">23</text>
<text x="0" y="0" font-size="7.3" text-anchor="middle" font-weight="normal" fill="#1c1c1c" stroke="#1c1c1c" stroke-width="0.32" transform="translate(360.8 523.3) scale(0.9000 1)">25</text>
<line x1="212.9" y1="419.9" x2="225.2" y2="419.9" stroke="#8e8e8e" stroke-width="1.2"/>
<circle cx="219.05" cy="419.9" r="2.09" fill="#8e8e8e"/>
<line x1="212.9" y1="429.4" x2="225.2" y2="429.4" stroke="#c4c4c4" stroke-width="1.2"/>
<polygon points="219.05,427.09 216.74,431.08 221.36,431.08" fill="#a2a2a2"/>
<line x1="266.6" y1="419.9" x2="278.9" y2="419.9" stroke="#de2b22" stroke-width="1.3"/>
<rect x="270.94" y="418.09" width="3.61" height="3.61" fill="#de2b22"/>
<line x1="266.6" y1="429.4" x2="278.9" y2="429.4" stroke="#1b4d82" stroke-width="1.3"/>
<polygon points="270.56,427.78 274.94,427.78 272.75,431.58" fill="#1b4d82"/>
<text x="0" y="0" font-size="6.85" text-anchor="start" font-weight="normal" fill="#1c1c1c" stroke="#1c1c1c" stroke-width="0.32" transform="translate(230.9 421.9) scale(0.8940 1)">WT female</text>
<text x="0" y="0" font-size="6.85" text-anchor="start" font-weight="normal" fill="#1c1c1c" stroke="#1c1c1c" stroke-width="0.32" transform="translate(230.9 431.7) scale(0.8940 1)">WT male</text>
<text x="0" y="0" font-size="6.85" text-anchor="start" font-weight="normal" fill="#1c1c1c" stroke="#1c1c1c" stroke-width="0.32" transform="translate(284.8 421.9) scale(0.8918 1)">APP/PS1 female</text>
<text x="0" y="0" font-size="6.85" text-anchor="start" font-weight="normal" fill="#1c1c1c" stroke="#1c1c1c" stroke-width="0.32" transform="translate(284.8 431.7) scale(0.8918 1)">APP/PS1 male</text>
<line x1="222.76" y1="483.74" x2="222.76" y2="512.92" stroke="#a0a0a0" stroke-width="0.8"/>
<line x1="220.76" y1="483.74" x2="224.76" y2="483.74" stroke="#a0a0a0" stroke-width="0.8"/>
<line x1="220.76" y1="512.92" x2="224.76" y2="512.92" stroke="#a0a0a0" stroke-width="0.8"/>
<line x1="240.01" y1="492.67" x2="240.01" y2="504" stroke="#a0a0a0" stroke-width="0.8"/>
<line x1="238.01" y1="492.67" x2="242.01" y2="492.67" stroke="#a0a0a0" stroke-width="0.8"/>
<line x1="238.01" y1="504" x2="242.01" y2="504" stroke="#a0a0a0" stroke-width="0.8"/>
<line x1="257.27" y1="492.32" x2="257.27" y2="504.34" stroke="#a0a0a0" stroke-width="0.8"/>
<line x1="255.27" y1="492.32" x2="259.27" y2="492.32" stroke="#a0a0a0" stroke-width="0.8"/>
<line x1="255.27" y1="504.34" x2="259.27" y2="504.34" stroke="#a0a0a0" stroke-width="0.8"/>
<line x1="274.52" y1="492.32" x2="274.52" y2="504.34" stroke="#a0a0a0" stroke-width="0.8"/>
<line x1="272.52" y1="492.32" x2="276.52" y2="492.32" stroke="#a0a0a0" stroke-width="0.8"/>
<line x1="272.52" y1="504.34" x2="276.52" y2="504.34" stroke="#a0a0a0" stroke-width="0.8"/>
<line x1="291.78" y1="488.03" x2="291.78" y2="508.63" stroke="#a0a0a0" stroke-width="0.8"/>
<line x1="289.78" y1="488.03" x2="293.78" y2="488.03" stroke="#a0a0a0" stroke-width="0.8"/>
<line x1="289.78" y1="508.63" x2="293.78" y2="508.63" stroke="#a0a0a0" stroke-width="0.8"/>
<line x1="309.03" y1="485.8" x2="309.03" y2="510.87" stroke="#a0a0a0" stroke-width="0.8"/>
<line x1="307.03" y1="485.8" x2="311.03" y2="485.8" stroke="#a0a0a0" stroke-width="0.8"/>
<line x1="307.03" y1="510.87" x2="311.03" y2="510.87" stroke="#a0a0a0" stroke-width="0.8"/>
<line x1="326.29" y1="490.26" x2="326.29" y2="506.4" stroke="#a0a0a0" stroke-width="0.8"/>
<line x1="324.29" y1="490.26" x2="328.29" y2="490.26" stroke="#a0a0a0" stroke-width="0.8"/>
<line x1="324.29" y1="506.4" x2="328.29" y2="506.4" stroke="#a0a0a0" stroke-width="0.8"/>
<line x1="343.54" y1="493.18" x2="343.54" y2="503.48" stroke="#a0a0a0" stroke-width="0.8"/>
<line x1="341.54" y1="493.18" x2="345.54" y2="493.18" stroke="#a0a0a0" stroke-width="0.8"/>
<line x1="341.54" y1="503.48" x2="345.54" y2="503.48" stroke="#a0a0a0" stroke-width="0.8"/>
<line x1="222.76" y1="493.7" x2="222.76" y2="498.85" stroke="#e8766c" stroke-width="0.8"/>
<line x1="220.76" y1="493.7" x2="224.76" y2="493.7" stroke="#e8766c" stroke-width="0.8"/>
<line x1="220.76" y1="498.85" x2="224.76" y2="498.85" stroke="#e8766c" stroke-width="0.8"/>
<line x1="222.76" y1="471.38" x2="222.76" y2="493.7" stroke="#5f82ad" stroke-width="0.8"/>
<line x1="220.76" y1="471.38" x2="224.76" y2="471.38" stroke="#5f82ad" stroke-width="0.8"/>
<line x1="220.76" y1="493.7" x2="224.76" y2="493.7" stroke="#5f82ad" stroke-width="0.8"/>
<line x1="240.01" y1="488.03" x2="240.01" y2="501.77" stroke="#e8766c" stroke-width="0.8"/>
<line x1="238.01" y1="488.03" x2="242.01" y2="488.03" stroke="#e8766c" stroke-width="0.8"/>
<line x1="238.01" y1="501.77" x2="242.01" y2="501.77" stroke="#e8766c" stroke-width="0.8"/>
<line x1="240.01" y1="482.37" x2="240.01" y2="499.53" stroke="#5f82ad" stroke-width="0.8"/>
<line x1="238.01" y1="482.37" x2="242.01" y2="482.37" stroke="#5f82ad" stroke-width="0.8"/>
<line x1="238.01" y1="499.53" x2="242.01" y2="499.53" stroke="#5f82ad" stroke-width="0.8"/>
<line x1="257.27" y1="497.82" x2="257.27" y2="509.15" stroke="#e8766c" stroke-width="0.8"/>
<line x1="255.27" y1="497.82" x2="259.27" y2="497.82" stroke="#e8766c" stroke-width="0.8"/>
<line x1="255.27" y1="509.15" x2="259.27" y2="509.15" stroke="#e8766c" stroke-width="0.8"/>
<line x1="257.27" y1="500.22" x2="257.27" y2="505.37" stroke="#5f82ad" stroke-width="0.8"/>
<line x1="255.27" y1="500.22" x2="259.27" y2="500.22" stroke="#5f82ad" stroke-width="0.8"/>
<line x1="255.27" y1="505.37" x2="259.27" y2="505.37" stroke="#5f82ad" stroke-width="0.8"/>
<line x1="274.52" y1="486.32" x2="274.52" y2="500.39" stroke="#e8766c" stroke-width="0.8"/>
<line x1="272.52" y1="486.32" x2="276.52" y2="486.32" stroke="#e8766c" stroke-width="0.8"/>
<line x1="272.52" y1="500.39" x2="276.52" y2="500.39" stroke="#e8766c" stroke-width="0.8"/>
<line x1="274.52" y1="499.02" x2="274.52" y2="509.32" stroke="#5f82ad" stroke-width="0.8"/>
<line x1="272.52" y1="499.02" x2="276.52" y2="499.02" stroke="#5f82ad" stroke-width="0.8"/>
<line x1="272.52" y1="509.32" x2="276.52" y2="509.32" stroke="#5f82ad" stroke-width="0.8"/>
<line x1="291.78" y1="470.87" x2="291.78" y2="490.09" stroke="#e8766c" stroke-width="0.8"/>
<line x1="289.78" y1="470.87" x2="293.78" y2="470.87" stroke="#e8766c" stroke-width="0.8"/>
<line x1="289.78" y1="490.09" x2="293.78" y2="490.09" stroke="#e8766c" stroke-width="0.8"/>
<line x1="291.78" y1="468.29" x2="291.78" y2="485.46" stroke="#5f82ad" stroke-width="0.8"/>
<line x1="289.78" y1="468.29" x2="293.78" y2="468.29" stroke="#5f82ad" stroke-width="0.8"/>
<line x1="289.78" y1="485.46" x2="293.78" y2="485.46" stroke="#5f82ad" stroke-width="0.8"/>
<line x1="309.03" y1="506.23" x2="309.03" y2="511.38" stroke="#e8766c" stroke-width="0.8"/>
<line x1="307.03" y1="506.23" x2="311.03" y2="506.23" stroke="#e8766c" stroke-width="0.8"/>
<line x1="307.03" y1="511.38" x2="311.03" y2="511.38" stroke="#e8766c" stroke-width="0.8"/>
<line x1="309.03" y1="466.23" x2="309.03" y2="481.68" stroke="#5f82ad" stroke-width="0.8"/>
<line x1="307.03" y1="466.23" x2="311.03" y2="466.23" stroke="#5f82ad" stroke-width="0.8"/>
<line x1="307.03" y1="481.68" x2="311.03" y2="481.68" stroke="#5f82ad" stroke-width="0.8"/>
<line x1="326.29" y1="511.21" x2="326.29" y2="514.64" stroke="#e8766c" stroke-width="0.8"/>
<line x1="324.29" y1="511.21" x2="328.29" y2="511.21" stroke="#e8766c" stroke-width="0.8"/>
<line x1="324.29" y1="514.64" x2="328.29" y2="514.64" stroke="#e8766c" stroke-width="0.8"/>
<line x1="326.29" y1="465.37" x2="326.29" y2="479.11" stroke="#5f82ad" stroke-width="0.8"/>
<line x1="324.29" y1="465.37" x2="328.29" y2="465.37" stroke="#5f82ad" stroke-width="0.8"/>
<line x1="324.29" y1="479.11" x2="328.29" y2="479.11" stroke="#5f82ad" stroke-width="0.8"/>
<line x1="343.54" y1="511.21" x2="343.54" y2="514.64" stroke="#e8766c" stroke-width="0.8"/>
<line x1="341.54" y1="511.21" x2="345.54" y2="511.21" stroke="#e8766c" stroke-width="0.8"/>
<line x1="341.54" y1="514.64" x2="345.54" y2="514.64" stroke="#e8766c" stroke-width="0.8"/>
<line x1="343.54" y1="503.31" x2="343.54" y2="506.74" stroke="#5f82ad" stroke-width="0.8"/>
<line x1="341.54" y1="503.31" x2="345.54" y2="503.31" stroke="#5f82ad" stroke-width="0.8"/>
<line x1="341.54" y1="506.74" x2="345.54" y2="506.74" stroke="#5f82ad" stroke-width="0.8"/>
<line x1="222.76" y1="498.33" x2="343.54" y2="498.33" stroke="#9a9a9a" stroke-width="1.2"/>
<polygon points="222.76,496.13 220.56,499.93 224.96,499.93" fill="#b4b4b4"/>
<circle cx="222.76" cy="498.33" r="1.9" fill="#8e8e8e"/>
<polygon points="240.01,496.13 237.81,499.93 242.21,499.93" fill="#b4b4b4"/>
<circle cx="240.01" cy="498.33" r="1.9" fill="#8e8e8e"/>
<polygon points="257.27,496.13 255.07,499.93 259.47,499.93" fill="#b4b4b4"/>
<circle cx="257.27" cy="498.33" r="1.9" fill="#8e8e8e"/>
<polygon points="274.52,496.13 272.32,499.93 276.72,499.93" fill="#b4b4b4"/>
<circle cx="274.52" cy="498.33" r="1.9" fill="#8e8e8e"/>
<polygon points="291.78,496.13 289.58,499.93 293.98,499.93" fill="#b4b4b4"/>
<circle cx="291.78" cy="498.33" r="1.9" fill="#8e8e8e"/>
<polygon points="309.03,496.13 306.83,499.93 311.23,499.93" fill="#b4b4b4"/>
<circle cx="309.03" cy="498.33" r="1.9" fill="#8e8e8e"/>
<polygon points="326.29,496.13 324.09,499.93 328.49,499.93" fill="#b4b4b4"/>
<circle cx="326.29" cy="498.33" r="1.9" fill="#8e8e8e"/>
<polygon points="343.54,496.13 341.34,499.93 345.74,499.93" fill="#b4b4b4"/>
<circle cx="343.54" cy="498.33" r="1.9" fill="#8e8e8e"/>
<polyline points="222.76,496.27 240.01,494.9 257.27,503.48 274.52,493.36 291.78,480.48 309.03,508.81 326.29,512.92 343.54,512.92" fill="none" stroke="#de2b22" stroke-width="1.15" stroke-linejoin="round"/>
<polyline points="222.76,482.54 240.01,490.95 257.27,502.8 274.52,504.17 291.78,476.88 309.03,473.96 326.29,472.24 343.54,505.03" fill="none" stroke="#1b4d82" stroke-width="1.15" stroke-linejoin="round"/>
<rect x="220.86" y="494.37" width="3.8" height="3.8" fill="#de2b22"/>
<rect x="238.11" y="493" width="3.8" height="3.8" fill="#de2b22"/>
<rect x="255.37" y="501.58" width="3.8" height="3.8" fill="#de2b22"/>
<rect x="272.62" y="491.46" width="3.8" height="3.8" fill="#de2b22"/>
<rect x="289.88" y="478.58" width="3.8" height="3.8" fill="#de2b22"/>
<rect x="307.13" y="506.91" width="3.8" height="3.8" fill="#de2b22"/>
<rect x="324.39" y="511.02" width="3.8" height="3.8" fill="#de2b22"/>
<rect x="341.64" y="511.02" width="3.8" height="3.8" fill="#de2b22"/>
<polygon points="220.46,480.84 225.06,480.84 222.76,484.84" fill="#1b4d82"/>
<polygon points="237.71,489.25 242.31,489.25 240.01,493.25" fill="#1b4d82"/>
<polygon points="254.97,501.1 259.57,501.1 257.27,505.1" fill="#1b4d82"/>
<polygon points="272.22,502.47 276.82,502.47 274.52,506.47" fill="#1b4d82"/>
<polygon points="289.48,475.18 294.08,475.18 291.78,479.18" fill="#1b4d82"/>
<polygon points="306.73,472.26 311.33,472.26 309.03,476.26" fill="#1b4d82"/>
<polygon points="323.99,470.54 328.59,470.54 326.29,474.54" fill="#1b4d82"/>
<polygon points="341.24,503.33 345.84,503.33 343.54,507.33" fill="#1b4d82"/>
<rect x="289.63" y="449.35" width="1.8" height="1.7" fill="#d42a2a"/>
<rect x="292.13" y="449.35" width="1.8" height="1.7" fill="#d42a2a"/>
<rect x="325.34" y="449.3" width="1.9" height="1.8" fill="#d42a2a"/>
<rect x="342.59" y="449.3" width="1.9" height="1.8" fill="#d42a2a"/>
<rect x="290.83" y="458" width="1.9" height="1.8" fill="#2a62c0"/>
<rect x="306.88" y="458.05" width="1.8" height="1.7" fill="#2a62c0"/>
<rect x="309.38" y="458.05" width="1.8" height="1.7" fill="#2a62c0"/>
<rect x="324.14" y="458.05" width="1.8" height="1.7" fill="#2a62c0"/>
<rect x="326.64" y="458.05" width="1.8" height="1.7" fill="#2a62c0"/>
<rect x="205.5" y="412.5" width="155" height="103" fill="none" stroke="#5e5e5e" stroke-width="1"/>
<line x1="203.7" y1="515.5" x2="207.3" y2="515.5" stroke="#5e5e5e" stroke-width="0.8"/>
<text x="0" y="0" font-size="7" text-anchor="end" font-weight="normal" fill="#1c1c1c" stroke="#1c1c1c" stroke-width="0.32" transform="translate(205.1 517.88) scale(1.0000 1)">0</text>
<line x1="203.7" y1="481.17" x2="207.3" y2="481.17" stroke="#5e5e5e" stroke-width="0.8"/>
<text x="0" y="0" font-size="7" text-anchor="end" font-weight="normal" fill="#1c1c1c" stroke="#1c1c1c" stroke-width="0.32" transform="translate(205.1 483.55) scale(1.0000 1)">2</text>
<line x1="203.7" y1="446.83" x2="207.3" y2="446.83" stroke="#5e5e5e" stroke-width="0.8"/>
<text x="0" y="0" font-size="7" text-anchor="end" font-weight="normal" fill="#1c1c1c" stroke="#1c1c1c" stroke-width="0.32" transform="translate(205.1 449.21) scale(1.0000 1)">4</text>
<line x1="203.7" y1="412.5" x2="207.3" y2="412.5" stroke="#5e5e5e" stroke-width="0.8"/>
<text x="0" y="0" font-size="7" text-anchor="end" font-weight="normal" fill="#1c1c1c" stroke="#1c1c1c" stroke-width="0.32" transform="translate(205.1 414.88) scale(1.0000 1)">6</text>
<text x="0" y="0" font-size="8" text-anchor="middle" font-weight="normal" fill="#1c1c1c" stroke="#1c1c1c" stroke-width="0.32" transform="translate(196 464.55) rotate(-90) scale(0.8377 1)">Relative plasma miR-146a-5p levels</text>
<text x="0" y="0" font-size="7.5" text-anchor="middle" font-weight="normal" fill="#1c1c1c" stroke="#1c1c1c" stroke-width="0.32" transform="translate(283 534.8) scale(0.9156 1)">Time (w)</text>
<line x1="403.81" y1="515.3" x2="403.81" y2="513.5" stroke="#5e5e5e" stroke-width="0.8"/>
<text x="0" y="0" font-size="7.3" text-anchor="middle" font-weight="normal" fill="#1c1c1c" stroke="#1c1c1c" stroke-width="0.32" transform="translate(403.81 523.3) scale(0.9000 1)">9</text>
<line x1="421.12" y1="515.3" x2="421.12" y2="513.5" stroke="#5e5e5e" stroke-width="0.8"/>
<text x="0" y="0" font-size="7.3" text-anchor="middle" font-weight="normal" fill="#1c1c1c" stroke="#1c1c1c" stroke-width="0.32" transform="translate(421.12 523.3) scale(0.9000 1)">11</text>
<line x1="438.43" y1="515.3" x2="438.43" y2="513.5" stroke="#5e5e5e" stroke-width="0.8"/>
<text x="0" y="0" font-size="7.3" text-anchor="middle" font-weight="normal" fill="#1c1c1c" stroke="#1c1c1c" stroke-width="0.32" transform="translate(438.43 523.3) scale(0.9000 1)">13</text>
<line x1="455.74" y1="515.3" x2="455.74" y2="513.5" stroke="#5e5e5e" stroke-width="0.8"/>
<text x="0" y="0" font-size="7.3" text-anchor="middle" font-weight="normal" fill="#1c1c1c" stroke="#1c1c1c" stroke-width="0.32" transform="translate(455.74 523.3) scale(0.9000 1)">15</text>
<line x1="473.06" y1="515.3" x2="473.06" y2="513.5" stroke="#5e5e5e" stroke-width="0.8"/>
<text x="0" y="0" font-size="7.3" text-anchor="middle" font-weight="normal" fill="#1c1c1c" stroke="#1c1c1c" stroke-width="0.32" transform="translate(473.06 523.3) scale(0.9000 1)">17</text>
<line x1="490.37" y1="515.3" x2="490.37" y2="513.5" stroke="#5e5e5e" stroke-width="0.8"/>
<text x="0" y="0" font-size="7.3" text-anchor="middle" font-weight="normal" fill="#1c1c1c" stroke="#1c1c1c" stroke-width="0.32" transform="translate(490.37 523.3) scale(0.9000 1)">19</text>
<line x1="507.68" y1="515.3" x2="507.68" y2="513.5" stroke="#5e5e5e" stroke-width="0.8"/>
<text x="0" y="0" font-size="7.3" text-anchor="middle" font-weight="normal" fill="#1c1c1c" stroke="#1c1c1c" stroke-width="0.32" transform="translate(507.68 523.3) scale(0.9000 1)">21</text>
<line x1="524.99" y1="515.3" x2="524.99" y2="513.5" stroke="#5e5e5e" stroke-width="0.8"/>
<text x="0" y="0" font-size="7.3" text-anchor="middle" font-weight="normal" fill="#1c1c1c" stroke="#1c1c1c" stroke-width="0.32" transform="translate(524.99 523.3) scale(0.9000 1)">23</text>
<text x="0" y="0" font-size="7.3" text-anchor="middle" font-weight="normal" fill="#1c1c1c" stroke="#1c1c1c" stroke-width="0.32" transform="translate(542.3 523.3) scale(0.9000 1)">25</text>
<line x1="394.5" y1="419.5" x2="406.4" y2="419.5" stroke="#8e8e8e" stroke-width="1.2"/>
<circle cx="400.45" cy="419.5" r="2.09" fill="#8e8e8e"/>
<line x1="394.5" y1="429" x2="406.4" y2="429" stroke="#c4c4c4" stroke-width="1.2"/>
<polygon points="400.45,426.69 398.14,430.68 402.76,430.68" fill="#a2a2a2"/>
<line x1="449.5" y1="419.5" x2="461.4" y2="419.5" stroke="#de2b22" stroke-width="1.3"/>
<rect x="453.64" y="417.69" width="3.61" height="3.61" fill="#de2b22"/>
<line x1="449.5" y1="429" x2="461.4" y2="429" stroke="#1b4d82" stroke-width="1.3"/>
<polygon points="453.26,427.38 457.63,427.38 455.45,431.19" fill="#1b4d82"/>
<text x="0" y="0" font-size="6.89" text-anchor="start" font-weight="normal" fill="#1c1c1c" stroke="#1c1c1c" stroke-width="0.32" transform="translate(412.2 421.8) scale(0.9015 1)">WT female</text>
<text x="0" y="0" font-size="6.89" text-anchor="start" font-weight="normal" fill="#1c1c1c" stroke="#1c1c1c" stroke-width="0.32" transform="translate(412.2 431.2) scale(0.9015 1)">WT male</text>
<text x="0" y="0" font-size="6.89" text-anchor="start" font-weight="normal" fill="#1c1c1c" stroke="#1c1c1c" stroke-width="0.32" transform="translate(467.6 421.8) scale(0.8843 1)">APP/PS1 female</text>
<text x="0" y="0" font-size="6.89" text-anchor="start" font-weight="normal" fill="#1c1c1c" stroke="#1c1c1c" stroke-width="0.32" transform="translate(467.6 431.2) scale(0.8843 1)">APP/PS1 male</text>
<line x1="403.81" y1="492.17" x2="403.81" y2="504.16" stroke="#a0a0a0" stroke-width="0.8"/>
<line x1="401.81" y1="492.17" x2="405.81" y2="492.17" stroke="#a0a0a0" stroke-width="0.8"/>
<line x1="401.81" y1="504.16" x2="405.81" y2="504.16" stroke="#a0a0a0" stroke-width="0.8"/>
<line x1="421.12" y1="488.74" x2="421.12" y2="507.59" stroke="#a0a0a0" stroke-width="0.8"/>
<line x1="419.12" y1="488.74" x2="423.12" y2="488.74" stroke="#a0a0a0" stroke-width="0.8"/>
<line x1="419.12" y1="507.59" x2="423.12" y2="507.59" stroke="#a0a0a0" stroke-width="0.8"/>
<line x1="438.43" y1="495.6" x2="438.43" y2="500.74" stroke="#a0a0a0" stroke-width="0.8"/>
<line x1="436.43" y1="495.6" x2="440.43" y2="495.6" stroke="#a0a0a0" stroke-width="0.8"/>
<line x1="436.43" y1="500.74" x2="440.43" y2="500.74" stroke="#a0a0a0" stroke-width="0.8"/>
<line x1="455.74" y1="486.34" x2="455.74" y2="509.99" stroke="#a0a0a0" stroke-width="0.8"/>
<line x1="453.74" y1="486.34" x2="457.74" y2="486.34" stroke="#a0a0a0" stroke-width="0.8"/>
<line x1="453.74" y1="509.99" x2="457.74" y2="509.99" stroke="#a0a0a0" stroke-width="0.8"/>
<line x1="473.06" y1="494.74" x2="473.06" y2="501.59" stroke="#a0a0a0" stroke-width="0.8"/>
<line x1="471.06" y1="494.74" x2="475.06" y2="494.74" stroke="#a0a0a0" stroke-width="0.8"/>
<line x1="471.06" y1="501.59" x2="475.06" y2="501.59" stroke="#a0a0a0" stroke-width="0.8"/>
<line x1="490.37" y1="494.74" x2="490.37" y2="501.59" stroke="#a0a0a0" stroke-width="0.8"/>
<line x1="488.37" y1="494.74" x2="492.37" y2="494.74" stroke="#a0a0a0" stroke-width="0.8"/>
<line x1="488.37" y1="501.59" x2="492.37" y2="501.59" stroke="#a0a0a0" stroke-width="0.8"/>
<line x1="507.68" y1="485.83" x2="507.68" y2="510.5" stroke="#a0a0a0" stroke-width="0.8"/>
<line x1="505.68" y1="485.83" x2="509.68" y2="485.83" stroke="#a0a0a0" stroke-width="0.8"/>
<line x1="505.68" y1="510.5" x2="509.68" y2="510.5" stroke="#a0a0a0" stroke-width="0.8"/>
<line x1="524.99" y1="495.6" x2="524.99" y2="500.74" stroke="#a0a0a0" stroke-width="0.8"/>
<line x1="522.99" y1="495.6" x2="526.99" y2="495.6" stroke="#a0a0a0" stroke-width="0.8"/>
<line x1="522.99" y1="500.74" x2="526.99" y2="500.74" stroke="#a0a0a0" stroke-width="0.8"/>
<line x1="403.81" y1="492" x2="403.81" y2="497.14" stroke="#e8766c" stroke-width="0.8"/>
<line x1="401.81" y1="492" x2="405.81" y2="492" stroke="#e8766c" stroke-width="0.8"/>
<line x1="401.81" y1="497.14" x2="405.81" y2="497.14" stroke="#e8766c" stroke-width="0.8"/>
<line x1="403.81" y1="485.15" x2="403.81" y2="499.19" stroke="#5f82ad" stroke-width="0.8"/>
<line x1="401.81" y1="485.15" x2="405.81" y2="485.15" stroke="#5f82ad" stroke-width="0.8"/>
<line x1="401.81" y1="499.19" x2="405.81" y2="499.19" stroke="#5f82ad" stroke-width="0.8"/>
<line x1="421.12" y1="498.68" x2="421.12" y2="503.82" stroke="#e8766c" stroke-width="0.8"/>
<line x1="419.12" y1="498.68" x2="423.12" y2="498.68" stroke="#e8766c" stroke-width="0.8"/>
<line x1="419.12" y1="503.82" x2="423.12" y2="503.82" stroke="#e8766c" stroke-width="0.8"/>
<line x1="421.12" y1="481.03" x2="421.12" y2="493.03" stroke="#5f82ad" stroke-width="0.8"/>
<line x1="419.12" y1="481.03" x2="423.12" y2="481.03" stroke="#5f82ad" stroke-width="0.8"/>
<line x1="419.12" y1="493.03" x2="423.12" y2="493.03" stroke="#5f82ad" stroke-width="0.8"/>
<line x1="438.43" y1="492.34" x2="438.43" y2="500.57" stroke="#e8766c" stroke-width="0.8"/>
<line x1="436.43" y1="492.34" x2="440.43" y2="492.34" stroke="#e8766c" stroke-width="0.8"/>
<line x1="436.43" y1="500.57" x2="440.43" y2="500.57" stroke="#e8766c" stroke-width="0.8"/>
<line x1="438.43" y1="501.25" x2="438.43" y2="504.68" stroke="#5f82ad" stroke-width="0.8"/>
<line x1="436.43" y1="501.25" x2="440.43" y2="501.25" stroke="#5f82ad" stroke-width="0.8"/>
<line x1="436.43" y1="504.68" x2="440.43" y2="504.68" stroke="#5f82ad" stroke-width="0.8"/>
<line x1="455.74" y1="498.85" x2="455.74" y2="503.99" stroke="#e8766c" stroke-width="0.8"/>
<line x1="453.74" y1="498.85" x2="457.74" y2="498.85" stroke="#e8766c" stroke-width="0.8"/>
<line x1="453.74" y1="503.99" x2="457.74" y2="503.99" stroke="#e8766c" stroke-width="0.8"/>
<line x1="455.74" y1="489.09" x2="455.74" y2="509.65" stroke="#5f82ad" stroke-width="0.8"/>
<line x1="453.74" y1="489.09" x2="457.74" y2="489.09" stroke="#5f82ad" stroke-width="0.8"/>
<line x1="453.74" y1="509.65" x2="457.74" y2="509.65" stroke="#5f82ad" stroke-width="0.8"/>
<line x1="473.06" y1="510.16" x2="473.06" y2="513.59" stroke="#e8766c" stroke-width="0.8"/>
<line x1="471.06" y1="510.16" x2="475.06" y2="510.16" stroke="#e8766c" stroke-width="0.8"/>
<line x1="471.06" y1="513.59" x2="475.06" y2="513.59" stroke="#e8766c" stroke-width="0.8"/>
<line x1="473.06" y1="476.58" x2="473.06" y2="490.29" stroke="#5f82ad" stroke-width="0.8"/>
<line x1="471.06" y1="476.58" x2="475.06" y2="476.58" stroke="#5f82ad" stroke-width="0.8"/>
<line x1="471.06" y1="490.29" x2="475.06" y2="490.29" stroke="#5f82ad" stroke-width="0.8"/>
<line x1="490.37" y1="487.89" x2="490.37" y2="491.31" stroke="#e8766c" stroke-width="0.8"/>
<line x1="488.37" y1="487.89" x2="492.37" y2="487.89" stroke="#e8766c" stroke-width="0.8"/>
<line x1="488.37" y1="491.31" x2="492.37" y2="491.31" stroke="#e8766c" stroke-width="0.8"/>
<line x1="490.37" y1="475.55" x2="490.37" y2="478.98" stroke="#5f82ad" stroke-width="0.8"/>
<line x1="488.37" y1="475.55" x2="492.37" y2="475.55" stroke="#5f82ad" stroke-width="0.8"/>
<line x1="488.37" y1="478.98" x2="492.37" y2="478.98" stroke="#5f82ad" stroke-width="0.8"/>
<line x1="507.68" y1="485.83" x2="507.68" y2="491.66" stroke="#e8766c" stroke-width="0.8"/>
<line x1="505.68" y1="485.83" x2="509.68" y2="485.83" stroke="#e8766c" stroke-width="0.8"/>
<line x1="505.68" y1="491.66" x2="509.68" y2="491.66" stroke="#e8766c" stroke-width="0.8"/>
<line x1="507.68" y1="453.79" x2="507.68" y2="459.96" stroke="#5f82ad" stroke-width="0.8"/>
<line x1="505.68" y1="453.79" x2="509.68" y2="453.79" stroke="#5f82ad" stroke-width="0.8"/>
<line x1="505.68" y1="459.96" x2="509.68" y2="459.96" stroke="#5f82ad" stroke-width="0.8"/>
<line x1="524.99" y1="484.29" x2="524.99" y2="487.72" stroke="#e8766c" stroke-width="0.8"/>
<line x1="522.99" y1="484.29" x2="526.99" y2="484.29" stroke="#e8766c" stroke-width="0.8"/>
<line x1="522.99" y1="487.72" x2="526.99" y2="487.72" stroke="#e8766c" stroke-width="0.8"/>
<line x1="524.99" y1="507.76" x2="524.99" y2="511.19" stroke="#5f82ad" stroke-width="0.8"/>
<line x1="522.99" y1="507.76" x2="526.99" y2="507.76" stroke="#5f82ad" stroke-width="0.8"/>
<line x1="522.99" y1="511.19" x2="526.99" y2="511.19" stroke="#5f82ad" stroke-width="0.8"/>
<line x1="403.81" y1="498.17" x2="524.99" y2="498.17" stroke="#9a9a9a" stroke-width="1.2"/>
<polygon points="403.81,495.97 401.61,499.77 406.01,499.77" fill="#b4b4b4"/>
<circle cx="403.81" cy="498.17" r="1.9" fill="#8e8e8e"/>
<polygon points="421.12,495.97 418.92,499.77 423.32,499.77" fill="#b4b4b4"/>
<circle cx="421.12" cy="498.17" r="1.9" fill="#8e8e8e"/>
<polygon points="438.43,495.97 436.23,499.77 440.63,499.77" fill="#b4b4b4"/>
<circle cx="438.43" cy="498.17" r="1.9" fill="#8e8e8e"/>
<polygon points="455.74,495.97 453.54,499.77 457.94,499.77" fill="#b4b4b4"/>
<circle cx="455.74" cy="498.17" r="1.9" fill="#8e8e8e"/>
<polygon points="473.06,495.97 470.86,499.77 475.26,499.77" fill="#b4b4b4"/>
<circle cx="473.06" cy="498.17" r="1.9" fill="#8e8e8e"/>
<polygon points="490.37,495.97 488.17,499.77 492.57,499.77" fill="#b4b4b4"/>
<circle cx="490.37" cy="498.17" r="1.9" fill="#8e8e8e"/>
<polygon points="507.68,495.97 505.48,499.77 509.88,499.77" fill="#b4b4b4"/>
<circle cx="507.68" cy="498.17" r="1.9" fill="#8e8e8e"/>
<polygon points="524.99,495.97 522.79,499.77 527.19,499.77" fill="#b4b4b4"/>
<circle cx="524.99" cy="498.17" r="1.9" fill="#8e8e8e"/>
<polyline points="403.81,494.57 421.12,501.25 438.43,496.45 455.74,501.42 473.06,511.87 490.37,489.6 507.68,488.74 524.99,486" fill="none" stroke="#de2b22" stroke-width="1.15" stroke-linejoin="round"/>
<polyline points="403.81,492.17 421.12,487.03 438.43,502.96 455.74,499.37 473.06,483.43 490.37,477.26 507.68,456.88 524.99,509.47" fill="none" stroke="#1b4d82" stroke-width="1.15" stroke-linejoin="round"/>
<rect x="401.91" y="492.67" width="3.8" height="3.8" fill="#de2b22"/>
<rect x="419.22" y="499.35" width="3.8" height="3.8" fill="#de2b22"/>
<rect x="436.53" y="494.55" width="3.8" height="3.8" fill="#de2b22"/>
<rect x="453.84" y="499.52" width="3.8" height="3.8" fill="#de2b22"/>
<rect x="471.16" y="509.97" width="3.8" height="3.8" fill="#de2b22"/>
<rect x="488.47" y="487.7" width="3.8" height="3.8" fill="#de2b22"/>
<rect x="505.78" y="486.84" width="3.8" height="3.8" fill="#de2b22"/>
<rect x="523.09" y="484.1" width="3.8" height="3.8" fill="#de2b22"/>
<polygon points="401.51,490.47 406.11,490.47 403.81,494.47" fill="#1b4d82"/>
<polygon points="418.82,485.33 423.42,485.33 421.12,489.33" fill="#1b4d82"/>
<polygon points="436.13,501.26 440.73,501.26 438.43,505.26" fill="#1b4d82"/>
<polygon points="453.44,497.67 458.04,497.67 455.74,501.67" fill="#1b4d82"/>
<polygon points="470.76,481.73 475.36,481.73 473.06,485.73" fill="#1b4d82"/>
<polygon points="488.07,475.56 492.67,475.56 490.37,479.56" fill="#1b4d82"/>
<polygon points="505.38,455.18 509.98,455.18 507.68,459.18" fill="#1b4d82"/>
<polygon points="522.69,507.77 527.29,507.77 524.99,511.77" fill="#1b4d82"/>
<rect x="470.91" y="443.15" width="1.8" height="1.7" fill="#d42a2a"/>
<rect x="473.41" y="443.15" width="1.8" height="1.7" fill="#d42a2a"/>
<rect x="489.42" y="443.1" width="1.9" height="1.8" fill="#d42a2a"/>
<rect x="505.53" y="443.15" width="1.8" height="1.7" fill="#d42a2a"/>
<rect x="508.03" y="443.15" width="1.8" height="1.7" fill="#d42a2a"/>
<rect x="522.84" y="443.15" width="1.8" height="1.7" fill="#d42a2a"/>
<rect x="525.34" y="443.15" width="1.8" height="1.7" fill="#d42a2a"/>
<rect x="472.11" y="449.1" width="1.9" height="1.8" fill="#2a62c0"/>
<rect x="488.22" y="449.15" width="1.8" height="1.7" fill="#2a62c0"/>
<rect x="490.72" y="449.15" width="1.8" height="1.7" fill="#2a62c0"/>
<rect x="505.53" y="449.15" width="1.8" height="1.7" fill="#2a62c0"/>
<rect x="508.03" y="449.15" width="1.8" height="1.7" fill="#2a62c0"/>
<rect x="524.04" y="449.1" width="1.9" height="1.8" fill="#2a62c0"/>
<rect x="386.5" y="412.5" width="156" height="103" fill="none" stroke="#5e5e5e" stroke-width="1"/>
<line x1="384.7" y1="515.3" x2="388.3" y2="515.3" stroke="#5e5e5e" stroke-width="0.8"/>
<text x="0" y="0" font-size="7" text-anchor="end" font-weight="normal" fill="#1c1c1c" stroke="#1c1c1c" stroke-width="0.32" transform="translate(386.1 517.68) scale(1.0000 1)">0</text>
<line x1="384.7" y1="481.03" x2="388.3" y2="481.03" stroke="#5e5e5e" stroke-width="0.8"/>
<text x="0" y="0" font-size="7" text-anchor="end" font-weight="normal" fill="#1c1c1c" stroke="#1c1c1c" stroke-width="0.32" transform="translate(386.1 483.41) scale(1.0000 1)">2</text>
<line x1="384.7" y1="446.77" x2="388.3" y2="446.77" stroke="#5e5e5e" stroke-width="0.8"/>
<text x="0" y="0" font-size="7" text-anchor="end" font-weight="normal" fill="#1c1c1c" stroke="#1c1c1c" stroke-width="0.32" transform="translate(386.1 449.15) scale(1.0000 1)">4</text>
<line x1="384.7" y1="412.5" x2="388.3" y2="412.5" stroke="#5e5e5e" stroke-width="0.8"/>
<text x="0" y="0" font-size="7" text-anchor="end" font-weight="normal" fill="#1c1c1c" stroke="#1c1c1c" stroke-width="0.32" transform="translate(386.1 414.88) scale(1.0000 1)">6</text>
<text x="0" y="0" font-size="8" text-anchor="middle" font-weight="normal" fill="#1c1c1c" stroke="#1c1c1c" stroke-width="0.32" transform="translate(378 464.45) rotate(-90) scale(0.8461 1)">Relative plasma miR-21-5p levels</text>
<text x="0" y="0" font-size="7.5" text-anchor="middle" font-weight="normal" fill="#1c1c1c" stroke="#1c1c1c" stroke-width="0.32" transform="translate(465 534.8) scale(0.9156 1)">Time (w)</text>
</svg>
</body></html>
